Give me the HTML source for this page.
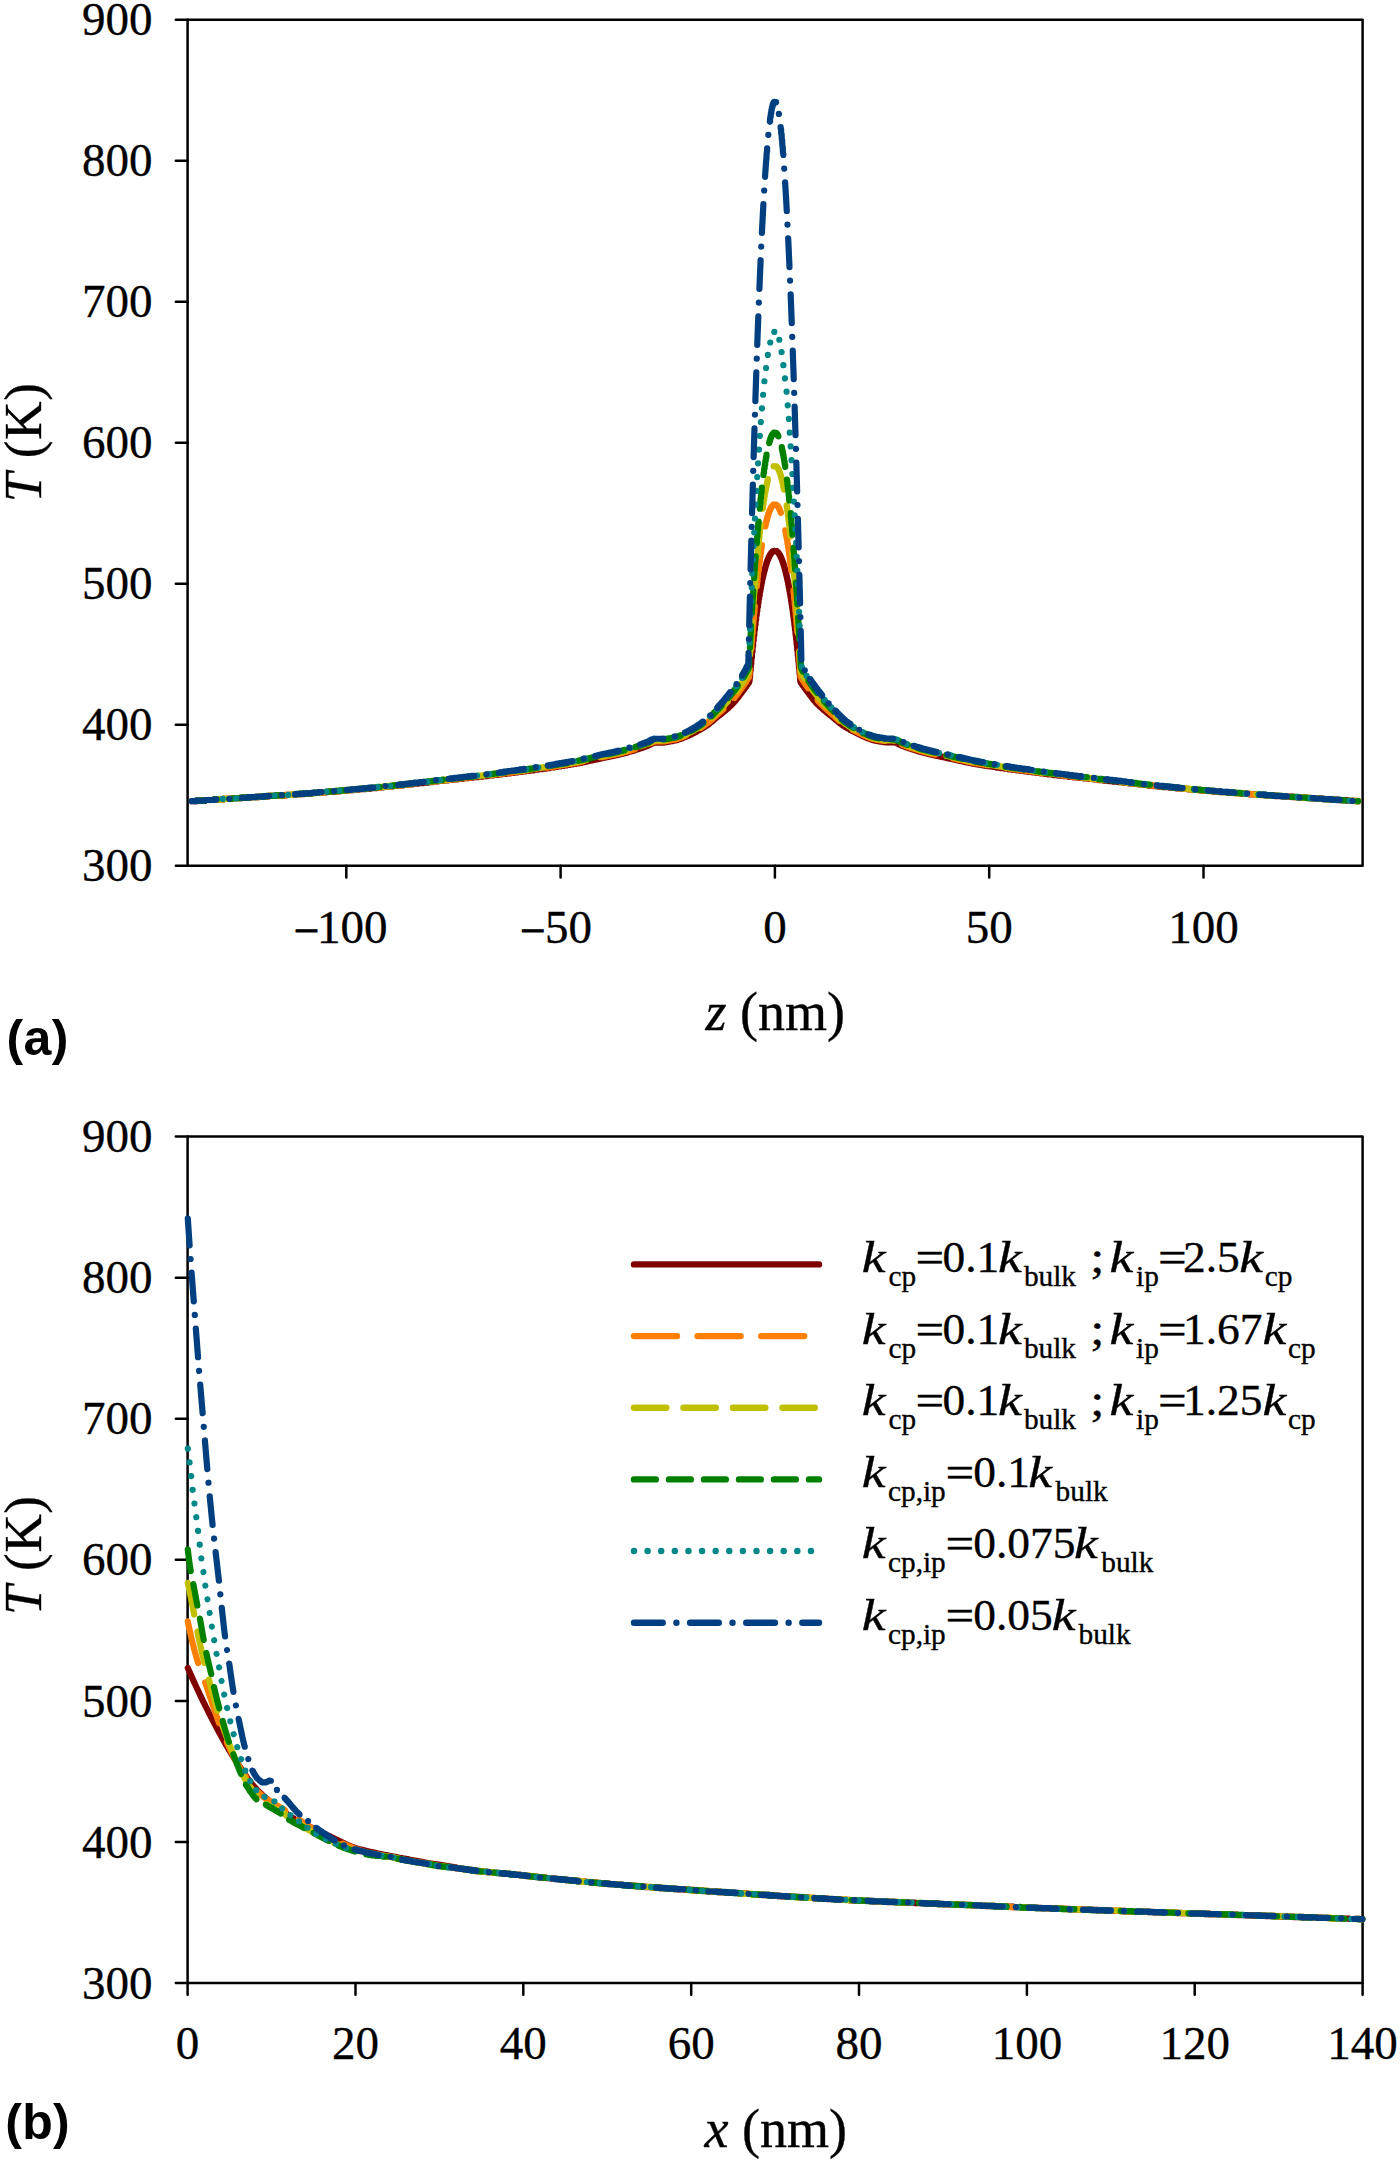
<!DOCTYPE html>
<html lang="en">
<head>
<meta charset="utf-8">
<title>Temperature profiles</title>
<style>html,body{margin:0;padding:0;background:#fff}svg{display:block}</style>
</head>
<body>
<svg width="1400" height="2162" viewBox="0 0 1400 2162">
<rect width="1400" height="2162" fill="#fff"/>
<g fill="none" stroke="#000" stroke-width="2.5" stroke-linecap="round" stroke-linejoin="round">
<rect x="187.6" y="19.8" width="1175" height="845.9"/>
<path d="M175.8 19.8 H187.6"/>
<path d="M175.8 160.8 H187.6"/>
<path d="M175.8 301.8 H187.6"/>
<path d="M175.8 442.8 H187.6"/>
<path d="M175.8 583.7 H187.6"/>
<path d="M175.8 724.7 H187.6"/>
<path d="M175.8 865.7 H187.6"/>
<rect x="187.6" y="1136.6" width="1175" height="846.4"/>
<path d="M175.8 1136.6 H187.6"/>
<path d="M175.8 1277.7 H187.6"/>
<path d="M175.8 1418.7 H187.6"/>
<path d="M175.8 1559.8 H187.6"/>
<path d="M175.8 1700.9 H187.6"/>
<path d="M175.8 1841.9 H187.6"/>
<path d="M175.8 1983 H187.6"/>
<path d="M346.3 865.7 V877.5"/>
<path d="M560.6 865.7 V877.5"/>
<path d="M774.9 865.7 V877.5"/>
<path d="M989.2 865.7 V877.5"/>
<path d="M1203.5 865.7 V877.5"/>
<path d="M187.6 1983 V1994.8"/>
<path d="M355.5 1983 V1994.8"/>
<path d="M523.3 1983 V1994.8"/>
<path d="M691.2 1983 V1994.8"/>
<path d="M859 1983 V1994.8"/>
<path d="M1026.9 1983 V1994.8"/>
<path d="M1194.7 1983 V1994.8"/>
<path d="M1362.6 1983 V1994.8"/>
</g>
<g fill="none" stroke-width="6.2" stroke-linecap="round" stroke-linejoin="round">
<path stroke="#800000" d="M191.8 801.19l4.5-.02v-.27l.02-.29h4.48l4.5-.02v-.28l.02-.29h4.48l4.5-.02v-.27l.02-.3h4.48l4.5-.02v-.27l.02-.29h4.48l4.5-.02v-.28l.02-.29h4.48l4.5-.02v-.28l.02-.29h4.48l4.5-.02v-.28l.02-.29h4.48l4.5-.02v-.27l.02-.28h4.48l4.5-.02v-.27l.02-.29h4.48l4.5-.02v-.27l.02-.29h4.48l4.5-.02v-.28l.02-.3h4.48l4.5-.02v-.28l.02-.28h3.98l4-.01v-.27l.02-.28h3.98l4-.02v-.28l.02-.3h3.98l3.5-.01v-.25l.01-.27h3.49l3.5-.01v-.27l.02-.28h3.48l3.5-.01v-.27l.02-.28h3.48l3.5-.02v-.28l.02-.29h3.48l3.5-.02v-.28l.01-.26h2.99l3-.01v-.25l.01-.26h2.99l3-.01v-.26l.01-.27h2.99l3-.01v-.26l.02-.28h2.98l3-.01v-.27l.01-.28h2.99l3-.01v-.27l.02-.28h2.98l3-.02v-.27l.01-.25h2.49l2.5-.01v-.24l.01-.26h2.49l2.5-.01v-.24l.01-.26h2.49l2.5-.01v-.26l.01-.26h2.49l2.5-.01v-.26l.01-.27h2.49l2.5-.01v-.26l.01-.27h2.49l2.5-.01v-.27l.01-.27h2.49l2.5-.01v-.27l.01-.28h2.49l2.5-.01v-.27l.01-.28h2.49l2.5-.01v-.27l.01-.28h2.49l2.5-.01v-.27l.01-.28h2.49l2.5-.01v-.26l.02-.28h2.48l2.5-.01v-.27l.01-.27h2.49l2.5-.01v-.27l.01-.27h2.49l2.5-.01v-.26l.01-.27h2.49l2.5-.01v-.26l.01-.27h2.49l2.5-.01v-.26l.01-.27h2.49l2.5-.01v-.26l.01-.27h2.49l2.5-.01v-.26l.01-.27h2.49l2.5-.01v-.27l.01-.27h2.49l2.5-.01v-.27l.02-.28h2.48l2.5-.01v-.27l.02-.29h2.48l2.5-.01v-.28l.02-.29h2.48l2.5-.02v-.27l.01-.24h1.99l2-.01v-.23l.01-.25h1.99l2-.01v-.23l.01-.25h1.99l2-.01v-.25l.01-.25h1.99l2-.01v-.24l.01-.26h1.99l2-.01v-.24l.01-.26h1.99l2-.01v-.25l.01-.26h1.99l2-.01v-.25l.01-.26h1.99l2-.01v-.26l.01-.26h1.99l2-.01v-.26l.01-.27h1.99l2-.01v-.27l.01-.27h1.99l2-.01v-.27l.01-.28h1.99l2-.01v-.28l.02-.29h1.98l2-.01v-.28l.02-.3h1.98l2-.02v-.28l.02-.3h1.98l1.5-.01v-.22l.01-.23h1.49l1.5-.01v-.23l.01-.23h1.49l1.5-.01v-.23l.01-.24h1.49l1.5-.01v-.23l.01-.24h1.49l1.5-.01v-.23l.01-.25h1.49l1.5-.01v-.24l.01-.25h1.49l1.5-.01v-.25l.01-.26h1.49l1.5-.01v-.27l.01-.29h1.49l1-.01v-.19l.01-.21h.99l1-.01v-.19l.01-.21h.99l1-.01v-.2l.01-.22h.99l1-.01v-.2l.01-.22h.99l1-.01v-.22l.01-.22h.99l1-.01v-.21l.01-.23h.99l1-.01v-.21l.01-.23h.99l1-.01v-.21l.01-.23h.99l1-.01v-.21l.01-.22h.99l1-.01v-.22l.01-.22h.99l1-.01v-.2l.01-.22h.99l1-.01v-.2l.01-.21h.99l1-.01v-.2l.01-.21h.99l1-.01v-.2l.01-.2h.99l1-.01v-.2l.01-.21h.99l1-.01v-.2l.01-.21h.99l1-.01v-.2l.01-.22h.99l1-.01v-.21l.01-.22h.99l1-.01v-.22l.01-.23h.99l1-.01v-.23l.01-.24h.99l1-.01v-.24l.01-.25h.99l1-.01v-.25l.01-.26h.99l1-.01v-.26l.01-.27h.99l1-.01v-.26l.01-.28h.99l1-.01v-.27l.01-.29h.99l1-.01v-.28l.01-.3h.99l1-.01v-.28l.01-.16h.49l.5-.01v-.14l.01-.15h.49l.5-.01v-.14l.01-.16h.49l.5-.01v-.14l.01-.16h.49l.5-.01v-.15l.01-.16h.49l.5-.01v-.15l.01-.16h.49l.5-.01v-.15l.01-.16h.49l.5-.01v-.15l.01-.17h.49l.5-.01v-.15l.01-.17h.49l.5-.01v-.17l.01-.17h.49l.5-.01v-.17l.01-.18h.49l.5-.01v-.17l.01-.18h.49l.5-.01v-.18l.01-.18h.49l.5-.01v-.18l.01-.19h.49l.5-.01v-.18l.01-.19h.49l.5-.01v-.19l.01-.23h.49l.5-.01v-.23l.01-.26h.49l.5-.01v-.26l.01-.28h.49l.5-.01v-.26l.01-.27h.49l.5-.01v-.24l.01-.24h.49l.5-.01v-.21l.01-.19h.49l1-.01v-.27v.02h7l2.5-.01v-.23l.01-.28h1.49l1.5-.01v-.26l.01-.24h1.49l1.5-.01v-.21l.01-.24h1.49l1.5-.01v-.24l.02-.3h1.48l1-.01v-.21l.01-.27h.99l1-.01v-.28l.01-.16h.49l.5-.01v-.15l.01-.17h.49l.5-.01v-.16l.01-.18h.49l.5-.01v-.18l.01-.19h.49l.5-.01v-.18l.01-.2h.49l.5-.01v-.19l.01-.2h.49l.5-.01v-.19l.01-.21h.49l.5-.01v-.19l.01-.21h.49l.5-.01v-.2l.01-.2h.49l.5-.01v-.21l.01-.21h.49l.5-.01v-.21l.01-.22h.49l.5-.01v-.22l.01-.23h.49l.5-.01v-.22l.01-.24h.49l.5-.01v-.23l.01-.24h.49l.5-.01v-.24l.01-.24h.49l.5-.01v-.24l.01-.25h.49l.5-.01v-.25l.01-.25h.49l.5-.01v-.25l.01-.26h.49l.5-.01v-.25l.01-.26h.49l.5-.01v-.25l.01-.27h.49l.5-.01v-.26l.01-.27h.49l.5-.01v-.27l.01-.28h.49l.5-.01v-.27l.01-.28h.49l.5-.01v-.28l.01-.29h.49l.5-.01v-.28l.01-.3h.49l.5-.01v-.29l.01-.3h.49l.5-.01v-.29l.01-.3h.49l.5-.01v-.3l.01-.31h.49l.5-.01v-.32l.01-.33h.49l.5-.01v-.34l.01-.35h.49l.5-.01v-.35l.01-.37h.49l.5-.01v-.36l.01-.39h.49l.5-.01v-.37l.01-.4h.49l.5-.01v-.39l.01-.4h.49l.5-.01v-.4l.01-.41h.49l.5-.01v-.4l.02-.42h.48l.5-.01v-.41l.01-.42h.49l.5-.01v-.41l.01-.41h.49l.3-.01v-.24l.01-.24h.29l.3-.01v-.24l.01-.24h.29l.3-.01v-.23l.01-.24h.29l.3-.01v-.23l.01-.24h.29l.3-.01v-.23l.01-.23h.29l.3-.01v-.23l.01-.24h.29l.3-.01v-.22l.01-.24h.29l.3-.01v-.23l.01-.24h.29l.3-.01v-.23l.01-.24h.29l.3-.01v-.24l.01-.24h.29l.3-.01v-.24l.01-.24h.29l.3-.01v-.24l.01-.25h.29l.3-.01v-.24l.01-.26h.29l.3-.01v-.24l.01-.26h.29l.3-.01v-.24l.01-.25h.29l.3-.01v-.24l.01-.26h.29l.3-.01v-.24l.01-.25h.29l.3-.01v-.24l.01-.25h.29l.3-.01v-.24l.01-.25h.29l.3-.01v-.24l.01-.25h.29l.3-.01v-.25l.01-.25h.29l.3-.01v-.25l.01-.26h.29l.3-.01v-.25l.01-.26h.29l.3-.01v-.25l.01-.27h.29l.3-.01v-.26l.01-.28h.29l.3-.01v-.26l.01-.28h.29l.3-.01v-.28l.01-.28h.29l.3-.01v-.29l.01-.29h.29l.2-.01v-.19l.01-.2h.19l.2-.01v-.19l.01-.21h.19l.2-.01v-.19l.01-.21h.19l.2-.01v-.2l.01-.21h.19l.2-.01v-.21l.01-.22h.19l.2-.01v-.21l.01-.22h.19l.2-.01v-.21l.01-.23h.19l.2-.01v-.22l.01-.23h.19l.2-.01v-.23l.01-.23h.19l.2-.01v-.23l.01-.24h.19l.2-.01v-.24l.01-.24h.19l.2-.01v-.24l.01-.25h.19l.2-.01v-.24l.01-.25h.19l.2-.01v-.24l.01-.26h.19l.2-.01v-.25l.01-.25h.19l.2-.01v-.25l.01-.26h.19l.2-.01v-.26l.01-.26h.19l.2-.01v-.25l.01-.27h.19l.2-.01v-.25l.01-.27h.19l.2-.01v-.26l.01-.27h.19l.2-.01v-.26l.01-.26h.19l.2-.01v-.26l.01-.27h.19l.2-.01v-.26l.01-.28h.19l.2-.01v-.26l.01-.27h.19l.2-.01v-.26l.01-.27h.19l.2-.01v-.26l.01-.27h.19l.2-.01v-.26l.01-.27h.19l.2-.01v-.26l.01-.26h.19l.2-.01v-.26l.01-.26h.19l.2-.01v-.26l.01-.27h.19l.2-.01v-.25l.01-.27h.19l.2-.01v-.27l.01-.27h.19l.2-.01v-.26l.01-.27h.19l.2-.01v-.27l.01-.27h.19l.2-.01v-.27l.01-.28h.19l.2-.01v-.26l.01-.28h.19l.2-.01v-.27l.01-.28h.19l.2-.01v-.27l.01-.28h.19l.2-.01v-.27l.01-.28h.19l.2-.01v-.28l.01-.28h.19l.2-.01v-.27l.01-.29h.19l.2-.01v-.27l.01-.29h.19l.2-.01v-.27l.01-.29h.19l.2-.02v-.33l.03-.41h.17l.3-.06v-.57l.25-3.42h.05l.3-.68v-2.68l.24-3.3h.06l.3-.61v-2.64l.24-3.19h.06l.3-.55v-2.59l.23-3.08h.07l.3-.49v-2.54l.22-2.97h.08l.3-.44v-2.48l.21-2.87h.09l.3-.4v-2.42l.2-2.77h.1l.3-.37v-2.34l.2-2.67h.1l.3-.36v-2.25l.2-2.57h.1l.3-.36v-2.16l.2-2.46h.1l.3-.36v-2.07l.2-2.37h.1l.3-.37v-1.96l.2-2.28h.1l.3-.37v-1.86l.2-2.19h.1l.3-.37v-1.78l.2-2.1h.1l.3-.36v-1.7l.19-2.01h.11l.3-.31v-1.66l.18-1.92h.12l.3-.26v-1.63l.17-1.84h.13l.3-.23v-1.57l.15-1.76h.15l.3-.2v-1.52l.14-1.67h.16l.3-.17v-1.47l.12-1.6h.18l.3-.15v-1.4l.11-1.52h.19l.3-.13v-1.35l.1-1.44h.2l.3-.11v-1.29l.09-1.37h.21l.3-.09v-1.23l.08-1.29h.22l.3-.09v-1.16l.08-1.22h.22l.3-.09v-1.08l.08-1.15h.22l.3-.09v-1.01l.08-1.07h.22l.3-.09v-.94l.08-1h.22l.3-.09v-.88l.08-.92h.22l.3-.09v-.81l.08-.86h.22l.3-.09v-.73l.08-.79h.22l.3-.08v-.68l.08-.72h.22l.3-.08v-.61l.07-.65h.23l.3-.08v-.55l.07-.58h.23l.3-.08v-.48l.07-.52h.23l.3-.07v-.42l.07-.46h.23l.3-.07v-.35l.06-.39h.24l.3-.06v-.3l.06-.33h.24l.3-.06v-.23l.06-.3h.28l.4-.06v-.23l.07-.3h.45l1.02-.08v-.22l.1 .29h1.54l.52 .07v.23l.07 .29h.33l.34 .06v.23l.06 .29h.24l.28 .06v.24l.06 .33h.22l.28 .06v.3l.06 .39h.22l.28 .07v.34l.06 .45h.22l.28 .07v.4l.07 .5h.21l.28 .07v.46l.07 .56h.21l.28 .07v.51l.07 .62h.21l.28 .08v.57l.07 .67h.21l.28 .08v.63l.07 .73h.21l.28 .08v.69l.07 .79h.21l.28 .08v.74l.07 .86h.21l.28 .08v.8l.07 .92h.21l.28 .08v.86l.08 .98h.2l.28 .09v.92l.08 1.04h.2l.28 .09v.98l.08 1.1h.2l.28 .09v1.05l.08 1.17h.2l.28 .09v1.1l.08 1.24h.2l.28 .09v1.17l.08 1.3h.2l.28 .1v1.23l.09 1.36h.19l.28 .12v1.28l.1 1.44h.18l.28 .13v1.33l.11 1.5h.17l.28 .15v1.39l.12 1.57h.16l.28 .18v1.43l.14 1.64h.14l.28 .2v1.48l.15 1.71h.13l.28 .23v1.53l.16 1.78h.12l.28 .26v1.57l.17 1.86h.11l.28 .3v1.61l.19 1.93h.09l.28 .35v1.63l.19 2.02h.09l.28 .35v1.71l.19 2.09h.09l.28 .35v1.79l.19 2.18h.09l.28 .34v1.87l.19 2.26h.09l.28 .34v1.96l.19 2.34h.09l.28 .34v2.05l.19 2.43h.09l.28 .33v2.14l.18 2.51h.1l.28 .34v2.22l.19 2.6h.09l.3 .39v2.45l.2 2.7h.08l.28 .4v2.34l.2 2.78h.08l.3 .47v2.57l.21 2.89h.07l.28 .49v2.44l.23 3.2h.07l.3 .59v2.66l.22 3.08h.06l.3 .65v2.71l.25 3.42h.05l.3 .08v.55l.05 .62h.25l.3 .03v.4l.02 .43h.28l.3 .01v.41l.01 .43h.29l.3 .01v.41l.01 .43h.29l.3 .01v.41l.01 .42h.29l.3 .01v.41l.01 .42h.29l.3 .01v.4l.01 .42h.29l.3 .01v.4l.01 .41h.29l.3 .01v.4l.01 .41h.29l.3 .01v.4l.01 .4h.29l.3 .01v.39l.01 .4h.29l.3 .01v.38l.01 .4h.29l.3 .01v.4l.01 .4h.29l.3 .01v.4l.01 .41h.29l.3 .01v.39l.01 .41h.29l.3 .01v.4l.01 .4h.29l.3 .01v.39l.01 .41h.29l.3 .01v.39l.01 .39h.29l.3 .01v.39l.01 .39h.29l.3 .01v.39l.01 .38h.29l.3 .01v.38l.01 .38h.29l.3 .01v.37l.01 .38h.29l.3 .01v.36l.01 .36h.29l.3 .01v.36l.01 .35h.29l.3 .01v.35l.01 .34h.29l.3 .01v.34l.01 .33h.29l.3 .01v.32l.01 .33h.29l.3 .01v.31l.01 .31h.29l.3 .01v.3l.01 .31h.29l.3 .01v.29l.01 .3h.29l.3 .01v.28l.01 .29h.29l.3 .01v.28l.01 .28h.29l.3 .01v.27l.01 .28h.29l.3 .01v.26l.01 .27h.29l.3 .01v.25l.01 .27h.29l.3 .01v.25l.01 .26h.29l.3 .01v.25l.01 .25h.29l.3 .01v.25l.01 .25h.29l.3 .01v.24l.01 .26h.29l.3 .01v.24l.01 .25h.29l.3 .01v.24l.01 .25h.29l.3 .01v.24l.01 .25h.29l.3 .01v.24l.01 .25h.29l.3 .01v.24l.01 .26h.29l.3 .01v.24l.01 .26h.29l.3 .01v.24l.01 .25h.29l.3 .01v.24l.01 .25h.29l.3 .01v.24l.01 .24h.29l.3 .01v.24l.01 .24h.29l.3 .01v.23l.01 .24h.29l.3 .01v.23l.01 .24h.29l.3 .01v.23l.01 .23h.29l.3 .01v.23l.01 .24h.29l.3 .01v.22l.01 .24h.29l.3 .01v.23l.01 .24h.29l.3 .01v.23l.01 .24h.29l.3 .01v.24l.01 .24h.29l.3 .01v.24l.01 .16h.19l.5 .01v.4l.01 .42h.49l.5 .01v.41l.01 .42h.49l.5 .01v.41l.01 .41h.49l.5 .01v.4l.01 .41h.49l.5 .01v.39l.01 .4h.49l.5 .01v.39l.01 .38h.49l.5 .01v.38l.01 .37h.49l.5 .01v.36l.01 .36h.49l.5 .01v.34l.01 .35h.49l.5 .01v.32l.01 .33h.49l.5 .01v.3l.01 .31h.49l.5 .01v.29l.01 .3h.49l.5 .01v.29l.01 .3h.49l.5 .01v.29l.01 .29h.49l.5 .01v.28l.01 .29h.49l.5 .01v.27l.01 .28h.49l.5 .01v.27l.01 .28h.49l.5 .01v.26l.01 .27h.49l.5 .01v.26l.01 .26h.49l.5 .01v.25l.01 .26h.49l.5 .01v.25l.01 .26h.49l.5 .01v.24l.01 .26h.49l.5 .01v.24l.01 .25h.49l.5 .01v.23l.01 .25h.49l.5 .01v.23l.01 .24h.49l.5 .01v.23l.01 .23h.49l.5 .01v.22l.01 .23h.49l.5 .01v.21l.01 .22h.49l.5 .01v.2l.01 .22h.49l.5 .01v.19l.01 .21h.49l.5 .01v.2l.01 .2h.49l.5 .01v.2l.01 .2h.49l.5 .01v.19l.01 .2h.49l.5 .01v.19l.01 .19h.49l.5 .01v.18l.01 .19h.49l.5 .01v.17l.01 .17h.49l.5 .01v.16l.01 .16h.49l.5 .01v.15l.01 .29h.99l1 .01v.26l.01 .22h.99l1.5 .01v.29l.01 .25h1.49l1.5 .01v.23l.02 .3h1.98l1.5 .01v.23l.01 .29h1.49l1.5 .01v.24v.06h7l2.5 .01v.2l.01 .16h.49l.5 .01v.18l.01 .22h.49l.5 .01v.23l.01 .25h.49l.5 .01v.26l.01 .27h.49l.5 .01v.27l.01 .27h.49l.5 .01v.25l.01 .24h.49l.5 .01v.22l.01 .2h.49l.5 .01v.18l.01 .19h.49l.5 .01v.18l.01 .19h.49l.5 .01v.17l.01 .19h.49l.5 .01v.17l.01 .18h.49l.5 .01v.17l.01 .18h.49l.5 .01v.16l.01 .18h.49l.5 .01v.16l.01 .16h.49l.5 .01v.16l.01 .16h.49l.5 .01v.15l.01 .16h.49l.5 .01v.15l.01 .16h.49l.5 .01v.15l.01 .16h.49l.5 .01v.15l.01 .15h.49l.5 .01v.15l.01 .15h.49l.5 .01v.14l.01 .15h.49l.5 .01v.15l.01 .29h.99l1 .01v.29l.01 .29h.99l1 .01v.28l.01 .28h.99l1 .01v.27l.01 .27h.99l1 .01v.26l.01 .27h.99l1 .01v.25l.01 .26h.99l1 .01v.24l.01 .25h.99l1 .01v.23l.01 .24h.99l1 .01v.22l.01 .23h.99l1 .01v.21l.01 .22h.99l1 .01v.21l.01 .21h.99l1 .01v.2l.01 .21h.99l1 .01v.2l.01 .21h.99l1 .01v.19l.01 .21h.99l1 .01v.2l.01 .21h.99l1 .01v.2l.01 .21h.99l1 .01v.21l.01 .21h.99l1 .01v.21l.01 .23h.99l1 .01v.21l.01 .22h.99l1 .01v.22l.01 .22h.99l1 .01v.22l.01 .22h.99l1 .01v.22l.01 .22h.99l1 .01v.21l.01 .23h.99l1 .01v.21l.01 .21h.99l1 .01v.21l.01 .21h.99l1 .01v.2l.01 .2h.99l1 .01v.2l.01 .29h1.49l1.5 .01v.28l.01 .28h1.49l1.5 .01v.25l.01 .25h1.49l1.5 .01v.25l.01 .24h1.49l1.5 .01v.24l.01 .24h1.49l1.5 .01v.23l.01 .24h1.49l1.5 .01v.23l.01 .24h1.49l1.5 .01v.22l.01 .24h1.49l1.5 .01v.22l.01 .23h1.49l2 .02v.28l.02 .3h1.98l2 .01v.28l.02 .29h1.98l2 .01v.28l.01 .29h1.99l2 .01v.27l.01 .28h1.99l2 .01v.26l.01 .28h1.99l2 .01v.26l.01 .26h1.99l2 .01v.26l.01 .27h1.99l2 .01v.25l.01 .26h1.99l2 .01v.25l.01 .25h1.99l2 .01v.25l.01 .26h1.99l2 .01v.24l.01 .25h1.99l2 .01v.25l.01 .25h1.99l2 .01v.24l.01 .24h1.99l2 .01v.24l.02 .3h2.48l2.5 .02v.27l.02 .3h2.48l2.5 .01v.28l.02 .28h2.48l2.5 .01v.28l.01 .28h2.49l2.5 .01v.26l.02 .28h2.48l2.5 .01v.27l.01 .27h2.49l2.5 .01v.26l.01 .27h2.49l2.5 .01v.26l.01 .27h2.49l2.5 .01v.26l.01 .27h2.49l2.5 .01v.26l.01 .27h2.49l2.5 .01v.26l.01 .27h2.49l2.5 .01v.27l.01 .27h2.49l2.5 .01v.27l.01 .27h2.49l2.5 .01v.27l.02 .28h2.48l2.5 .01v.27l.01 .28h2.49l2.5 .01v.27l.01 .28h2.49l2.5 .01v.27l.01 .28h2.49l2.5 .01v.26l.01 .28h2.49l2.5 .01v.27l.01 .27h2.49l2.5 .01v.26l.01 .27h2.49l2.5 .01v.26l.01 .27h2.49l2.5 .01v.25l.01 .26h2.49l2.5 .01v.25l.01 .26h2.49l3 .02v.28l.02 .3h2.98l3 .02v.27l.02 .28h2.98l3 .01v.27l.02 .28h2.98l3 .01v.27l.01 .28h2.99l3 .01v.26l.01 .27h2.99l3 .01v.26l.01 .26h2.99l3 .01v.25l.01 .26h2.99l3 .01v.25l.02 .29h3.48l3.5 .02v.27l.02 .29h3.48l3.5 .01v.27l.02 .28h3.48l3.5 .01v.27l.01 .27h3.49l3.5 .01v.25l.01 .27h3.49l4 .02v.27l.02 .29h3.98l4 .02v.26l.02 .28h3.98l4 .01v.26l.01 .27h3.99l4.5 .02v.28l.02 .29h4.48l4.5 .02v.27l.02 .29h4.48l4.5 .02v.27l.02 .29h4.48l4.5 .02v.26l.02 .29h4.48l4.5 .02v.28l.02 .29h4.48l4.5 .02v.28l.02 .29h4.48l4.5 .02v.28l.02 .29h4.48l4.5 .02v.27l.02 .3h4.48l4.5 .02v.27l.02 .29h4.48l4.5 .02v.28l.02 .29h4.48l4.5 .02v.27l.01 .13h1.99"/>
<path stroke="#ff8000" stroke-dasharray="43 20.6" stroke-dashoffset="58.4" d="M191.8 801.19l4.5-.02v-.27l.02-.29h4.48l4.5-.02v-.28l.02-.29h4.48l4.5-.02v-.28l.02-.29h4.48l4.5-.02v-.28l.02-.29h4.48l4.5-.02v-.28l.02-.3h4.48l4.5-.02v-.28l.02-.29h4.48l4-.01v-.26l.02-.29h4.48l4.5-.02v-.28l.02-.29h4.48l4.5-.02v-.27l.02-.29h4.48l4.5-.02v-.27l.02-.3h4.48l4.5-.02v-.28l.01-.27h3.99l4-.01v-.26l.02-.28h3.98l4-.02v-.26l.02-.29h3.98l3.5-.01v-.25l.01-.27h3.49l3.5-.01v-.25l.01-.28h3.49l3.5-.01v-.26l.02-.28h3.48l3.5-.02v-.27l.02-.28h3.48l3.5-.02v-.27l.01-.26h2.99l3.5-.02v-.28l.01-.26h2.99l3-.01v-.25l.01-.27h2.99l3-.01v-.26l.01-.27h2.99l3-.01v-.26l.02-.28h2.98l3-.01v-.27l.02-.28h2.98l3-.01v-.27l.02-.29h2.98l3-.02v-.27l.02-.3h2.98l2.5-.01v-.24l.01-.26h2.49l2.5-.01v-.25l.01-.26h2.49l2.5-.01v-.25l.01-.27h2.49l2.5-.01v-.26l.01-.28h2.49l2.5-.01v-.26l.01-.28h2.49l2.5-.01v-.27l.01-.28h2.49l2.5-.01v-.27l.02-.29h2.48l2.5-.01v-.27l.02-.29h2.48l2.5-.01v-.27l.02-.29h2.48l2.5-.01v-.27l.02-.29h2.48l2.5-.01v-.28l.01-.28h2.49l2.5-.01v-.28l.01-.28h2.49l2.5-.01v-.27l.02-.28h2.48l2.5-.01v-.27l.01-.28h2.49l2.5-.01v-.27l.01-.28h2.49l2.5-.01v-.26l.01-.28h2.49l2.5-.01v-.27l.01-.28h2.49l2.5-.01v-.27l.01-.28h2.49l2.5-.01v-.27l.01-.28h2.49l2.5-.01v-.28l.02-.28h2.48l2.5-.02v-.27l.02-.29h2.48l2.5-.02v-.28l.02-.29h2.48l2-.01v-.24l.02-.3h2.48l2-.01v-.23l.01-.25h1.99l2-.01v-.24l.01-.26h1.99l2-.01v-.24l.01-.26h1.99l2-.01v-.25l.01-.27h1.99l2-.01v-.25l.01-.26h1.99l2-.01v-.26l.01-.26h1.99l2-.01v-.26l.01-.27h1.99l2-.01v-.26l.01-.27h1.99l2-.01v-.27l.01-.27h1.99l2-.01v-.27l.02-.29h1.98l2-.01v-.27l.02-.29h1.98l2-.01v-.28l.02-.29h1.98l1.5-.01v-.22l.02-.3h1.98l2-.02v-.28l.01-.23h1.49l1.5-.01v-.22l.01-.24h1.49l1.5-.01v-.22l.01-.24h1.49l1.5-.01v-.23l.01-.25h1.49l1.5-.01v-.23l.01-.25h1.49l1.5-.01v-.24l.01-.25h1.49l1.5-.01v-.24l.01-.25h1.49l1.5-.01v-.25l.01-.26h1.49l1.5-.01v-.26l.01-.27h1.49l1.5-.01v-.28l.01-.29h1.49l1-.01v-.2l.01-.2h.99l1-.01v-.2l.01-.22h.99l1-.01v-.21l.01-.21h.99l1-.01v-.22l.01-.22h.99l1-.01v-.22l.01-.22h.99l1-.01v-.22l.01-.23h.99l1-.01v-.22l.01-.23h.99l1-.01v-.22l.01-.23h.99l1-.01v-.22l.01-.22h.99l1-.01v-.22l.01-.22h.99l1-.01v-.21l.01-.22h.99l1-.01v-.21l.01-.21h.99l1-.01v-.2l.01-.21h.99l1-.01v-.2l.01-.21h.99l1-.01v-.2l.01-.21h.99l1-.01v-.2l.01-.21h.99l1-.01v-.2l.01-.22h.99l1-.01v-.21l.01-.22h.99l1-.01v-.22l.01-.23h.99l1-.01v-.22l.01-.25h.99l1-.01v-.23l.01-.25h.99l1-.01v-.25l.01-.26h.99l1-.01v-.26l.01-.27h.99l1-.01v-.26l.01-.28h.99l1-.01v-.27l.01-.28h.99l1-.01v-.28l.01-.3h.99l1-.01v-.29l.01-.3h.99l.5-.01v-.14l.01-.15h.49l.5-.01v-.15l.01-.15h.49l.5-.01v-.15l.01-.16h.49l.5-.01v-.14l.01-.16h.49l.5-.01v-.15l.01-.16h.49l.5-.01v-.16l.01-.16h.49l.5-.01v-.15l.01-.17h.49l.5-.01v-.15l.01-.17h.49l.5-.01v-.17l.01-.17h.49l.5-.01v-.17l.01-.18h.49l.5-.01v-.17l.01-.19h.49l.5-.01v-.17l.01-.19h.49l.5-.01v-.18l.01-.19h.49l.5-.01v-.18l.01-.19h.49l.5-.01v-.19l.01-.23h.49l.5-.01v-.23l.01-.26h.49l.5-.01v-.26l.01-.27h.49l.5-.01v-.27l.01-.26h.49l.5-.01v-.25l.01-.24h.49l.5-.01v-.21l.01-.19h.49l1-.01v-.28v.03h7l2.5-.01v-.24l.01-.28h1.49l1.5-.01v-.26l.01-.24h1.49l1.5-.01v-.22l.01-.23h1.49l1.5-.01v-.25l.02-.3h1.48l1-.01v-.22l.01-.26h.99l1-.01v-.29l.01-.16h.49l.5-.01v-.16l.01-.17h.49l.5-.01v-.17l.01-.18h.49l.5-.01v-.18l.01-.2h.49l.5-.01v-.18l.01-.2h.49l.5-.01v-.2l.01-.21h.49l.5-.01v-.2l.01-.21h.49l.5-.01v-.2l.01-.21h.49l.5-.01v-.2l.01-.22h.49l.5-.01v-.21l.01-.22h.49l.5-.01v-.22l.01-.23h.49l.5-.01v-.22l.01-.24h.49l.5-.01v-.23l.01-.24h.49l.5-.01v-.24l.01-.25h.49l.5-.01v-.24l.01-.26h.49l.5-.01v-.25l.01-.26h.49l.5-.01v-.25l.01-.27h.49l.5-.01v-.26l.01-.27h.49l.5-.01v-.26l.01-.28h.49l.5-.01v-.27l.01-.28h.49l.5-.01v-.27l.01-.29h.49l.5-.01v-.28l.01-.3h.49l.5-.01v-.28l.01-.3h.49l.5-.01v-.3l.01-.31h.49l.5-.01v-.3l.01-.31h.49l.5-.01v-.31l.01-.32h.49l.5-.01v-.31l.01-.33h.49l.5-.01v-.32l.01-.33h.49l.5-.01v-.34l.01-.36h.49l.5-.01v-.36l.01-.38h.49l.5-.01v-.38l.01-.39h.49l.5-.01v-.4l.01-.41h.49l.5-.01v-.4l.02-.43h.48l.5-.02v-.41l.02-.43h.48l.5-.02v-.42l.02-.44h.48l.5-.02v-.43l.02-.45h.48l.5-.02v-.44l.02-.45h.48l.5-.02v-.43l.02-.45h.48l.3-.01v-.26l.01-.27h.29l.3-.01v-.26l.01-.26h.29l.3-.01v-.26l.01-.27h.29l.3-.01v-.25l.01-.26h.29l.3-.01v-.26l.01-.26h.29l.3-.01v-.25l.01-.26h.29l.3-.01v-.26l.01-.26h.29l.3-.01v-.26l.01-.27h.29l.3-.01v-.25l.01-.27h.29l.3-.01v-.26l.01-.27h.29l.3-.01v-.27l.01-.27h.29l.3-.01v-.27l.01-.28h.29l.3-.01v-.26l.01-.29h.29l.3-.01v-.27l.01-.28h.29l.3-.01v-.27l.01-.28h.29l.3-.01v-.28l.01-.28h.29l.3-.01v-.27l.01-.28h.29l.3-.01v-.27l.01-.29h.29l.3-.01v-.27l.01-.28h.29l.3-.01v-.28l.01-.28h.29l.3-.01v-.28l.01-.29h.29l.3-.01v-.28l.01-.29h.29l.3-.01v-.28l.01-.2h.19l.3-.01v-.29l.01-.3h.29l.3-.01v-.29l.01-.2h.19l.2-.01v-.2l.01-.2h.19l.2-.01v-.2l.01-.2h.19l.2-.01v-.2l.01-.21h.19l.2-.01v-.2l.01-.22h.19l.2-.01v-.2l.01-.22h.19l.2-.01v-.21l.01-.21h.19l.2-.01v-.21l.01-.22h.19l.2-.01v-.22l.01-.22h.19l.2-.01v-.22l.01-.22h.19l.2-.01v-.22l.01-.23h.19l.2-.01v-.23l.01-.23h.19l.2-.01v-.23l.01-.24h.19l.2-.01v-.23l.01-.24h.19l.2-.01v-.24l.01-.25h.19l.2-.01v-.24l.01-.25h.19l.2-.01v-.24l.01-.25h.19l.2-.01v-.25l.01-.25h.19l.2-.01v-.25l.01-.26h.19l.2-.01v-.25l.01-.27h.19l.2-.01v-.25l.01-.27h.19l.2-.01v-.26l.01-.26h.19l.2-.01v-.26l.01-.27h.19l.2-.01v-.27l.01-.27h.19l.2-.01v-.26l.01-.28h.19l.2-.01v-.27l.01-.27h.19l.2-.01v-.27l.01-.28h.19l.2-.01v-.27l.01-.28h.19l.2-.01v-.27l.01-.28h.19l.2-.01v-.28l.01-.28h.19l.2-.01v-.27l.01-.29h.19l.2-.01v-.27l.01-.29h.19l.2-.01v-.27l.01-.29h.19l.2-.01v-.27l.01-.29h.19l.2-.01v-.27l.01-.29h.19l.2-.01v-.28l.01-.29h.19l.2-.01v-.28l.01-.29h.19l.2-.01v-.29l.01-.29h.19l.2-.01v-.29l.01-.3h.19l.2-.01v-.29l.01-.31h.19l.2-.01v-.29l.01-.31h.19l.2-.01v-.3l.01-.31h.19l.2-.01v-.3l.01-.31h.19l.2-.01v-.3l.01-.31h.19l.2-.01v-.31l.01-.31h.19l.2-.01v-.31l.01-.32h.19l.2-.01v-.31l.01-.32h.19l.2-.01v-.3l.01-.32h.19l.2-.01v-.32l.02-.32h.18l.2-.03v-.34l.05-.62h.25l.28-4.1l.16-2.32l.16-2.3l.18-2.56l.18-2.53l.02-.28l.3-4.17l.3-2.85v-1.25l.29-4.03h.01l.3-1.76v-2.21l.28-3.89h.02l.3-1.28v-2.56l.27-3.76h.03l.3-1.02v-2.69l.26-3.64h.04l.3-.86v-2.72l.26-3.51h.04l.3-.75v-2.7l.25-3.39h.05l.3-.66v-2.67l.24-3.27h.06l.3-.59v-2.62l.23-3.15h.07l.3-.52v-2.57l.22-3.03h.08l.3-.46v-2.51l.22-2.92h.08l.3-.42v-2.44l.21-2.8h.09l.3-.38v-2.37l.2-2.69h.1l.3-.35v-2.29l.2-2.58h.1l.3-.36v-2.17l.2-2.47h.1l.3-.36v-2.06l.2-2.37h.1l.3-.37v-1.95l.2-2.26h.1l.3-.37v-1.84l.2-2.16h.1l.3-.37v-1.74l.2-2.05h.1l.3-.33v-1.68l.19-1.96h.11l.3-.28v-1.63l.17-1.85h.13l.3-.23v-1.58l.15-1.76h.15l.3-.2v-1.52l.14-1.66h.16l.3-.17v-1.45l.12-1.56h.18l.3-.14v-1.39l.11-1.47h.19l.3-.12v-1.31l.09-1.38h.21l.3-.1v-1.23l.08-1.29h.22l.3-.09v-1.16l.08-1.19h.22l.3-.09v-1.07l.08-1.1h.22l.3-.09v-.98l.08-1.01h.22l.3-.09v-.89l.08-.92h.22l.3-.09v-.8l.08-.84h.22l.3-.09v-.71l.08-.75h.22l.3-.08v-.63l.07-.66h.23l.3-.08v-.55l.07-.58h.23l.3-.08v-.45l.07-.5h.23l.3-.07v-.38l.07-.4h.23l.3-.06v-.31l.06-.32h.24l.32-.06v-.24l.07-.3h.33l.56-.07v-.22l.1 .29h2.14l.38 .06v.23l.06 .29h.26l.28 .06v.24l.06 .33h.22l.28 .06v.31l.06 .41h.22l.28 .07v.37l.07 .49h.21l.28 .07v.45l.07 .56h.21l.28 .08v.51l.07 .64h.21l.28 .08v.59l.07 .71h.21l.28 .08v.66l.07 .79h.21l.28 .08v.74l.07 .87h.21l.28 .08v.82l.07 .94h.21l.28 .08v.9l.08 1.02h.2l.28 .09v.96l.08 1.1h.2l.28 .09v1.05l.08 1.17h.2l.28 .09v1.13l.08 1.25h.2l.28 .09v1.21l.09 1.34h.19l.28 .11v1.26l.1 1.42h.18l.28 .13v1.33l.11 1.5h.17l.28 .15v1.4l.13 1.58h.15l.28 .18v1.45l.14 1.67h.14l.28 .21v1.5l.15 1.75h.13l.28 .25v1.55l.17 1.84h.11l.28 .29v1.59l.18 1.93h.1l.28 .35v1.62l.19 2.02h.09l.28 .35v1.71l.19 2.11h.09l.28 .35v1.8l.19 2.2h.09l.28 .34v1.9l.19 2.29h.09l.28 .34v2l.19 2.39h.09l.28 .33v2.1l.18 2.48h.1l.28 .33v2.2l.19 2.57h.09l.28 .36v2.27l.19 2.67h.09l.28 .39v2.34l.2 2.77h.08l.28 .43v2.39l.21 2.88h.07l.28 .48v2.45l.22 2.97h.06l.28 .55v2.48l.22 3.09h.06l.28 .61v2.52l.23 3.19h.05l.28 .68v2.57l.24 3.29h.04l.28 .77v2.58l.24 3.41h.04l.28 .89v2.57l.27 3.78h.03l.28 1.07v2.51l.26 3.63h.02l.28 1.39v2.31l.28 4.02h.02l.28 2.01v1.8l.27 3.88h.01l.3 3.84v.38l.18 2.56l.16 2.3l.16 2.32l.16 2.34l.1 1.47l.07 .62h.23l.3 .06v.47l.03 .49h.27l.3 .02v.46l.01 .47h.29l.3 .01v.47l.01 .48h.29l.3 .01v.46l.01 .47h.29l.3 .01v.46l.01 .46h.29l.3 .01v.46l.01 .46h.29l.3 .01v.44l.01 .46h.29l.3 .01v.44l.01 .44h.29l.3 .01v.44l.01 .43h.29l.3 .01v.43l.01 .43h.29l.3 .01v.41l.01 .43h.29l.3 .01v.42l.01 .43h.29l.3 .01v.41l.01 .43h.29l.3 .01v.41l.01 .43h.29l.3 .01v.41l.01 .42h.29l.3 .01v.41l.01 .41h.29l.3 .01v.41l.01 .41h.29l.3 .01v.4l.01 .41h.29l.3 .01v.39l.01 .4h.29l.3 .01v.39l.01 .4h.29l.3 .01v.38l.01 .39h.29l.3 .01v.37l.01 .38h.29l.3 .01v.37l.01 .37h.29l.3 .01v.36l.01 .37h.29l.3 .01v.35l.01 .36h.29l.3 .01v.34l.01 .35h.29l.3 .01v.33l.01 .34h.29l.3 .01v.32l.01 .34h.29l.3 .01v.32l.01 .32h.29l.3 .01v.32l.01 .32h.29l.3 .01v.3l.01 .32h.29l.3 .01v.3l.01 .3h.29l.3 .01v.3l.01 .3h.29l.3 .01v.29l.01 .3h.29l.3 .01v.29l.01 .29h.29l.3 .01v.28l.01 .29h.29l.3 .01v.28l.01 .29h.29l.3 .01v.27l.01 .29h.29l.3 .01v.27l.01 .28h.29l.3 .01v.28l.01 .28h.29l.3 .01v.27l.01 .28h.29l.3 .01v.27l.01 .29h.29l.3 .01v.27l.01 .28h.29l.3 .01v.27l.01 .28h.29l.3 .01v.28l.01 .27h.29l.3 .01v.27l.01 .28h.29l.3 .01v.26l.01 .28h.29l.3 .01v.26l.01 .27h.29l.3 .01v.26l.01 .26h.29l.3 .01v.26l.01 .27h.29l.3 .01v.25l.01 .27h.29l.3 .01v.25l.01 .26h.29l.3 .01v.25l.01 .27h.29l.3 .01v.25l.01 .26h.29l.3 .01v.26l.01 .27h.29l.3 .01v.25l.01 .27h.29l.3 .01v.26l.01 .27h.29l.5 .02v.43l.02 .45h.48l.5 .02v.43l.02 .46h.48l.5 .02v.43l.02 .45h.48l.5 .02v.42l.02 .44h.48l.5 .02v.41l.02 .43h.48l.5 .02v.41l.01 .41h.49l.5 .01v.4l.01 .41h.49l.5 .01v.38l.01 .39h.49l.5 .01v.37l.01 .37h.49l.5 .01v.35l.01 .35h.49l.5 .01v.32l.01 .33h.49l.5 .01v.32l.01 .32h.49l.5 .01v.31l.01 .32h.49l.5 .01v.3l.01 .31h.49l.5 .01v.3l.01 .31h.49l.5 .01v.29l.01 .29h.49l.5 .01v.29l.01 .29h.49l.5 .01v.28l.01 .28h.49l.5 .01v.27l.01 .28h.49l.5 .01v.27l.01 .27h.49l.5 .01v.26l.01 .27h.49l.5 .01v.26l.01 .26h.49l.5 .01v.25l.01 .26h.49l.5 .01v.25l.01 .25h.49l.5 .01v.24l.01 .25h.49l.5 .01v.23l.01 .24h.49l.5 .01v.23l.01 .23h.49l.5 .01v.22l.01 .23h.49l.5 .01v.21l.01 .22h.49l.5 .01v.21l.01 .21h.49l.5 .01v.2l.01 .21h.49l.5 .01v.2l.01 .21h.49l.5 .01v.2l.01 .21h.49l.5 .01v.19l.01 .19h.49l.5 .01v.19l.01 .19h.49l.5 .01v.17l.01 .18h.49l.5 .01v.16l.01 .17h.49l.5 .01v.15l.01 .3h.99l1 .01v.25l.01 .23h.99l1.5 .01v.29l.01 .26h1.49l1.5 .01v.22l.01 .23h1.49l1.5 .01v.23l.01 .27h1.49l1.5 .01v.27l.02 .29h3.48l7 .01v.21l.01 .19h.49l.5 .01v.21l.01 .24h.49l.5 .01v.25l.01 .26h.49l.5 .01v.27l.01 .27h.49l.5 .01v.26l.01 .26h.49l.5 .01v.23l.01 .23h.49l.5 .01v.19l.01 .19h.49l.5 .01v.18l.01 .19h.49l.5 .01v.18l.01 .19h.49l.5 .01v.17l.01 .19h.49l.5 .01v.17l.01 .18h.49l.5 .01v.17l.01 .17h.49l.5 .01v.17l.01 .17h.49l.5 .01v.15l.01 .17h.49l.5 .01v.15l.01 .16h.49l.5 .01v.16l.01 .16h.49l.5 .01v.15l.01 .16h.49l.5 .01v.14l.01 .16h.49l.5 .01v.15l.01 .15h.49l.5 .01v.15l.01 .15h.49l.5 .01v.14l.01 .15h.49l.5 .01v.14l.01 .15h.49l1 .01v.29l.01 .29h.99l1 .01v.28l.01 .28h.99l1 .01v.27l.01 .28h.99l1 .01v.26l.01 .27h.99l1 .01v.25l.01 .26h.99l1 .01v.24l.01 .25h.99l1 .01v.24l.01 .23h.99l1 .01v.23l.01 .22h.99l1 .01v.22l.01 .22h.99l1 .01v.21l.01 .21h.99l1 .01v.21l.01 .21h.99l1 .01v.2l.01 .2h.99l1 .01v.2l.01 .21h.99l1 .01v.2l.01 .21h.99l1 .01v.21l.01 .21h.99l1 .01v.21l.01 .22h.99l1 .01v.21l.01 .22h.99l1 .01v.22l.01 .23h.99l1 .01v.22l.01 .23h.99l1 .01v.21l.01 .23h.99l1 .01v.22l.01 .23h.99l1 .01v.22l.01 .23h.99l1 .01v.21l.01 .22h.99l1 .01v.22l.01 .21h.99l1 .01v.21l.01 .21h.99l1 .01v.2l.01 .21h.99l1.5 .01v.29l.01 .29h1.49l1.5 .01v.26l.01 .27h1.49l1.5 .01v.25l.01 .26h1.49l1.5 .01v.25l.01 .25h1.49l1.5 .01v.24l.01 .25h1.49l1.5 .01v.24l.01 .24h1.49l1.5 .01v.24l.01 .24h1.49l1.5 .01v.23l.01 .24h1.49l1.5 .01v.22l.01 .23h1.49l1.5 .01v.22l.01 .23h1.49l1.5 .01v.22l.02 .3h1.98l2 .02v.27l.02 .3h1.98l2 .01v.28l.01 .28h1.99l2 .01v.28l.01 .28h1.99l2 .01v.26l.01 .28h1.99l2 .01v.26l.01 .28h1.99l2 .01v.26l.01 .26h1.99l2 .01v.26l.01 .27h1.99l2 .01v.25l.01 .26h1.99l2 .01v.25l.01 .27h1.99l2 .01v.25l.01 .25h1.99l2 .01v.25l.01 .25h1.99l2 .01v.24l.01 .25h1.99l2 .01v.23l.01 .24h1.99l2 .01v.23l.01 .24h1.99l2.5 .02v.28l.02 .29h2.48l2.5 .01v.28l.02 .28h2.48l2.5 .02v.27l.02 .28h2.48l2.5 .01v.27l.02 .28h2.48l2.5 .01v.27l.02 .28h2.48l2.5 .01v.27l.01 .28h2.49l2.5 .01v.26l.02 .28h2.48l2.5 .01v.27l.01 .28h2.49l2.5 .01v.27l.01 .28h2.49l2.5 .01v.27l.02 .28h2.48l2.5 .02v.27l.02 .28h2.48l2.5 .02v.27l.02 .29h2.48l2.5 .01v.27l.02 .29h2.48l2.5 .01v.27l.02 .29h2.48l2.5 .01v.27l.02 .29h2.48l2.5 .01v.27l.01 .28h2.49l2.5 .01v.27l.01 .28h2.49l2.5 .01v.26l.01 .28h2.49l2.5 .01v.26l.01 .27h2.49l2.5 .01v.25l.01 .26h2.49l2.5 .01v.25l.01 .26h2.49l2.5 .01v.24l.02 .3h2.98l3 .02v.27l.02 .29h2.98l3 .01v.27l.02 .28h2.98l3 .01v.27l.02 .28h2.98l3 .01v.26l.01 .27h2.99l3 .01v.26l.01 .27h2.99l3 .01v.25l.01 .26h2.99l3 .01v.25l.02 .3h3.48l3.5 .02v.27l.02 .28h3.48l3.5 .02v.27l.02 .28h3.48l3.5 .01v.26l.01 .28h3.49l3.5 .01v.25l.01 .27h3.49l4 .02v.27l.02 .29h3.98l4 .02v.26l.02 .28h3.98l4 .01v.26l.01 .27h3.99l4 .01v.26l.02 .3h4.48l4.5 .02v.27l.02 .29h4.48l4.5 .02v.27l.02 .29h4.48l4.5 .02v.28l.02 .29h4.48l4.5 .02v.28l.02 .3h4.48l4.5 .02v.28l.02 .29h4.48l4.5 .02v.28l.02 .3h4.48l4.5 .02v.27l.02 .3h4.48l4.5 .02v.27l.02 .3h4.48l4.5 .02v.27l.02 .29h4.48l4 .01v.25"/>
<path stroke="#c0c000" stroke-dasharray="32.3 17.2" stroke-dashoffset="44" d="M191.8 801.19l4.5-.02v-.27l.02-.29h4.48l4.5-.02v-.28l.02-.29h4.48l4-.01v-.26l.02-.29h4.48l4-.01v-.26l.02-.3h4.48l4.5-.02v-.28l.02-.29h4.48l4-.01v-.26l.01-.27h3.99l4-.01v-.26l.02-.3h4.48l4.5-.02v-.27l.02-.3h4.48l4.5-.02v-.27l.02-.3h4.48l4.5-.02v-.28l.02-.3h4.48l4.5-.02v-.28l.01-.27h3.99l4-.01v-.27l.02-.28h3.98l4-.01v-.27l.02-.29h3.98l4-.02v-.28l.01-.27h3.49l3.5-.01v-.26l.01-.27h3.49l3.5-.01v-.27l.02-.28h3.48l3.5-.02v-.27l.02-.29h3.48l3.5-.02v-.27l.02-.3h3.48l3-.01v-.25l.01-.26h2.99l3-.01v-.26l.01-.26h2.99l3-.01v-.26l.02-.28h2.98l3-.01v-.27l.01-.28h2.99l3-.01v-.27l.02-.28h2.98l3-.02v-.27l.02-.29h2.98l3-.02v-.28l.02-.3h2.98l2.5-.01v-.24l.01-.26h2.49l2.5-.01v-.25l.01-.27h2.49l2.5-.01v-.26l.01-.27h2.49l2.5-.01v-.26l.01-.28h2.49l2.5-.01v-.27l.02-.28h2.48l2.5-.01v-.28l.02-.28h2.48l2.5-.02v-.27l.02-.29h2.48l2.5-.01v-.28l.02-.29h2.48l2.5-.02v-.27l.02-.29h2.48l2.5-.02v-.28l.02-.29h2.48l2.5-.02v-.27l.02-.29h2.48l2.5-.02v-.27l.02-.29h2.48l2.5-.02v-.27l.02-.29h2.48l2.5-.01v-.28l.02-.28h2.48l2.5-.02v-.27l.02-.29h2.48l2.5-.01v-.27l.02-.29h2.48l2.5-.01v-.27l.02-.29h2.48l2.5-.01v-.27l.02-.29h2.48l2.5-.02v-.27l.02-.29h2.48l2.5-.02v-.27l.02-.3h2.48l2.5-.02v-.27l.01-.24h1.99l2-.01v-.23l.01-.25h1.99l2-.01v-.23l.01-.25h1.99l2-.01v-.24l.01-.25h1.99l2-.01v-.24l.01-.26h1.99l2-.01v-.25l.01-.26h1.99l2-.01v-.26l.01-.26h1.99l2-.01v-.26l.01-.27h1.99l2-.01v-.26l.01-.27h1.99l2-.01v-.26l.01-.28h1.99l2-.01v-.26l.01-.28h1.99l2-.01v-.27l.01-.28h1.99l2-.01v-.28l.01-.28h1.99l2-.01v-.28l.02-.29h1.98l2-.02v-.28l.02-.29h1.98l1.5-.01v-.22l.01-.23h1.49l1.5-.01v-.21l.01-.24h1.49l1.5-.01v-.22l.01-.23h1.49l1.5-.01v-.23l.01-.24h1.49l1.5-.01v-.23l.01-.24h1.49l1.5-.01v-.24l.01-.25h1.49l1.5-.01v-.24l.01-.25h1.49l1.5-.01v-.25l.01-.25h1.49l1.5-.01v-.25l.01-.26h1.49l1.5-.01v-.26l.01-.27h1.49l1.5-.01v-.26l.01-.27h1.49l1.5-.01v-.27l.01-.2h.99l1-.01v-.19l.01-.21h.99l1-.01v-.2l.01-.21h.99l1-.01v-.21l.01-.22h.99l1-.01v-.21l.01-.23h.99l1-.01v-.21l.01-.23h.99l1-.01v-.22l.01-.24h.99l1-.01v-.22l.01-.23h.99l1-.01v-.23l.01-.23h.99l1-.01v-.22l.01-.24h.99l1-.01v-.22l.01-.23h.99l1-.01v-.22l.01-.22h.99l1-.01v-.22l.01-.22h.99l1-.01v-.2l.01-.22h.99l1-.01v-.2l.01-.21h.99l1-.01v-.21l.01-.21h.99l1-.01v-.2l.01-.21h.99l1-.01v-.2l.01-.21h.99l1-.01v-.21l.01-.21h.99l1-.01v-.22l.01-.22h.99l1-.01v-.22l.01-.23h.99l1-.01v-.22l.01-.25h.99l1-.01v-.23l.01-.26h.99l1-.01v-.24l.01-.27h.99l1-.01v-.25l.01-.27h.99l1-.01v-.27l.01-.28h.99l1-.01v-.27l.01-.29h.99l1-.01v-.28l.01-.29h.99l.5-.01v-.14l.01-.15h.49l.5-.01v-.14l.01-.15h.49l.5-.01v-.15l.01-.15h.49l.5-.01v-.14l.01-.16h.49l.5-.01v-.15l.01-.15h.49l.5-.01v-.15l.01-.16h.49l.5-.01v-.15l.01-.16h.49l.5-.01v-.16l.01-.16h.49l.5-.01v-.15l.01-.17h.49l.5-.01v-.16l.01-.17h.49l.5-.01v-.16l.01-.18h.49l.5-.01v-.16l.01-.18h.49l.5-.01v-.18l.01-.18h.49l.5-.01v-.18l.01-.18h.49l.5-.01v-.18l.01-.19h.49l.5-.01v-.19l.01-.19h.49l.5-.01v-.19l.01-.23h.49l.5-.01v-.23l.01-.26h.49l.5-.01v-.26l.01-.27h.49l.5-.01v-.27l.01-.27h.49l.5-.01v-.24l.01-.24h.49l.5-.01v-.21l.01-.19h.49l1-.01v-.28v.02h7l2.5-.01v-.24l.01-.28h1.49l1.5-.01v-.27l.01-.24h1.49l1.5-.01v-.21l.01-.24h1.49l1.5-.01v-.25l.02-.3h1.48l1-.01v-.22l.01-.27h.99l.5-.01v-.14l.01-.15h.49l.5-.01v-.15l.01-.17h.49l.5-.01v-.17l.01-.18h.49l.5-.01v-.18l.01-.19h.49l.5-.01v-.19l.01-.2h.49l.5-.01v-.2l.01-.21h.49l.5-.01v-.2l.01-.22h.49l.5-.01v-.2l.01-.22h.49l.5-.01v-.21l.01-.22h.49l.5-.01v-.21l.01-.23h.49l.5-.01v-.22l.01-.23h.49l.5-.01v-.23l.01-.24h.49l.5-.01v-.23l.01-.25h.49l.5-.01v-.24l.01-.25h.49l.5-.01v-.25l.01-.26h.49l.5-.01v-.26l.01-.27h.49l.5-.01v-.26l.01-.27h.49l.5-.01v-.27l.01-.28h.49l.5-.01v-.27l.01-.29h.49l.5-.01v-.28l.01-.29h.49l.5-.01v-.28l.01-.3h.49l.5-.01v-.3l.01-.3h.49l.5-.01v-.3l.01-.32h.49l.5-.01v-.3l.01-.33h.49l.5-.01v-.31l.01-.33h.49l.5-.01v-.32l.01-.34h.49l.5-.01v-.33l.01-.34h.49l.5-.01v-.33l.01-.35h.49l.5-.01v-.35l.01-.38h.49l.5-.01v-.37l.01-.39h.49l.5-.01v-.4l.01-.41h.49l.5-.01v-.41l.02-.43h.48l.5-.02v-.42l.02-.45h.48l.5-.02v-.43l.02-.46h.48l.5-.02v-.44l.02-.47h.48l.5-.02v-.45l.02-.48h.48l.5-.02v-.47l.02-.48h.48l.5-.02v-.47l.02-.48h.48l.5-.02v-.47l.01-.29h.29l.3-.01v-.28l.01-.29h.29l.3-.01v-.28l.01-.29h.29l.3-.01v-.28l.01-.29h.29l.3-.01v-.28l.01-.29h.29l.3-.01v-.27l.01-.29h.29l.3-.01v-.28l.01-.29h.29l.3-.01v-.28l.01-.29h.29l.3-.01v-.28l.01-.3h.29l.3-.01v-.28l.01-.3h.29l.3-.01v-.29l.01-.3h.29l.3-.01v-.29l.01-.2h.19l.2-.01v-.19l.01-.21h.19l.2-.01v-.19l.01-.2h.19l.2-.01v-.2l.01-.2h.19l.2-.01v-.2l.01-.21h.19l.2-.01v-.19l.01-.21h.19l.2-.01v-.2l.01-.2h.19l.2-.01v-.2l.01-.21h.19l.2-.01v-.19l.01-.21h.19l.2-.01v-.2l.01-.21h.19l.2-.01v-.2l.01-.21h.19l.2-.01v-.2l.01-.21h.19l.2-.01v-.2l.01-.21h.19l.2-.01v-.2l.01-.21h.19l.2-.01v-.21l.01-.21h.19l.2-.01v-.2l.01-.22h.19l.2-.01v-.2l.01-.22h.19l.2-.01v-.21l.01-.21h.19l.2-.01v-.21l.01-.22h.19l.2-.01v-.21l.01-.22h.19l.2-.01v-.21l.01-.23h.19l.2-.01v-.21l.01-.23h.19l.2-.01v-.21l.01-.23h.19l.2-.01v-.22l.01-.23h.19l.2-.01v-.22l.01-.23h.19l.2-.01v-.22l.01-.24h.19l.2-.01v-.22l.01-.23h.19l.2-.01v-.23l.01-.24h.19l.2-.01v-.23l.01-.24h.19l.2-.01v-.23l.01-.24h.19l.2-.01v-.23l.01-.25h.19l.2-.01v-.23l.01-.25h.19l.2-.01v-.24l.01-.25h.19l.2-.01v-.24l.01-.26h.19l.2-.01v-.24l.01-.26h.19l.2-.01v-.25l.01-.26h.19l.2-.01v-.25l.01-.26h.19l.2-.01v-.25l.01-.27h.19l.2-.01v-.26l.01-.26h.19l.2-.01v-.26l.01-.27h.19l.2-.01v-.27l.01-.27h.19l.2-.01v-.26l.01-.28h.19l.2-.01v-.27l.01-.28h.19l.2-.01v-.27l.01-.28h.19l.2-.01v-.27l.01-.28h.19l.2-.01v-.28l.01-.28h.19l.2-.01v-.28l.01-.29h.19l.2-.01v-.28l.01-.29h.19l.2-.01v-.28l.01-.29h.19l.2-.01v-.29l.01-.29h.19l.2-.01v-.29l.01-.3h.19l.2-.01v-.29l.01-.3h.19l.2-.01v-.29l.01-.3h.19l.2-.01v-.29l.01-.3h.19l.2-.01v-.29l.01-.31h.19l.2-.01v-.3l.01-.31h.19l.2-.01v-.3l.01-.32h.19l.2-.01v-.31l.01-.32h.19l.2-.01v-.32l.01-.32h.19l.2-.01v-.32l.01-.33h.19l.2-.01v-.32l.01-.34h.19l.2-.01v-.33l.01-.33h.19l.2-.01v-.33l.01-.35h.19l.2-.01v-.33l.01-.35h.19l.2-.01v-.33l.01-.35h.19l.2-.01v-.34l.01-.35h.19l.2-.01v-.34l.01-.35h.19l.2-.01v-.35l.01-.35h.19l.2-.02v-.34l.03-.35h.17l.2-.04v-.35l.08-3.66h.22l.14-2.4l.14-2.38l.14-2.36l.14-2.34l.16-2.66l.16-2.64l.16-2.61l.16-2.59l.16-2.57l.16-2.55l.16-2.53l.16-2.5l.16-2.48l.16-2.46l.16-2.44l.16-2.42l.16-2.4l.16-2.38l.16-2.35l.16-2.34l.16-2.31l.16-2.29l.18-2.55l.14-1.97l.3-4.15v-.02l.29-4.09h.01l.3-2.13v-1.9l.28-3.95h.02l.3-1.43v-2.45l.27-3.82h.03l.3-1.08v-2.66l.26-3.68h.04l.3-.9v-2.71l.26-3.54h.04l.3-.77v-2.71l.25-3.41h.05l.3-.68v-2.66l.24-3.28h.06l.3-.6v-2.62l.23-3.15h.07l.3-.52v-2.57l.22-3.02h.08l.3-.46v-2.5l.21-2.9h.09l.3-.41v-2.43l.2-2.77h.1l.3-.37v-2.35l.2-2.65h.1l.3-.36v-2.24l.2-2.53h.1l.3-.36v-2.11l.2-2.42h.1l.3-.37v-1.99l.2-2.3h.1l.3-.37v-1.87l.2-2.18h.1l.3-.37v-1.76l.2-2.06h.1l.3-.34v-1.68l.19-1.95h.11l.3-.27v-1.63l.17-1.85h.13l.3-.23v-1.55l.15-1.74h.15l.3-.19v-1.49l.13-1.62h.17l.3-.15v-1.42l.11-1.51h.19l.3-.13v-1.33l.1-1.41h.2l.3-.1v-1.26l.08-1.3h.22l.3-.09v-1.15l.08-1.2h.22l.3-.09v-1.05l.08-1.09h.22l.3-.09v-.95l.08-.98h.22l.3-.09v-.85l.08-.88h.22l.3-.09v-.74l.08-.78h.22l.3-.08v-.64l.08-.68h.22l.3-.08v-.54l.07-.58h.23l.3-.08v-.44l.07-.47h.23l.3-.07v-.35l.06-.37h.24l.3-.06v-.26l.06-.3h.28l.44-.07v-.22l.1 .29h2.26l.32 .06v.22l.06 .29h.22l.28 .06v.28l.06 .38h.22l.28 .07v.36l.07 .47h.21l.28 .07v.44l.07 .56h.21l.28 .08v.52l.07 .65h.21l.28 .08v.62l.07 .73h.21l.28 .08v.71l.07 .82h.21l.28 .08v.8l.07 .91h.21l.28 .08v.89l.08 1.01h.2l.28 .09v.96l.08 1.1h.2l.28 .09v1.06l.08 1.19h.2l.28 .09v1.15l.08 1.28h.2l.28 .1v1.24l.09 1.38h.19l.28 .12v1.3l.11 1.47h.17l.28 .15v1.38l.12 1.56h.16l.28 .18v1.44l.14 1.66h.14l.28 .21v1.51l.15 1.76h.13l.28 .25v1.56l.17 1.85h.11l.28 .3v1.61l.19 1.96h.09l.28 .35v1.66l.19 2.05h.09l.28 .35v1.76l.19 2.16h.09l.28 .34v1.87l.19 2.26h.09l.28 .34v1.97l.19 2.36h.09l.28 .34v2.08l.18 2.47h.1l.28 .33v2.19l.19 2.57h.09l.28 .36v2.27l.19 2.68h.09l.28 .4v2.33l.2 2.79h.08l.28 .44v2.41l.21 2.9h.07l.28 .5v2.45l.22 3.01h.06l.28 .57v2.5l.23 3.12h.05l.28 .64v2.54l.23 3.24h.05l.28 .72v2.58l.24 3.35h.04l.28 .83v2.58l.25 3.48h.03l.28 .98v2.55l.25 3.59h.03l.28 1.25v2.4l.26 3.72h.02l.28 1.74v2.03l.27 3.84h.01l.28 2.9v1l.18 2.54l.16 2.28l.16 2.3l.16 2.32l.16 2.34l.16 2.36l.16 2.39l.16 2.4l.16 2.43l.16 2.45l.16 2.46l.16 2.5l.16 2.51l.16 2.53l.16 2.56l.16 2.58l.16 2.6l.16 2.62l.16 2.64l.14 2.33l.14 2.35l.14 2.37l.14 2.38l.14 2.41l.14 2.41l.02 .35l.07 .6h.23l.3 .06v.47l.04 .53h.26l.3 .02v.51l.01 .53h.29l.3 .01v.52l.01 .52h.29l.3 .01v.51l.01 .51h.29l.3 .01v.51l.01 .5h.29l.3 .01v.5l.01 .5h.29l.3 .01v.48l.01 .49h.29l.3 .01v.48l.01 .48h.29l.3 .01v.46l.01 .47h.29l.3 .01v.45l.01 .46h.29l.3 .01v.44l.01 .45h.29l.3 .01v.44l.01 .45h.29l.3 .01v.44l.01 .44h.29l.3 .01v.43l.01 .44h.29l.3 .01v.43l.01 .43h.29l.3 .01v.42l.01 .43h.29l.3 .01v.41l.01 .42h.29l.3 .01v.41l.01 .42h.29l.3 .01v.4l.01 .41h.29l.3 .01v.4l.01 .41h.29l.3 .01v.39l.01 .4h.29l.3 .01v.38l.01 .39h.29l.3 .01v.38l.01 .39h.29l.3 .01v.37l.01 .38h.29l.3 .01v.36l.01 .38h.29l.3 .01v.35l.01 .37h.29l.3 .01v.35l.01 .36h.29l.3 .01v.35l.01 .36h.29l.3 .01v.34l.01 .35h.29l.3 .01v.34l.01 .34h.29l.3 .01v.34l.01 .34h.29l.3 .01v.33l.01 .33h.29l.3 .01v.33l.01 .33h.29l.3 .01v.32l.01 .33h.29l.3 .01v.31l.01 .33h.29l.3 .01v.31l.01 .32h.29l.3 .01v.31l.01 .32h.29l.3 .01v.31l.01 .31h.29l.3 .01v.31l.01 .31h.29l.3 .01v.31l.01 .31h.29l.3 .01v.3l.01 .31h.29l.3 .01v.3l.01 .31h.29l.3 .01v.3l.01 .31h.29l.3 .01v.3l.01 .31h.29l.3 .01v.29l.01 .31h.29l.3 .01v.29l.01 .3h.29l.3 .01v.29l.01 .3h.29l.3 .01v.29l.01 .29h.29l.3 .01v.29l.01 .29h.29l.3 .01v.28l.01 .29h.29l.3 .01v.28l.01 .29h.29l.3 .01v.28l.01 .29h.29l.3 .01v.27l.01 .29h.29l.3 .01v.28l.01 .29h.29l.3 .01v.28l.01 .29h.29l.3 .01v.28l.01 .29h.29l.3 .01v.28v.1h.1l.5 .02v.47l.02 .48h.48l.5 .02v.47l.02 .48h.48l.5 .02v.47l.02 .48h.48l.5 .02v.45l.02 .47h.48l.5 .02v.44l.02 .46h.48l.5 .02v.43l.02 .45h.48l.5 .02v.42l.02 .43h.48l.5 .01v.41l.01 .41h.49l.5 .01v.4l.01 .39h.49l.5 .01v.37l.01 .38h.49l.5 .01v.35l.01 .35h.49l.5 .01v.33l.01 .34h.49l.5 .01v.33l.01 .34h.49l.5 .01v.32l.01 .33h.49l.5 .01v.31l.01 .33h.49l.5 .01v.3l.01 .32h.49l.5 .01v.3l.01 .3h.49l.5 .01v.3l.01 .3h.49l.5 .01v.28l.01 .29h.49l.5 .01v.28l.01 .29h.49l.5 .01v.27l.01 .28h.49l.5 .01v.27l.01 .27h.49l.5 .01v.26l.01 .27h.49l.5 .01v.26l.01 .26h.49l.5 .01v.25l.01 .25h.49l.5 .01v.24l.01 .25h.49l.5 .01v.23l.01 .24h.49l.5 .01v.23l.01 .23h.49l.5 .01v.22l.01 .23h.49l.5 .01v.21l.01 .22h.49l.5 .01v.21l.01 .22h.49l.5 .01v.2l.01 .22h.49l.5 .01v.2l.01 .21h.49l.5 .01v.2l.01 .2h.49l.5 .01v.19l.01 .19h.49l.5 .01v.18l.01 .18h.49l.5 .01v.17l.01 .17h.49l.5 .01v.15l.01 .15h.49l1 .01v.28l.01 .25h.99l1 .01v.21l.01 .28h1.49l1.5 .01v.24l.01 .23h1.49l1.5 .01v.22l.01 .25h1.49l1.5 .01v.28l.01 .26h1.49h7v.07l.01 .21h2.49l.5 .01v.15l.01 .19h.49l.5 .01v.21l.01 .24h.49l.5 .01v.24l.01 .27h.49l.5 .01v.27l.01 .27h.49l.5 .01v.26l.01 .26h.49l.5 .01v.23l.01 .23h.49l.5 .01v.19l.01 .19h.49l.5 .01v.19l.01 .19h.49l.5 .01v.18l.01 .18h.49l.5 .01v.18l.01 .18h.49l.5 .01v.18l.01 .18h.49l.5 .01v.16l.01 .18h.49l.5 .01v.16l.01 .17h.49l.5 .01v.16l.01 .17h.49l.5 .01v.15l.01 .16h.49l.5 .01v.16l.01 .16h.49l.5 .01v.15l.01 .16h.49l.5 .01v.15l.01 .15h.49l.5 .01v.15l.01 .16h.49l.5 .01v.14l.01 .15h.49l.5 .01v.15l.01 .3h.99l1 .01v.29l.01 .29h.99l1 .01v.28l.01 .29h.99l1 .01v.27l.01 .28h.99l1 .01v.27l.01 .27h.99l1 .01v.25l.01 .27h.99l1 .01v.24l.01 .26h.99l1 .01v.23l.01 .25h.99l1 .01v.22l.01 .23h.99l1 .01v.22l.01 .22h.99l1 .01v.22l.01 .21h.99l1 .01v.21l.01 .21h.99l1 .01v.2l.01 .21h.99l1 .01v.2l.01 .21h.99l1 .01v.21l.01 .21h.99l1 .01v.2l.01 .22h.99l1 .01v.2l.01 .22h.99l1 .01v.22l.01 .22h.99l1 .01v.22l.01 .23h.99l1 .01v.22l.01 .24h.99l1 .01v.22l.01 .23h.99l1 .01v.23l.01 .23h.99l1 .01v.22l.01 .24h.99l1 .01v.22l.01 .23h.99l1 .01v.21l.01 .23h.99l1 .01v.21l.01 .22h.99l1 .01v.21l.01 .21h.99l1 .01v.2l.01 .21h.99l1.5 .01v.29l.01 .29h1.49l1.5 .01v.26l.01 .27h1.49l1.5 .01v.26l.01 .27h1.49l1.5 .01v.25l.01 .26h1.49l1.5 .01v.25l.01 .25h1.49l1.5 .01v.25l.01 .25h1.49l1.5 .01v.24l.01 .25h1.49l1.5 .01v.23l.01 .24h1.49l1.5 .01v.23l.01 .24h1.49l1.5 .01v.22l.01 .24h1.49l1.5 .01v.22l.01 .23h1.49l1.5 .01v.22l.02 .3h1.98l2 .01v.28l.02 .3h1.98l2 .01v.28l.02 .29h1.98l2 .01v.27l.02 .29h1.98l2 .01v.27l.01 .28h1.99l2 .01v.27l.01 .27h1.99l2 .01v.27l.01 .27h1.99l2 .01v.26l.01 .27h1.99l2 .01v.26l.01 .27h1.99l2 .01v.25l.01 .27h1.99l2 .01v.25l.01 .26h1.99l2 .01v.25l.01 .25h1.99l2 .01v.24l.01 .25h1.99l2 .01v.24l.01 .24h1.99l2 .01v.24l.02 .3h2.48l2.5 .02v.27l.01 .24h1.99l2.5 .02v.28l.02 .29h2.48l2.5 .01v.28l.02 .29h2.48l2.5 .01v.27l.02 .29h2.48l2.5 .01v.28l.02 .28h2.48l2.5 .01v.28l.02 .28h2.48l2.5 .01v.28l.02 .28h2.48l2.5 .02v.27l.02 .29h2.48l2.5 .01v.27l.02 .29h2.48l2.5 .02v.28l.02 .29h2.48l2.5 .02v.27l.02 .29h2.48l2.5 .02v.27l.02 .3h2.48l2.5 .01v.28l.02 .29h2.48l2.5 .02v.27l.02 .29h2.48l2.5 .01v.28l.02 .29h2.48l2.5 .01v.27l.02 .28h2.48l2.5 .01v.28l.01 .28h2.49l2.5 .01v.26l.01 .28h2.49l2.5 .01v.26l.01 .27h2.49l2.5 .01v.25l.01 .26h2.49l2.5 .01v.25l.01 .25h2.49l2.5 .01v.24l.02 .3h2.98l3 .02v.27l.02 .29h2.98l3 .01v.27l.02 .28h2.98l3 .01v.27l.02 .28h2.98l3 .01v.27l.01 .27h2.99l3 .01v.25l.01 .27h2.99l3 .01v.25l.01 .26h2.99l3.5 .02v.28l.02 .29h3.48l3.5 .02v.27l.02 .29h3.48l3.5 .01v.27l.02 .28h3.48l3.5 .01v.26l.01 .27h3.49l3.5 .01v.26l.02 .3h3.98l4 .02v.27l.02 .28h3.98l4 .02v.26l.02 .28h3.98l4 .01v.26l.01 .27h3.99l4 .01v.26l.02 .29h4.48l4 .01v.26l.02 .29h4.48l4.5 .02v.28l.02 .29h4.48l4 .01v.26l.02 .3h4.48l4 .01v.26l.02 .3h4.48l4.5 .02v.28l.02 .3h4.48l4.5 .02v.28l.02 .29h4.48l4.5 .02v.28l.02 .3h4.48l4.5 .02v.27l.02 .3h4.48l4.5 .02v.27l.02 .29h4.48"/>
<path stroke="#008000" stroke-dasharray="21.8 13.2" stroke-dashoffset="30.2" d="M191.8 801.19l4.5-.02v-.27l.02-.29h4.48l4.5-.02v-.28l.02-.3h4.48l4.5-.02v-.27l.01-.27h3.99l4.5-.02v-.28l.02-.3h4.48l4.5-.02v-.28l.02-.3h4.48l4-.01v-.26l.01-.27h3.99l4-.01v-.26l.02-.3h4.48l4.5-.02v-.28l.02-.3h4.48l4.5-.02v-.28l.02-.3h4.48l4.5-.02v-.28l.02-.3h4.48l4-.01v-.26l.02-.28h3.98l4-.01v-.27l.02-.28h3.98l4-.02v-.27l.02-.29h3.98l3.5-.01v-.26l.01-.26h3.49l3.5-.01v-.27l.01-.27h3.49l3.5-.02v-.26l.02-.29h3.48l3.5-.02v-.27l.02-.29h3.48l3.5-.02v-.28l.01-.26h2.99l3-.01v-.25l.01-.26h2.99l3-.01v-.26l.01-.27h2.99l3-.01v-.26l.02-.28h2.98l3-.01v-.27l.02-.28h2.98l3-.02v-.27l.02-.28h2.98l3-.02v-.27l.02-.3h2.98l3-.02v-.28l.02-.3h2.98l2.5-.01v-.24l.01-.27h2.49l2.5-.01v-.25l.01-.27h2.49l2.5-.01v-.26l.01-.27h2.49l2.5-.01v-.27l.02-.28h2.48l2.5-.01v-.28l.02-.28h2.48l2.5-.02v-.27l.02-.29h2.48l2.5-.02v-.27l.02-.3h2.48l2.5-.02v-.27l.02-.3h2.48l2.5-.02v-.27l.02-.3h2.48l2.5-.02v-.28l.02-.29h2.48l2-.01v-.23l.02-.3h2.48l2.5-.02v-.28l.02-.29h2.48l2.5-.02v-.28l.02-.29h2.48l2.5-.02v-.28l.02-.29h2.48l2.5-.02v-.27l.02-.29h2.48l2.5-.02v-.27l.02-.29h2.48l2.5-.02v-.27l.02-.3h2.48l2.5-.02v-.27l.02-.29h2.48l2.5-.02v-.28l.02-.3h2.48l2.5-.02v-.27l.01-.24h1.99l2-.01v-.23l.01-.25h1.99l2-.01v-.23l.01-.25h1.99l2-.01v-.24l.01-.25h1.99l2-.01v-.24l.01-.25h1.99l2-.01v-.25l.01-.26h1.99l2-.01v-.25l.01-.27h1.99l2-.01v-.25l.01-.27h1.99l2-.01v-.27l.01-.27h1.99l2-.01v-.27l.01-.27h1.99l2-.01v-.27l.01-.28h1.99l2-.01v-.27l.01-.28h1.99l2-.01v-.28l.01-.28h1.99l2-.01v-.28l.02-.29h1.98l2-.01v-.28l.02-.3h1.98l2-.01v-.28l.01-.23h1.49l1.5-.01v-.21l.01-.23h1.49l1.5-.01v-.22l.01-.24h1.49l1.5-.01v-.22l.01-.24h1.49l1.5-.01v-.22l.01-.24h1.49l1.5-.01v-.24l.01-.24h1.49l1.5-.01v-.24l.01-.25h1.49l1.5-.01v-.24l.01-.25h1.49l1.5-.01v-.25l.01-.26h1.49l1.5-.01v-.25l.01-.26h1.49l1.5-.01v-.26l.01-.27h1.49l1.5-.01v-.26l.01-.28h1.49l1.5-.01v-.27l.01-.28h1.49l1.5-.01v-.28l.01-.2h.99l1-.01v-.2l.01-.21h.99l1-.01v-.2l.01-.22h.99l1-.01v-.21l.01-.23h.99l1-.01v-.22l.01-.23h.99l1-.01v-.22l.01-.23h.99l1-.01v-.23l.01-.24h.99l1-.01v-.22l.01-.24h.99l1-.01v-.23l.01-.24h.99l1-.01v-.22l.01-.24h.99l1-.01v-.22l.01-.24h.99l1-.01v-.22l.01-.22h.99l1-.01v-.22l.01-.22h.99l1-.01v-.21l.01-.22h.99l1-.01v-.2l.01-.21h.99l1-.01v-.21l.01-.21h.99l1-.01v-.2l.01-.21h.99l1-.01v-.21l.01-.21h.99l1-.01v-.21l.01-.21h.99l1-.01v-.22l.01-.22h.99l1-.01v-.22l.01-.23h.99l1-.01v-.23l.01-.24h.99l1-.01v-.24l.01-.25h.99l1-.01v-.25l.01-.27h.99l1-.01v-.25l.01-.27h.99l1-.01v-.27l.01-.28h.99l1-.01v-.27l.01-.29h.99l1-.01v-.28l.01-.3h.99l1-.01v-.29l.01-.15h.49l.5-.01v-.14l.01-.15h.49l.5-.01v-.15l.01-.15h.49l.5-.01v-.15l.01-.16h.49l.5-.01v-.14l.01-.16h.49l.5-.01v-.15l.01-.16h.49l.5-.01v-.15l.01-.17h.49l.5-.01v-.15l.01-.16h.49l.5-.01v-.16l.01-.17h.49l.5-.01v-.16l.01-.17h.49l.5-.01v-.17l.01-.18h.49l.5-.01v-.17l.01-.18h.49l.5-.01v-.18l.01-.18h.49l.5-.01v-.18l.01-.19h.49l.5-.01v-.18l.01-.19h.49l.5-.01v-.19l.01-.2h.49l.5-.01v-.21l.01-.25h.49l.5-.01v-.25l.01-.27h.49l.5-.01v-.26l.01-.28h.49l.5-.01v-.26l.01-.25h.49l.5-.01v-.23l.01-.22h.49l.5-.01v-.18l.01-.29h.99h7v.01l.01-.25h2.49l1.5-.01v-.27l.01-.28h1.49l1.5-.01v-.23l.01-.23h1.49l1.5-.01v-.22l.01-.26h1.49l1-.01v-.19l.01-.22h.99l1-.01v-.24l.01-.29h.99l.5-.01v-.15l.01-.16h.49l.5-.01v-.16l.01-.18h.49l.5-.01v-.18l.01-.19h.49l.5-.01v-.19l.01-.2h.49l.5-.01v-.19l.01-.21h.49l.5-.01v-.21l.01-.21h.49l.5-.01v-.21l.01-.22h.49l.5-.01v-.22l.01-.22h.49l.5-.01v-.21l.01-.23h.49l.5-.01v-.22l.01-.24h.49l.5-.01v-.23l.01-.24h.49l.5-.01v-.23l.01-.25h.49l.5-.01v-.25l.01-.25h.49l.5-.01v-.25l.01-.27h.49l.5-.01v-.26l.01-.27h.49l.5-.01v-.27l.01-.27h.49l.5-.01v-.28l.01-.28h.49l.5-.01v-.28l.01-.29h.49l.5-.01v-.29l.01-.3h.49l.5-.01v-.29l.01-.31h.49l.5-.01v-.3l.01-.32h.49l.5-.01v-.31l.01-.32h.49l.5-.01v-.32l.01-.33h.49l.5-.01v-.32l.01-.34h.49l.5-.01v-.33l.01-.35h.49l.5-.01v-.34l.01-.36h.49l.5-.01v-.34l.01-.37h.49l.5-.01v-.35l.01-.38h.49l.5-.01v-.38l.01-.41h.49l.5-.01v-.4l.02-.42h.48l.5-.02v-.42l.02-.44h.48l.5-.02v-.43l.02-.46h.48l.5-.02v-.45l.02-.48h.48l.5-.02v-.46l.02-.49h.48l.5-.02v-.47l.02-.5h.48l.5-.02v-.49l.02-.5h.48l.5-.02v-.5l.02-.51h.48l.5-.02v-.49l.02-.52h.48l.2-.01v-.19l.01-.31h.29l.2-.01v-.2l.01-.31h.29l.2-.01v-.2l.01-.31h.29l.2-.01v-.19l.01-.31h.29l.2-.01v-.2l.01-.3h.29l.2-.01v-.2l.01-.2h.19l.3-.01v-.3l.01-.21h.19l.3-.01v-.3l.01-.2h.19l.3-.01v-.3l.01-.21h.19l.3-.01v-.31l.01-.21h.19l.3-.01v-.3l.01-.21h.19l.3-.01v-.31l.01-.22h.19l.2-.01v-.2l.01-.21h.19l.2-.01v-.21l.01-.21h.19l.2-.01v-.21l.01-.22h.19l.2-.01v-.2l.01-.22h.19l.2-.01v-.21l.01-.22h.19l.2-.01v-.21l.01-.22h.19l.2-.01v-.21l.01-.22h.19l.2-.01v-.22l.01-.22h.19l.2-.01v-.21l.01-.22h.19l.2-.01v-.22l.01-.22h.19l.2-.01v-.22l.01-.22h.19l.2-.01v-.22l.01-.22h.19l.2-.01v-.22l.01-.23h.19l.2-.01v-.21l.01-.23h.19l.2-.01v-.22l.01-.23h.19l.2-.01v-.22l.01-.23h.19l.2-.01v-.22l.01-.23h.19l.2-.01v-.23l.01-.23h.19l.2-.01v-.22l.01-.24h.19l.2-.01v-.22l.01-.24h.19l.2-.01v-.23l.01-.23h.19l.2-.01v-.23l.01-.24h.19l.2-.01v-.23l.01-.24h.19l.2-.01v-.23l.01-.25h.19l.2-.01v-.23l.01-.24h.19l.2-.01v-.24l.01-.25h.19l.2-.01v-.23l.01-.25h.19l.2-.01v-.24l.01-.25h.19l.2-.01v-.24l.01-.25h.19l.2-.01v-.24l.01-.25h.19l.2-.01v-.24l.01-.26h.19l.2-.01v-.24l.01-.26h.19l.2-.01v-.24l.01-.26h.19l.2-.01v-.25l.01-.26h.19l.2-.01v-.25l.01-.26h.19l.2-.01v-.25l.01-.27h.19l.2-.01v-.25l.01-.27h.19l.2-.01v-.26l.01-.26h.19l.2-.01v-.26l.01-.28h.19l.2-.01v-.26l.01-.27h.19l.2-.01v-.27l.01-.27h.19l.2-.01v-.27l.01-.28h.19l.2-.01v-.27l.01-.28h.19l.2-.01v-.27l.01-.29h.19l.2-.01v-.27l.01-.29h.19l.2-.01v-.28l.01-.29h.19l.2-.01v-.28l.01-.29h.19l.2-.01v-.29l.01-.29h.19l.2-.01v-.29l.01-.3h.19l.2-.01v-.29l.01-.3h.19l.2-.01v-.29l.01-.3h.19l.2-.01v-.3l.01-.31h.19l.2-.01v-.3l.01-.31h.19l.2-.01v-.3l.01-.31h.19l.2-.01v-.31l.01-.31h.19l.2-.01v-.31l.01-.32h.19l.2-.01v-.31l.01-.33h.19l.2-.01v-.32l.01-.33h.19l.2-.01v-.33l.01-.34h.19l.2-.01v-.33l.01-.35h.19l.2-.01v-.34l.01-.35h.19l.2-.01v-.35l.01-.35h.19l.2-.01v-.35l.01-.36h.19l.2-.01v-.36l.01-.36h.19l.2-.01v-.36l.01-.37h.19l.2-.01v-.36l.01-.38h.19l.2-.01v-.36l.01-.38h.19l.2-.01v-.37l.01-.38h.19l.2-.01v-.37l.02-.38h.18l.2-.02v-.36l.03-.39h.17l.3-.08v-2.25l.14-2.71l.14-2.69l.14-2.67l.14-2.65l.14-2.63l.14-2.61l.14-2.6l.14-2.58l.14-2.55l.14-2.54l.14-2.53l.14-2.5l.14-2.49l.14-2.46l.14-2.45l.14-2.43l.14-2.42l.14-2.39l.14-2.38l.14-2.36l.14-2.34l.16-2.65l.16-2.64l.16-2.61l.16-2.58l.16-2.57l.16-2.54l.16-2.52l.16-2.49l.16-2.48l.16-2.45l.16-2.43l.16-2.41l.16-2.38l.16-2.36l.16-2.35l.16-2.32l.16-2.3l.18-2.56l.18-2.53l.3-4.16l.3-2.75v-1.34l.29-4.01h.01l.3-1.66v-2.28l.28-3.87h.02l.3-1.19v-2.6l.27-3.73h.03l.3-.95v-2.7l.26-3.58h.04l.3-.8v-2.71l.25-3.43h.05l.3-.69v-2.68l.24-3.3h.06l.3-.61v-2.63l.23-3.16h.07l.3-.53v-2.56l.22-3.03h.08l.3-.46v-2.5l.21-2.89h.09l.3-.41v-2.42l.2-2.76h.1l.3-.36v-2.33l.2-2.63h.1l.3-.36v-2.21l.2-2.5h.1l.3-.36v-2.07l.2-2.37h.1l.3-.37v-1.94l.2-2.24h.1l.3-.37v-1.82l.2-2.11h.1l.3-.37v-1.69l.19-1.99h.11l.3-.29v-1.65l.17-1.87h.13l.3-.24v-1.56l.15-1.75h.15l.3-.19v-1.5l.13-1.62h.17l.3-.15v-1.42l.11-1.5h.19l.3-.12v-1.33l.09-1.38h.21l.3-.1v-1.23l.08-1.27h.22l.3-.09v-1.11l.08-1.15h.22l.3-.09v-1l.08-1.03h.22l.3-.09v-.88l.08-.91h.22l.3-.09v-.76l.08-.8h.22l.3-.08v-.66l.08-.68h.22l.3-.08v-.54l.07-.56h.23l.3-.07v-.43l.07-.45h.23l.3-.07v-.32l.06-.33h.24l.32-.06v-.23l.07-.3h.37l2.08 .08v.22l.06 .29h.26l.28 .06v.24l.06 .36h.22l.28 .07v.34l.07 .46h.21l.28 .07v.44l.07 .56h.21l.28 .08v.53l.07 .66h.21l.28 .08v.63l.07 .76h.21l.28 .08v.74l.07 .86h.21l.28 .08v.84l.07 .96h.21l.28 .09v.93l.08 1.07h.2l.28 .09v1.03l.08 1.17h.2l.28 .09v1.14l.08 1.27h.2l.28 .1v1.23l.09 1.38h.19l.28 .12v1.31l.11 1.49h.17l.28 .15v1.39l.13 1.59h.15l.28 .19v1.45l.14 1.7h.14l.28 .23v1.52l.16 1.81h.12l.28 .28v1.57l.18 1.92h.1l.28 .34v1.63l.19 2.02h.09l.28 .35v1.72l.19 2.14h.09l.28 .34v1.84l.19 2.25h.09l.28 .34v1.96l.19 2.35h.09l.28 .34v2.07l.19 2.47h.09l.28 .33v2.2l.19 2.58h.09l.28 .36v2.28l.2 2.7h.08l.28 .4v2.35l.2 2.82h.08l.28 .46v2.41l.21 2.93h.07l.28 .52v2.48l.22 3.05h.06l.28 .59v2.52l.23 3.17h.05l.28 .67v2.57l.24 3.29h.04l.28 .77v2.59l.24 3.42h.04l.28 .91v2.57l.25 3.54h.03l.28 1.12v2.49l.26 3.67h.02l.28 1.54v2.19l.27 3.8h.01l.28 2.43v1.43l.28 3.93l.18 2.56l.16 2.3l.16 2.32l.16 2.35l.16 2.36l.16 2.38l.16 2.41l.16 2.43l.16 2.45l.16 2.48l.16 2.49l.16 2.52l.16 2.54l.16 2.57l.16 2.58l.16 2.61l.16 2.64l.16 2.65l.14 2.34l.14 2.36l.14 2.38l.14 2.39l.14 2.42l.14 2.43l.14 2.45l.14 2.46l.14 2.49l.14 2.5l.14 2.53l.14 2.54l.14 2.55l.14 2.58l.14 2.6l.14 2.61l.14 2.63l.14 2.65l.14 2.67l.14 2.69l.14 2.71l.1 1.95l.3 .08v.49l.05 .58h.25l.3 .04v.53l.02 .57h.28l.3 .01v.56l.01 .56h.29l.3 .01v.55l.01 .56h.29l.3 .01v.54l.01 .55h.29l.3 .01v.53l.01 .53h.29l.3 .01v.52l.01 .53h.29l.3 .01v.51l.01 .51h.29l.3 .01v.49l.01 .5h.29l.3 .01v.48l.01 .48h.29l.3 .01v.47l.01 .47h.29l.3 .01v.46l.01 .46h.29l.3 .01v.46l.01 .46h.29l.3 .01v.44l.01 .45h.29l.3 .01v.44l.01 .45h.29l.3 .01v.43l.01 .44h.29l.3 .01v.43l.01 .43h.29l.3 .01v.42l.01 .43h.29l.3 .01v.41l.01 .42h.29l.3 .01v.41l.01 .41h.29l.3 .01v.41l.01 .4h.29l.3 .01v.4l.01 .4h.29l.3 .01v.4l.01 .39h.29l.3 .01v.39l.01 .39h.29l.3 .01v.38l.01 .39h.29l.3 .01v.38l.01 .38h.29l.3 .01v.37l.01 .38h.29l.3 .01v.37l.01 .37h.29l.3 .01v.37l.01 .37h.29l.3 .01v.36l.01 .37h.29l.3 .01v.36l.01 .36h.29l.3 .01v.36l.01 .36h.29l.3 .01v.35l.01 .36h.29l.3 .01v.34l.01 .36h.29l.3 .01v.34l.01 .35h.29l.3 .01v.34l.01 .35h.29l.3 .01v.34l.01 .34h.29l.3 .01v.33l.01 .35h.29l.3 .01v.33l.01 .34h.29l.3 .01v.33l.01 .33h.29l.3 .01v.33l.01 .34h.29l.3 .01v.32l.01 .33h.29l.3 .01v.33l.01 .33h.29l.3 .01v.32l.01 .33h.29l.3 .01v.32l.01 .32h.29l.3 .01v.32l.01 .32h.29l.3 .01v.31l.01 .32h.29l.3 .01v.31l.01 .32h.29l.3 .01v.31l.01 .31h.29l.3 .01v.31l.01 .31h.29l.3 .01v.3l.01 .31h.29l.3 .01v.3l.01 .31h.29l.3 .01v.29l.01 .31h.29l.3 .01v.3l.01 .31h.29l.3 .01v.3l.01 .31h.29l.3 .01v.3l.01 .31h.29l.3 .01v.3l.01 .2h.19l.5 .02v.5l.02 .51h.48l.5 .02v.49l.02 .52h.48l.5 .02v.48l.02 .51h.48l.5 .02v.48l.02 .49h.48l.5 .02v.47l.02 .48h.48l.5 .02v.46l.02 .47h.48l.5 .02v.44l.02 .45h.48l.5 .02v.42l.02 .44h.48l.5 .01v.41l.01 .41h.49l.5 .01v.4l.01 .39h.49l.5 .01v.37l.01 .36h.49l.5 .01v.36l.01 .35h.49l.5 .01v.35l.01 .35h.49l.5 .01v.34l.01 .34h.49l.5 .01v.33l.01 .33h.49l.5 .01v.32l.01 .33h.49l.5 .01v.31l.01 .32h.49l.5 .01v.31l.01 .31h.49l.5 .01v.3l.01 .3h.49l.5 .01v.29l.01 .3h.49l.5 .01v.28l.01 .29h.49l.5 .01v.27l.01 .29h.49l.5 .01v.26l.01 .28h.49l.5 .01v.26l.01 .27h.49l.5 .01v.26l.01 .26h.49l.5 .01v.24l.01 .26h.49l.5 .01v.24l.01 .24h.49l.5 .01v.23l.01 .24h.49l.5 .01v.23l.01 .23h.49l.5 .01v.22l.01 .22h.49l.5 .01v.21l.01 .23h.49l.5 .01v.21l.01 .22h.49l.5 .01v.2l.01 .22h.49l.5 .01v.2l.01 .2h.49l.5 .01v.19l.01 .2h.49l.5 .01v.18l.01 .19h.49l.5 .01v.17l.01 .17h.49l.5 .01v.15l.01 .16h.49l1 .01v.28l.01 .25h.99l1 .01v.21l.01 .29h1.49l1.5 .01v.24l.01 .23h1.49l1.5 .01v.22l.01 .25h1.49l1.5 .01v.28l.01 .26h1.49h7v.07l.01 .21h2.49l.5 .01v.16l.01 .19h.49l.5 .01v.21l.01 .24h.49l.5 .01v.24l.01 .27h.49l.5 .01v.27l.01 .27h.49l.5 .01v.26l.01 .26h.49l.5 .01v.24l.01 .22h.49l.5 .01v.19l.01 .2h.49l.5 .01v.18l.01 .19h.49l.5 .01v.18l.01 .19h.49l.5 .01v.17l.01 .19h.49l.5 .01v.17l.01 .18h.49l.5 .01v.17l.01 .18h.49l.5 .01v.16l.01 .17h.49l.5 .01v.16l.01 .17h.49l.5 .01v.15l.01 .16h.49l.5 .01v.16l.01 .16h.49l.5 .01v.15l.01 .16h.49l.5 .01v.15l.01 .15h.49l.5 .01v.15l.01 .16h.49l.5 .01v.14l.01 .16h.49l.5 .01v.14l.01 .15h.49l.5 .01v.14l.01 .15h.49l.5 .01v.14l.01 .3h.99l1 .01v.28l.01 .29h.99l1 .01v.27l.01 .28h.99l1 .01v.27l.01 .27h.99l1 .01v.25l.01 .27h.99l1 .01v.25l.01 .25h.99l1 .01v.24l.01 .24h.99l1 .01v.23l.01 .23h.99l1 .01v.22l.01 .22h.99l1 .01v.22l.01 .21h.99l1 .01v.21l.01 .21h.99l1 .01v.21l.01 .21h.99l1 .01v.2l.01 .21h.99l1 .01v.21l.01 .21h.99l1 .01v.2l.01 .22h.99l1 .01v.21l.01 .22h.99l1 .01v.22l.01 .22h.99l1 .01v.22l.01 .24h.99l1 .01v.22l.01 .24h.99l1 .01v.22l.01 .24h.99l1 .01v.23l.01 .24h.99l1 .01v.22l.01 .24h.99l1 .01v.23l.01 .23h.99l1 .01v.22l.01 .23h.99l1 .01v.22l.01 .23h.99l1 .01v.21l.01 .22h.99l1 .01v.2l.01 .21h.99l1 .01v.2l.02 .3h1.48l1.5 .01v.28l.01 .28h1.49l1.5 .01v.26l.01 .28h1.49l1.5 .01v.26l.01 .27h1.49l1.5 .01v.25l.01 .27h1.49l1.5 .01v.25l.01 .26h1.49l1.5 .01v.24l.01 .26h1.49l1.5 .01v.24l.01 .24h1.49l1.5 .01v.24l.01 .24h1.49l1.5 .01v.24l.01 .24h1.49l1.5 .01v.22l.01 .24h1.49l1.5 .01v.22l.01 .23h1.49l1.5 .01v.22l.01 .23h1.49l1.5 .01v.22l.02 .3h1.98l2 .01v.28l.02 .3h1.98l2 .01v.28l.01 .29h1.99l2 .01v.27l.02 .29h1.98l2 .01v.27l.01 .28h1.99l2 .01v.27l.01 .28h1.99l2 .01v.27l.01 .27h1.99l2 .01v.27l.01 .27h1.99l2 .01v.26l.01 .27h1.99l2 .01v.26l.01 .26h1.99l2 .01v.25l.01 .26h1.99l2 .01v.24l.01 .26h1.99l2 .01v.24l.01 .25h1.99l2 .01v.23l.01 .25h1.99l2 .01v.23l.01 .25h1.99l2.5 .02v.28l.02 .3h2.48l2.5 .02v.27l.02 .3h2.48l2.5 .02v.27l.02 .29h2.48l2.5 .02v.28l.02 .29h2.48l2.5 .02v.27l.02 .29h2.48l2.5 .02v.27l.02 .29h2.48l2.5 .02v.28l.02 .29h2.48l2.5 .02v.27l.02 .3h2.48l2.5 .02v.27l.01 .24h1.99l2.5 .02v.28l.02 .3h2.48l2.5 .02v.27l.01 .24h1.99l2.5 .02v.28l.02 .3h2.48l2.5 .02v.27l.02 .3h2.48l2.5 .02v.27l.02 .29h2.48l2.5 .02v.27l.02 .29h2.48l2.5 .02v.27l.02 .28h2.48l2.5 .01v.28l.01 .27h2.49l2.5 .01v.27l.01 .27h2.49l2.5 .01v.26l.01 .27h2.49l2.5 .01v.25l.01 .26h2.49l2.5 .01v.24l.01 .25h2.49l3 .02v.28l.02 .29h2.98l3 .02v.27l.02 .29h2.98l3 .01v.27l.02 .29h2.98l3 .01v.26l.02 .28h2.98l3 .01v.26l.01 .27h2.99l3 .01v.26l.01 .26h2.99l3 .01v.25l.02 .3h3.48l3.5 .02v.27l.02 .3h3.48l3.5 .01v.27l.02 .29h3.48l3.5 .01v.27l.01 .27h3.49l3.5 .01v.26l.01 .27h3.49l4 .02v.28l.02 .29h3.98l4 .02v.26l.02 .28h3.98l4 .01v.27l.02 .28h3.98l4.5 .02v.28l.01 .27h3.99l4.5 .02v.28l.02 .3h4.48l4.5 .02v.27l.01 .27h3.99l4 .01v.26l.02 .3h4.48l4 .01v.26l.01 .27h3.99l4 .01v.26l.02 .3h4.48l4.5 .02v.28l.02 .3h4.48l4.5 .02v.28l.02 .3h4.48l4.5 .02v.27l.02 .3h4.48l4.5 .02v.27l.02 .3h4.48l3 .01v.18"/>
<path stroke="#008888" stroke-dasharray="0.01 13.8" stroke-dashoffset="8.3" d="M191.8 801.19l4.5-.02v-.27l.02-.29h4.48l4-.01v-.26l.02-.29h4.48l4-.01v-.26l.02-.3h4.48l4.5-.02v-.28l.02-.3h4.48l4.5-.02v-.28l.01-.27h3.99l4-.01v-.26l.01-.27h3.99l4-.01v-.26l.01-.27h3.99l4-.01v-.26l.01-.27h3.99l4.5-.02v-.28l.02-.3h4.48l4.5-.02v-.28l.01-.27h3.99l4-.01v-.26l.02-.28h3.98l4-.01v-.26l.02-.29h3.98l4-.02v-.26l.02-.29h3.98l3.5-.01v-.26l.02-.3h3.98l3.5-.01v-.26l.02-.28h3.48l3.5-.01v-.27l.02-.28h3.48l3.5-.02v-.27l.02-.29h3.48l3.5-.02v-.28l.02-.3h3.48l3-.01v-.25l.01-.26h2.99l3-.01v-.26l.01-.27h2.99l3-.01v-.26l.02-.28h2.98l3-.01v-.27l.02-.28h2.98l3-.02v-.27l.02-.28h2.98l3-.02v-.28l.02-.29h2.98l3-.02v-.28l.02-.3h2.98l2.5-.01v-.24l.01-.26h2.49l2.5-.01v-.26l.01-.26h2.49l2.5-.01v-.27l.01-.27h2.49l2.5-.01v-.27l.01-.28h2.49l2.5-.01v-.27l.02-.29h2.48l2.5-.02v-.27l.02-.29h2.48l2.5-.02v-.27l.02-.3h2.48l2.5-.02v-.28l.02-.29h2.48l2-.01v-.23l.01-.24h1.99l2-.01v-.23l.01-.24h1.99l2-.01v-.23l.01-.24h1.99l2-.01v-.23l.01-.24h1.99l2-.01v-.23l.01-.24h1.99l2-.01v-.23l.01-.24h1.99l2.5-.02v-.28l.02-.29h2.48l2-.01v-.23l.02-.3h2.48l2.5-.02v-.27l.02-.3h2.48l2.5-.02v-.27l.02-.3h2.48l2.5-.02v-.27l.02-.3h2.48l2.5-.02v-.28l.02-.29h2.48l2-.01v-.23l.01-.25h1.99l2.5-.02v-.28l.01-.24h1.99l2-.01v-.24l.01-.25h1.99l2-.01v-.23l.01-.26h1.99l2-.01v-.24l.01-.25h1.99l2-.01v-.25l.01-.26h1.99l2-.01v-.25l.01-.26h1.99l2-.01v-.26l.01-.27h1.99l2-.01v-.26l.01-.28h1.99l2-.01v-.27l.01-.28h1.99l2-.01v-.26l.01-.29h1.99l2-.01v-.27l.01-.28h1.99l2-.01v-.28l.01-.28h1.99l2-.01v-.28l.02-.29h1.98l2-.02v-.27l.02-.3h1.98l2-.02v-.28l.02-.3h1.98l2-.02v-.28l.01-.23h1.49l1.5-.01v-.22l.01-.23h1.49l1.5-.01v-.23l.01-.23h1.49l1.5-.01v-.23l.01-.24h1.49l1.5-.01v-.24l.01-.24h1.49l1.5-.01v-.24l.01-.25h1.49l1.5-.01v-.24l.01-.25h1.49l1.5-.01v-.25l.01-.26h1.49l1.5-.01v-.25l.01-.27h1.49l1.5-.01v-.25l.01-.27h1.49l1.5-.01v-.27l.01-.27h1.49l1.5-.01v-.27l.01-.28h1.49l1.5-.01v-.28l.01-.29h1.49l1-.01v-.19l.01-.21h.99l1-.01v-.2l.01-.22h.99l1-.01v-.21l.01-.22h.99l1-.01v-.22l.01-.23h.99l1-.01v-.22l.01-.23h.99l1-.01v-.23l.01-.24h.99l1-.01v-.23l.01-.24h.99l1-.01v-.23l.01-.24h.99l1-.01v-.23l.01-.23h.99l1-.01v-.23l.01-.24h.99l1-.01v-.22l.01-.24h.99l1-.01v-.22l.01-.22h.99l1-.01v-.22l.01-.22h.99l1-.01v-.21l.01-.22h.99l1-.01v-.2l.01-.21h.99l1-.01v-.21l.01-.21h.99l1-.01v-.2l.01-.21h.99l1-.01v-.21l.01-.22h.99l1-.01v-.2l.01-.22h.99l1-.01v-.22l.01-.22h.99l1-.01v-.23l.01-.23h.99l1-.01v-.23l.01-.25h.99l1-.01v-.24l.01-.26h.99l1-.01v-.25l.01-.26h.99l1-.01v-.26l.01-.28h.99l1-.01v-.26l.01-.29h.99l1-.01v-.27l.01-.29h.99l1-.01v-.29l.01-.29h.99l.5-.01v-.15l.01-.3h.99l.5-.01v-.14l.01-.16h.49l.5-.01v-.14l.01-.16h.49l.5-.01v-.15l.01-.15h.49l.5-.01v-.15l.01-.16h.49l.5-.01v-.15l.01-.17h.49l.5-.01v-.15l.01-.16h.49l.5-.01v-.16l.01-.16h.49l.5-.01v-.16l.01-.17h.49l.5-.01v-.17l.01-.17h.49l.5-.01v-.17l.01-.18h.49l.5-.01v-.18l.01-.18h.49l.5-.01v-.18l.01-.19h.49l.5-.01v-.17l.01-.2h.49l.5-.01v-.18l.01-.19h.49l.5-.01v-.19l.01-.23h.49l.5-.01v-.24l.01-.26h.49l.5-.01v-.26l.01-.27h.49l.5-.01v-.26l.01-.27h.49l.5-.01v-.25l.01-.24h.49l.5-.01v-.21l.01-.19h.49l1-.01v-.28v.01h7l2.5-.01v-.24l.01-.28h1.49l1.5-.01v-.27l.01-.24h1.49l1.5-.01v-.22l.01-.24h1.49l1.5-.01v-.25l.01-.2h.99l1-.01v-.21l.01-.25h.99l1-.01v-.28l.01-.16h.49l.5-.01v-.15l.01-.18h.49l.5-.01v-.17l.01-.18h.49l.5-.01v-.19l.01-.2h.49l.5-.01v-.19l.01-.21h.49l.5-.01v-.2l.01-.22h.49l.5-.01v-.21l.01-.22h.49l.5-.01v-.21l.01-.23h.49l.5-.01v-.21l.01-.23h.49l.5-.01v-.22l.01-.24h.49l.5-.01v-.22l.01-.25h.49l.5-.01v-.23l.01-.25h.49l.5-.01v-.24l.01-.26h.49l.5-.01v-.25l.01-.27h.49l.5-.01v-.25l.01-.28h.49l.5-.01v-.26l.01-.28h.49l.5-.01v-.28l.01-.28h.49l.5-.01v-.28l.01-.3h.49l.5-.01v-.29l.01-.3h.49l.5-.01v-.3l.01-.31h.49l.5-.01v-.3l.01-.32h.49l.5-.01v-.31l.01-.33h.49l.5-.01v-.32l.01-.33h.49l.5-.01v-.33l.01-.34h.49l.5-.01v-.34l.01-.35h.49l.5-.01v-.35l.01-.36h.49l.5-.01v-.35l.01-.37h.49l.5-.01v-.36l.01-.38h.49l.5-.01v-.38l.01-.4h.49l.5-.01v-.4l.02-.43h.48l.5-.02v-.41l.02-.45h.48l.5-.02v-.44l.02-.46h.48l.5-.02v-.46l.02-.48h.48l.5-.02v-.47l.02-.49h.48l.5-.02v-.49l.02-.51h.48l.5-.02v-.49l.02-.52h.48l.5-.02v-.5l.02-.53h.48l.5-.02v-.51l.02-.53h.48l.5-.02v-.51l.01-.22h.19l.3-.01v-.31l.01-.21h.19l.3-.01v-.31l.01-.21h.19l.3-.01v-.32l.01-.21h.19l.3-.01v-.31l.01-.21h.19l.3-.01v-.31l.01-.21h.19l.2-.01v-.21l.01-.32h.29l.2-.01v-.2l.01-.32h.29l.2-.01v-.21l.01-.32h.29l.2-.01v-.21l.01-.32h.29l.2-.01v-.21l.01-.33h.29l.2-.01v-.21l.01-.33h.29l.2-.01v-.21l.01-.23h.19l.2-.01v-.21l.01-.22h.19l.2-.01v-.22l.01-.22h.19l.2-.01v-.22l.01-.22h.19l.2-.01v-.22l.01-.23h.19l.2-.01v-.21l.01-.23h.19l.2-.01v-.22l.01-.23h.19l.2-.01v-.22l.01-.23h.19l.2-.01v-.22l.01-.24h.19l.2-.01v-.22l.01-.23h.19l.2-.01v-.22l.01-.24h.19l.2-.01v-.22l.01-.24h.19l.2-.01v-.22l.01-.24h.19l.2-.01v-.23l.01-.24h.19l.2-.01v-.22l.01-.24h.19l.2-.01v-.23l.01-.24h.19l.2-.01v-.23l.01-.25h.19l.2-.01v-.23l.01-.24h.19l.2-.01v-.23l.01-.25h.19l.2-.01v-.23l.01-.25h.19l.2-.01v-.24l.01-.24h.19l.2-.01v-.24l.01-.25h.19l.2-.01v-.24l.01-.25h.19l.2-.01v-.24l.01-.25h.19l.2-.01v-.24l.01-.25h.19l.2-.01v-.25l.01-.25h.19l.2-.01v-.25l.01-.25h.19l.2-.01v-.25l.01-.26h.19l.2-.01v-.24l.01-.26h.19l.2-.01v-.25l.01-.26h.19l.2-.01v-.25l.01-.26h.19l.2-.01v-.25l.01-.26h.19l.2-.01v-.25l.01-.26h.19l.2-.01v-.26l.01-.26h.19l.2-.01v-.26l.01-.26h.19l.2-.01v-.26l.01-.27h.19l.2-.01v-.26l.01-.27h.19l.2-.01v-.26l.01-.27h.19l.2-.01v-.26l.01-.28h.19l.2-.01v-.26l.01-.28h.19l.2-.01v-.26l.01-.28h.19l.2-.01v-.27l.01-.28h.19l.2-.01v-.28l.01-.28h.19l.2-.01v-.28l.01-.28h.19l.2-.01v-.28l.01-.29h.19l.2-.01v-.28l.01-.29h.19l.2-.01v-.29l.01-.29h.19l.2-.01v-.29l.01-.3h.19l.2-.01v-.29l.01-.3h.19l.2-.01v-.29l.01-.3h.19l.2-.01v-.3l.01-.31h.19l.2-.01v-.3l.01-.31h.19l.2-.01v-.3l.01-.32h.19l.2-.01v-.31l.01-.32h.19l.2-.01v-.31l.01-.32h.19l.2-.01v-.31l.01-.33h.19l.2-.01v-.32l.01-.33h.19l.2-.01v-.33l.01-.34h.19l.2-.01v-.34l.01-.34h.19l.2-.01v-.35l.01-.35h.19l.2-.01v-.35l.01-.36h.19l.2-.01v-.35l.01-.37h.19l.2-.01v-.36l.01-.38h.19l.2-.01v-.36l.01-.38h.19l.2-.01v-.37l.01-.38h.19l.2-.01v-.38l.01-.39h.19l.2-.01v-.37l.01-.4h.19l.2-.01v-.38l.01-.39h.19l.2-.01v-.39l.02-.4h.18l.2-.03v-.36l.04-.4h.16l.3-.1v-5.49l.1-2.67l.1-2.66l.1-2.65l.1-2.64l.1-2.62l.1-2.61l.1-2.59l.1-2.59l.1-2.57l.1-2.56l.1-2.55l.1-2.53l.1-2.52l.1-2.51l.12-3l.12-2.98l.12-2.95l.12-2.95l.12-2.92l.12-2.91l.12-2.89l.12-2.87l.12-2.85l.12-2.84l.12-2.82l.12-2.8l.12-2.79l.12-2.76l.12-2.75l.12-2.74l.12-2.71l.12-2.7l.12-2.68l.12-2.67l.12-2.65l.12-2.63l.12-2.61l.12-2.6l.12-2.58l.12-2.57l.12-2.54l.12-2.53l.12-2.52l.12-2.49l.12-2.49l.12-2.46l.12-2.45l.12-2.43l.12-2.42l.12-2.4l.14-2.77l.14-2.76l.14-2.73l.14-2.72l.14-2.69l.14-2.66l.14-2.65l.14-2.63l.14-2.6l.14-2.58l.14-2.56l.14-2.54l.14-2.52l.14-2.49l.14-2.48l.14-2.45l.14-2.43l.14-2.41l.14-2.39l.14-2.37l.14-2.35l.16-2.66l.16-2.63l.16-2.6l.16-2.57l.16-2.55l.16-2.52l.16-2.5l.16-2.47l.16-2.44l.16-2.41l.16-2.39l.16-2.36l.16-2.34l.16-2.3l.16-2.29l.18-2.53l.3-4.15l.3-2.54v-1.53l.29-3.97h.01l.3-1.45v-2.42l.27-3.79h.03l.3-1.02v-2.68l.26-3.61h.04l.3-.82v-2.7l.25-3.43h.05l.3-.68v-2.66l.24-3.26h.06l.3-.57v-2.6l.23-3.08h.07l.3-.48v-2.51l.22-2.9h.08l.3-.41v-2.41l.2-2.74h.1l.3-.35v-2.29l.2-2.56h.1l.3-.36v-2.12l.2-2.39h.1l.3-.37v-1.94l.2-2.22h.1l.3-.37v-1.77l.2-2.05h.1l.3-.32v-1.65l.18-1.89h.12l.3-.24v-1.56l.15-1.72h.15l.3-.18v-1.46l.12-1.55h.18l.3-.13v-1.34l.09-1.39h.21l.3-.09v-1.22l.08-1.22h.22l.3-.09v-1.06l.08-1.06h.22l.3-.09v-.88l.08-.9h.22l.3-.09v-.73l.08-.73h.22l.3-.08v-.57l.07-.57h.23l.3-.07v-.42l.07-.41h.23l.3-.06v-.27l.07-.3h.31l1.72 .08v.2h.3h-.3h.3h-.3h.3h-.3l.06 .3h.22l.28 .06v.31l.06 .44h.22l.28 .07v.44l.07 .58h.21l.28 .08v.57l.07 .72h.21l.28 .08v.72l.07 .86h.21l.28 .08v.86l.08 1.01h.2l.28 .09v.99l.08 1.15h.2l.28 .09v1.13l.08 1.29h.2l.28 .1v1.27l.1 1.43h.18l.28 .14v1.37l.12 1.59h.16l.28 .19v1.46l.15 1.73h.13l.28 .24v1.56l.17 1.87h.11l.28 .32v1.63l.19 2.01h.09l.28 .35v1.75l.19 2.16h.09l.28 .34v1.9l.19 2.32h.09l.28 .34v2.04l.19 2.47h.09l.28 .33v2.2l.19 2.62h.09l.28 .37v2.31l.2 2.77h.08l.28 .44v2.4l.21 2.91h.07l.28 .52v2.47l.22 3.07h.06l.28 .61v2.53l.23 3.23h.05l.28 .72v2.57l.24 3.38h.04l.28 .87v2.59l.25 3.53h.03l.28 1.12v2.49l.26 3.69h.02l.28 1.68v2.09l.27 3.85h.01l.28 3.31v.62l.16 2.29l.16 2.3l.16 2.34l.16 2.36l.16 2.39l.16 2.41l.16 2.44l.16 2.47l.16 2.5l.16 2.52l.16 2.55l.16 2.57l.16 2.6l.16 2.63l.16 2.66l.14 2.35l.14 2.37l.14 2.39l.14 2.41l.14 2.43l.14 2.45l.14 2.48l.14 2.49l.14 2.52l.14 2.54l.14 2.56l.14 2.58l.14 2.6l.14 2.63l.14 2.65l.14 2.66l.14 2.69l.14 2.72l.14 2.73l.14 2.76l.14 2.77l.12 2.4l.12 2.42l.12 2.43l.12 2.45l.12 2.46l.12 2.49l.12 2.49l.12 2.52l.12 2.53l.12 2.54l.12 2.57l.12 2.58l.12 2.6l.12 2.61l.12 2.63l.12 2.65l.12 2.67l.12 2.68l.12 2.7l.12 2.71l.12 2.74l.12 2.75l.12 2.76l.12 2.79l.12 2.8l.12 2.82l.12 2.84l.12 2.85l.12 2.87l.12 2.89l.12 2.91l.12 2.92l.12 2.95l.12 2.95l.12 2.98l.12 3l.1 2.51l.1 2.52l.1 2.53l.1 2.55l.1 2.56l.1 2.57l.1 2.59l.1 2.59l.1 2.61l.1 2.62l.1 2.64l.1 2.65l.1 2.66l.1 2.67l.1 2.69l.1 2.7l.07 .6h.23l.3 .06v.53l.04 .6h.26l.3 .02v.57l.01 .59h.29l.3 .01v.57l.01 .58h.29l.3 .01v.56l.01 .57h.29l.3 .01v.55l.01 .56h.29l.3 .01v.54l.01 .54h.29l.3 .01v.53l.01 .53h.29l.3 .01v.51l.01 .51h.29l.3 .01v.5l.01 .49h.29l.3 .01v.48l.01 .48h.29l.3 .01v.47l.01 .48h.29l.3 .01v.46l.01 .47h.29l.3 .01v.46l.01 .46h.29l.3 .01v.44l.01 .45h.29l.3 .01v.44l.01 .45h.29l.3 .01v.43l.01 .44h.29l.3 .01v.43l.01 .43h.29l.3 .01v.42l.01 .42h.29l.3 .01v.42l.01 .42h.29l.3 .01v.4l.01 .42h.29l.3 .01v.4l.01 .41h.29l.3 .01v.4l.01 .4h.29l.3 .01v.4l.01 .4h.29l.3 .01v.39l.01 .39h.29l.3 .01v.39l.01 .39h.29l.3 .01v.38l.01 .39h.29l.3 .01v.38l.01 .39h.29l.3 .01v.37l.01 .39h.29l.3 .01v.37l.01 .39h.29l.3 .01v.37l.01 .38h.29l.3 .01v.37l.01 .37h.29l.3 .01v.37l.01 .37h.29l.3 .01v.36l.01 .37h.29l.3 .01v.36l.01 .37h.29l.3 .01v.35l.01 .36h.29l.3 .01v.36l.01 .36h.29l.3 .01v.35l.01 .35h.29l.3 .01v.35l.01 .36h.29l.3 .01v.34l.01 .35h.29l.3 .01v.34l.01 .35h.29l.3 .01v.34l.01 .35h.29l.3 .01v.33l.01 .35h.29l.3 .01v.33l.01 .34h.29l.3 .01v.34l.01 .33h.29l.3 .01v.33l.01 .34h.29l.3 .01v.32l.01 .34h.29l.3 .01v.32l.01 .33h.29l.3 .01v.32l.01 .33h.29l.3 .01v.31l.01 .33h.29l.3 .01v.31l.01 .32h.29l.3 .01v.31l.01 .32h.29l.3 .01v.31l.01 .32h.29l.3 .01v.31l.01 .32h.29l.3 .01v.31l.01 .32h.29l.3 .01v.31l.01 .32h.29l.3 .01v.31l.01 .22h.19l.5 .02v.51l.02 .53h.48l.5 .02v.51l.02 .53h.48l.5 .02v.5l.02 .52h.48l.5 .02v.49l.02 .51h.48l.5 .02v.49l.02 .49h.48l.5 .02v.47l.02 .48h.48l.5 .02v.46l.02 .46h.48l.5 .02v.44l.02 .45h.48l.5 .02v.41l.02 .43h.48l.5 .01v.4l.01 .4h.49l.5 .01v.38l.01 .38h.49l.5 .01v.36l.01 .37h.49l.5 .01v.35l.01 .36h.49l.5 .01v.35l.01 .35h.49l.5 .01v.34l.01 .34h.49l.5 .01v.33l.01 .33h.49l.5 .01v.32l.01 .33h.49l.5 .01v.31l.01 .32h.49l.5 .01v.3l.01 .31h.49l.5 .01v.3l.01 .3h.49l.5 .01v.29l.01 .3h.49l.5 .01v.28l.01 .28h.49l.5 .01v.28l.01 .28h.49l.5 .01v.26l.01 .28h.49l.5 .01v.25l.01 .27h.49l.5 .01v.25l.01 .26h.49l.5 .01v.24l.01 .25h.49l.5 .01v.23l.01 .25h.49l.5 .01v.22l.01 .24h.49l.5 .01v.22l.01 .23h.49l.5 .01v.21l.01 .23h.49l.5 .01v.21l.01 .22h.49l.5 .01v.21l.01 .22h.49l.5 .01v.2l.01 .21h.49l.5 .01v.19l.01 .2h.49l.5 .01v.19l.01 .18h.49l.5 .01v.17l.01 .18h.49l.5 .01v.15l.01 .16h.49l1 .01v.28l.01 .25h.99l1 .01v.21l.01 .29h1.49l1.5 .01v.24l.01 .24h1.49l1.5 .01v.22l.01 .25h1.49l1.5 .01v.28l.01 .26h1.49h7v.08l.01 .21h2.49l.5 .01v.15l.01 .19h.49l.5 .01v.21l.01 .24h.49l.5 .01v.25l.01 .27h.49l.5 .01v.26l.01 .27h.49l.5 .01v.26l.01 .26h.49l.5 .01v.24l.01 .23h.49l.5 .01v.19l.01 .19h.49l.5 .01v.18l.01 .2h.49l.5 .01v.17l.01 .19h.49l.5 .01v.18l.01 .18h.49l.5 .01v.18l.01 .18h.49l.5 .01v.17l.01 .17h.49l.5 .01v.17l.01 .17h.49l.5 .01v.16l.01 .16h.49l.5 .01v.16l.01 .16h.49l.5 .01v.15l.01 .17h.49l.5 .01v.15l.01 .16h.49l.5 .01v.15l.01 .15h.49l.5 .01v.15l.01 .16h.49l.5 .01v.14l.01 .16h.49l.5 .01v.14l.01 .15h.49l.5 .01v.14l.01 .16h.49l1 .01v.28l.01 .3h.99l1 .01v.28l.01 .28h.99l1 .01v.28l.01 .27h.99l1 .01v.27l.01 .27h.99l1 .01v.25l.01 .26h.99l1 .01v.25l.01 .25h.99l1 .01v.24l.01 .24h.99l1 .01v.22l.01 .24h.99l1 .01v.21l.01 .23h.99l1 .01v.21l.01 .21h.99l1 .01v.21l.01 .22h.99l1 .01v.2l.01 .21h.99l1 .01v.2l.01 .22h.99l1 .01v.2l.01 .21h.99l1 .01v.21l.01 .22h.99l1 .01v.21l.01 .23h.99l1 .01v.21l.01 .23h.99l1 .01v.23l.01 .23h.99l1 .01v.23l.01 .24h.99l1 .01v.22l.01 .24h.99l1 .01v.23l.01 .24h.99l1 .01v.23l.01 .24h.99l1 .01v.23l.01 .24h.99l1 .01v.22l.01 .23h.99l1 .01v.22l.01 .23h.99l1 .01v.21l.01 .22h.99l1 .01v.21l.01 .21h.99l1 .01v.2l.02 .3h1.48l1.5 .01v.28l.01 .28h1.49l1.5 .01v.27l.01 .28h1.49l1.5 .01v.26l.01 .28h1.49l1.5 .01v.26l.01 .26h1.49l1.5 .01v.26l.01 .26h1.49l1.5 .01v.24l.01 .26h1.49l1.5 .01v.24l.01 .26h1.49l1.5 .01v.23l.01 .25h1.49l1.5 .01v.24l.01 .24h1.49l1.5 .01v.23l.01 .24h1.49l1.5 .01v.22l.01 .24h1.49l1.5 .01v.22l.01 .23h1.49l1.5 .01v.22l.02 .3h1.98l2 .02v.28l.02 .3h1.98l2 .01v.28l.02 .29h1.98l2 .01v.28l.02 .29h1.98l2 .01v.28l.01 .28h1.99l2 .01v.27l.01 .28h1.99l2 .01v.28l.01 .27h1.99l2 .01v.27l.01 .28h1.99l2 .01v.27l.01 .27h1.99l2 .01v.26l.01 .26h1.99l2 .01v.26l.01 .26h1.99l2 .01v.24l.01 .26h1.99l2 .01v.25l.01 .25h1.99l2 .01v.24l.01 .25h1.99l2 .01v.23l.01 .25h1.99l2 .01v.23l.01 .24h1.99l2 .01v.24l.02 .3h2.48l2.5 .02v.27l.01 .24h1.99l2.5 .02v.28l.02 .29h2.48l2.5 .02v.28l.02 .29h2.48l2.5 .02v.28l.02 .29h2.48l2.5 .02v.28l.02 .29h2.48l2 .01v.23l.02 .3h2.48l2.5 .02v.28l.02 .3h2.48l2.5 .02v.28l.02 .3h2.48l2.5 .02v.28l.02 .3h2.48l2.5 .02v.28l.02 .3h2.48l2.5 .02v.28l.02 .3h2.48l2.5 .02v.27l.02 .3h2.48l2.5 .02v.27l.02 .3h2.48l2.5 .01v.28l.02 .28h2.48l2.5 .02v.27l.02 .28h2.48l2.5 .01v.27l.01 .28h2.49l2.5 .01v.26l.01 .27h2.49l2.5 .01v.26l.01 .26h2.49l2.5 .01v.25l.01 .25h2.49l2.5 .01v.24l.02 .3h2.98l3 .02v.27l.02 .29h2.98l3 .02v.27l.02 .29h2.98l3 .01v.27l.01 .28h2.99l3 .01v.26l.01 .28h2.99l3 .01v.25l.01 .27h2.99l3 .01v.25l.01 .26h2.99l3 .01v.25l.02 .3h3.48l3.5 .02v.27l.02 .29h3.48l3.5 .01v.27l.02 .28h3.48l3.5 .01v.27l.01 .27h3.49l3.5 .01v.26l.02 .3h3.98l4 .02v.27l.02 .28h3.98l4 .02v.27l.02 .27h3.98l4 .01v.27l.01 .27h3.99l4 .01v.26l.01 .27h3.99l4.5 .02v.28l.02 .3h4.48l4 .01v.26l.02 .3h4.48l4 .01v.26l.01 .27h3.99l4 .01v.26l.01 .27h3.99l4 .01v.26l.01 .27h3.99l4.5 .02v.28l.02 .3h4.48l4.5 .02v.28l.02 .3h4.48l4.5 .02v.27l.02 .3h4.48l4.5 .02v.27l.01 .26h3.99"/>
<path stroke="#003f80" stroke-dasharray="28.7 13.7 0.01 13.7" stroke-dashoffset="2.7" d="M191.8 801.19l4.5-.02v-.27l.02-.3h4.48l4.5-.02v-.27l.02-.3h4.48l4.5-.02v-.28l.02-.3h4.48l4.5-.02v-.28l.02-.3h4.48l4-.01v-.26l.01-.27h3.99l4-.01v-.26l.01-.27h3.99l4-.01v-.26l.01-.27h3.99l4-.01v-.26l.01-.27h3.99l4-.01v-.26l.01-.27h3.99l4-.01v-.26l.01-.27h3.99l4-.01v-.26l.02-.28h3.98l4-.01v-.26l.02-.29h3.98l4-.02v-.26l.02-.3h3.98l4-.02v-.28l.02-.3h3.98l3.5-.01v-.26l.02-.28h3.48l3.5-.01v-.27l.02-.29h3.48l3.5-.02v-.26l.02-.3h3.48l3.5-.02v-.28l.02-.3h3.48l3-.01v-.25l.01-.26h2.99l3-.01v-.26l.01-.27h2.99l3-.01v-.27l.01-.27h2.99l3-.01v-.27l.02-.29h2.98l3-.01v-.27l.02-.29h2.98l3-.02v-.27l.02-.3h2.98l3-.02v-.28l.01-.25h2.49l2.5-.01v-.25l.01-.25h2.49l2.5-.01v-.26l.01-.27h2.49l2.5-.01v-.26l.01-.27h2.49l2.5-.01v-.27l.02-.28h2.48l2.5-.02v-.27l.02-.29h2.48l2.5-.01v-.28l.02-.29h2.48l2.5-.02v-.27l.01-.24h1.99l2.5-.02v-.28l.02-.3h2.48l2.5-.02v-.28l.02-.3h2.48l2-.01v-.23l.01-.24h1.99l2-.01v-.23l.01-.25h1.99l2-.01v-.23l.01-.24h1.99l2-.01v-.23l.01-.25h1.99l2.5-.02v-.28l.02-.3h2.48l2.5-.02v-.28l.02-.3h2.48l2.5-.02v-.27l.01-.24h1.99l2-.01v-.23l.02-.3h2.48l2.5-.02v-.28l.02-.29h2.48l2-.01v-.23l.01-.24h1.99l2-.01v-.23l.01-.24h1.99l2-.01v-.23l.01-.25h1.99l2-.01v-.23l.01-.25h1.99l2-.01v-.23l.01-.25h1.99l2-.01v-.24l.01-.25h1.99l2-.01v-.24l.01-.26h1.99l2-.01v-.25l.01-.25h1.99l2-.01v-.26l.01-.26h1.99l2-.01v-.26l.01-.26h1.99l2-.01v-.27l.01-.27h1.99l2-.01v-.27l.01-.28h1.99l2-.01v-.27l.01-.28h1.99l2-.01v-.27l.02-.29h1.98l2-.01v-.28l.01-.28h1.99l2-.01v-.28l.02-.29h1.98l2-.02v-.28l.02-.29h1.98l2-.02v-.28l.02-.3h1.98l1.5-.01v-.22l.02-.3h1.98l1.5-.01v-.22l.01-.23h1.49l1.5-.01v-.23l.01-.23h1.49l1.5-.01v-.23l.01-.24h1.49l1.5-.01v-.23l.01-.25h1.49l1.5-.01v-.23l.01-.25h1.49l1.5-.01v-.24l.01-.25h1.49l1.5-.01v-.25l.01-.26h1.49l1.5-.01v-.25l.01-.26h1.49l1.5-.01v-.26l.01-.26h1.49l1.5-.01v-.27l.01-.27h1.49l1.5-.01v-.27l.01-.28h1.49l1.5-.01v-.27l.01-.29h1.49l1.5-.01v-.28l.02-.3h1.48l1-.01v-.2l.01-.21h.99l1-.01v-.2l.01-.22h.99l1-.01v-.22l.01-.23h.99l1-.01v-.22l.01-.23h.99l1-.01v-.22l.01-.24h.99l1-.01v-.23l.01-.24h.99l1-.01v-.23l.01-.24h.99l1-.01v-.23l.01-.25h.99l1-.01v-.23l.01-.24h.99l1-.01v-.23l.01-.23h.99l1-.01v-.23l.01-.23h.99l1-.01v-.22l.01-.23h.99l1-.01v-.21l.01-.22h.99l1-.01v-.21l.01-.22h.99l1-.01v-.2l.01-.21h.99l1-.01v-.21l.01-.21h.99l1-.01v-.2l.01-.22h.99l1-.01v-.2l.01-.22h.99l1-.01v-.21l.01-.22h.99l1-.01v-.22l.01-.23h.99l1-.01v-.22l.01-.24h.99l1-.01v-.23l.01-.25h.99l1-.01v-.25l.01-.26h.99l1-.01v-.25l.01-.27h.99l1-.01v-.26l.01-.28h.99l1-.01v-.27l.01-.28h.99l1-.01v-.28l.01-.29h.99l.5-.01v-.14l.01-.15h.49l.5-.01v-.14l.01-.15h.49l.5-.01v-.14l.01-.15h.49l.5-.01v-.15l.01-.15h.49l.5-.01v-.15l.01-.15h.49l.5-.01v-.15l.01-.16h.49l.5-.01v-.15l.01-.16h.49l.5-.01v-.15l.01-.16h.49l.5-.01v-.16l.01-.16h.49l.5-.01v-.15l.01-.17h.49l.5-.01v-.16l.01-.17h.49l.5-.01v-.16l.01-.18h.49l.5-.01v-.17l.01-.18h.49l.5-.01v-.17l.01-.19h.49l.5-.01v-.18l.01-.19h.49l.5-.01v-.18l.01-.19h.49l.5-.01v-.18l.01-.19h.49l.5-.01v-.19l.01-.23h.49l.5-.01v-.24l.01-.26h.49l.5-.01v-.26l.01-.27h.49l.5-.01v-.27l.01-.26h.49l.5-.01v-.25l.01-.24h.49l.5-.01v-.21l.01-.19h.49l1-.01v-.28v.01h7l2.5-.01v-.24l.01-.28h1.49l1.5-.01v-.27l.01-.24h1.49l1.5-.01v-.23l.01-.24h1.49l1.5-.01v-.25l.01-.2h.99l1-.01v-.21l.01-.25h.99l1-.01v-.28l.01-.16h.49l.5-.01v-.16l.01-.17h.49l.5-.01v-.17l.01-.19h.49l.5-.01v-.19l.01-.2h.49l.5-.01v-.19l.01-.21h.49l.5-.01v-.21l.01-.21h.49l.5-.01v-.22l.01-.22h.49l.5-.01v-.22l.01-.22h.49l.5-.01v-.22l.01-.23h.49l.5-.01v-.23l.01-.23h.49l.5-.01v-.23l.01-.25h.49l.5-.01v-.23l.01-.26h.49l.5-.01v-.24l.01-.26h.49l.5-.01v-.25l.01-.27h.49l.5-.01v-.26l.01-.28h.49l.5-.01v-.27l.01-.28h.49l.5-.01v-.28l.01-.29h.49l.5-.01v-.28l.01-.3h.49l.5-.01v-.3l.01-.3h.49l.5-.01v-.3l.01-.32h.49l.5-.01v-.31l.01-.32h.49l.5-.01v-.32l.01-.33h.49l.5-.01v-.33l.01-.34h.49l.5-.01v-.33l.01-.35h.49l.5-.01v-.35l.01-.35h.49l.5-.01v-.36l.01-.36h.49l.5-.01v-.36l.01-.38h.49l.5-.01v-.37l.01-.38h.49l.5-.01v-.39l.01-.41h.49l.5-.01v-.41l.02-.44h.48l.5-.02v-.42l.02-.46h.48l.5-.02v-.45l.02-.47h.48l.5-.02v-.47l.02-.49h.48l.5-.02v-.48l.02-.51h.48l.5-.02v-.49l.02-.52h.48l.5-.02v-.5l.02-.54h.48l.5-.02v-.51l.02-.54h.48l.5-.02v-.52l.02-.54h.48l.5-.02v-.53l.01-.22h.19l.3-.01v-.32l.01-.22h.19l.3-.01v-.32l.01-.22h.19l.3-.01v-.32l.01-.21h.19l.3-.01v-.32l.01-.22h.19l.3-.01v-.32l.01-.22h.19l.2-.01v-.21l.01-.33h.29l.2-.01v-.21l.01-.33h.29l.2-.01v-.21l.01-.33h.29l.2-.01v-.22l.01-.33h.29l.2-.01v-.22l.01-.34h.29l.2-.01v-.21l.01-.34h.29l.2-.01v-.22l.01-.23h.19l.2-.01v-.22l.01-.23h.19l.2-.01v-.22l.01-.23h.19l.2-.01v-.22l.01-.24h.19l.2-.01v-.22l.01-.23h.19l.2-.01v-.23l.01-.23h.19l.2-.01v-.23l.01-.23h.19l.2-.01v-.23l.01-.24h.19l.2-.01v-.23l.01-.24h.19l.2-.01v-.23l.01-.24h.19l.2-.01v-.23l.01-.24h.19l.2-.01v-.23l.01-.24h.19l.2-.01v-.24l.01-.24h.19l.2-.01v-.24l.01-.24h.19l.2-.01v-.24l.01-.25h.19l.2-.01v-.23l.01-.25h.19l.2-.01v-.24l.01-.25h.19l.2-.01v-.24l.01-.25h.19l.2-.01v-.24l.01-.25h.19l.2-.01v-.25l.01-.25h.19l.2-.01v-.25l.01-.25h.19l.2-.01v-.25l.01-.25h.19l.2-.01v-.25l.01-.26h.19l.2-.01v-.24l.01-.26h.19l.2-.01v-.25l.01-.26h.19l.2-.01v-.25l.01-.26h.19l.2-.01v-.26l.01-.26h.19l.2-.01v-.25l.01-.27h.19l.2-.01v-.25l.01-.26h.19l.2-.01v-.26l.01-.26h.19l.2-.01v-.26l.01-.26h.19l.2-.01v-.26l.01-.26h.19l.2-.01v-.26l.01-.27h.19l.2-.01v-.26l.01-.27h.19l.2-.01v-.26l.01-.27h.19l.2-.01v-.26l.01-.27h.19l.2-.01v-.26l.01-.27h.19l.2-.01v-.27l.01-.27h.19l.2-.01v-.27l.01-.28h.19l.2-.01v-.27l.01-.27h.19l.2-.01v-.27l.01-.29h.19l.2-.01v-.27l.01-.28h.19l.2-.01v-.28l.01-.28h.19l.2-.01v-.28l.01-.29h.19l.2-.01v-.28l.01-.29h.19l.2-.01v-.29l.01-.29h.19l.2-.01v-.29l.01-.3h.19l.2-.01v-.29l.01-.3h.19l.2-.01v-.29l.01-.31h.19l.2-.01v-.29l.01-.31h.19l.2-.01v-.3l.01-.32h.19l.2-.01v-.3l.01-.32h.19l.2-.01v-.3l.01-.32h.19l.2-.01v-.32l.01-.32h.19l.2-.01v-.32l.01-.33h.19l.2-.01v-.32l.01-.33h.19l.2-.01v-.33l.01-.34h.19l.2-.01v-.33l.01-.35h.19l.2-.01v-.34l.01-.36h.19l.2-.01v-.35l.01-.37h.19l.2-.01v-.35l.01-.38h.19l.2-.01v-.36l.01-.38h.19l.2-.01v-.37l.01-.38h.19l.2-.01v-.38l.01-.39h.19l.2-.01v-.38l.01-.39h.19l.2-.01v-.39l.01-.4h.19l.2-.01v-.39l.01-.4h.19l.2-.01v-.4l.02-.41h.18l.2-.03v-.37l.03-.41h.17l.3-.08v-4.68l.08-3.47l.08-3.45l.08-3.44l.08-3.43l.08-3.42l.08-3.4l.08-3.4l.08-3.38l.08-3.37l.08-3.36l.08-3.35l.08-3.34l.08-3.32l.08-3.31l.08-3.31l.08-3.29l.08-3.27l.08-3.27l.08-3.26l.08-3.24l.08-3.23l.08-3.23l.08-3.21l.08-3.19l.08-3.19l.08-3.18l.08-3.16l.08-3.15l.08-3.15l.08-3.13l.08-3.11l.08-3.11l.08-3.1l.08-3.08l.08-3.07l.08-3.07l.08-3.05l.08-3.04l.08-3.02l.08-3.02l.08-3.01l.08-2.99l.08-2.98l.08-2.97l.08-2.97l.08-2.94l.08-2.94l.08-2.93l.08-2.91l.08-2.91l.08-2.89l.08-2.88l.08-2.88l.08-2.85l.08-2.85l.08-2.84l.08-2.83l.08-2.81l.08-2.81l.08-2.79l.08-2.78l.08-2.77l.08-2.76l.08-2.75l.08-2.74l.08-2.72l.08-2.72l.08-2.7l.08-2.7l.08-2.68l.08-2.67l.1-3.33l.1-3.3l.1-3.29l.1-3.27l.1-3.26l.1-3.24l.1-3.22l.1-3.2l.1-3.19l.1-3.17l.1-3.15l.1-3.14l.1-3.12l.1-3.1l.1-3.09l.1-3.06l.1-3.06l.1-3.03l.1-3.02l.1-3l.1-2.98l.1-2.97l.1-2.95l.1-2.93l.1-2.92l.1-2.9l.1-2.88l.1-2.87l.1-2.85l.1-2.83l.1-2.82l.1-2.8l.1-2.78l.1-2.76l.1-2.75l.1-2.74l.1-2.71l.1-2.7l.1-2.69l.1-2.66l.1-2.65l.1-2.64l.1-2.61l.1-2.6l.1-2.59l.1-2.56l.1-2.55l.1-2.54l.1-2.52l.1-2.5l.12-2.98l.12-2.95l.12-2.94l.12-2.9l.12-2.89l.12-2.86l.12-2.84l.12-2.82l.12-2.79l.12-2.76l.12-2.75l.12-2.72l.12-2.7l.12-2.67l.12-2.65l.12-2.63l.12-2.6l.12-2.58l.12-2.56l.12-2.54l.12-2.51l.12-2.49l.12-2.46l.12-2.44l.12-2.42l.14-2.79l.14-2.76l.14-2.73l.14-2.7l.14-2.66l.14-2.64l.14-2.6l.14-2.57l.14-2.54l.14-2.51l.14-2.48l.14-2.45l.14-2.41l.14-2.39l.14-2.35l.16-2.65l.16-2.61l.16-2.57l.16-2.53l.16-2.49l.16-2.45l.16-2.41l.16-2.37l.16-2.32l.16-2.29l.1-1.41l.3-4.13l.3-2.12v-1.87l.28-3.85h.02l.3-1.07v-2.64l.26-3.57h.04l.3-.76v-2.66l.24-3.29h.06l.3-.58v-2.56l.22-3.01h.08l.3-.43v-2.43l.2-2.72h.1l.3-.35v-2.24l.2-2.44h.1l.3-.37v-1.94l.2-2.16h.1l.3-.37v-1.66l.18-1.88h.12l.3-.22v-1.53l.13-1.61h.17l.3-.14v-1.32l.09-1.33h.21l.3-.09v-1.1l.08-1.05h.22l.3-.09v-.83l.08-.77h.22l.3-.08v-.55l.07-.5h.23l.3-.06v-.29l.1 .3h1.4h.3h-.3h.3h-.3h.3h-.3h.3h-.3h.3h-.3h.3h-.3h.3h-.3l.28 .07v.37l.07 .56h.21l.28 .08v.6l.07 .81h.21l.28 .08v.84l.08 1.05h.2l.28 .09v1.07l.08 1.29h.2l.28 .11v1.3l.11 1.53h.17l.28 .18v1.47l.15 1.77h.13l.28 .28v1.62l.19 2.01h.09l.28 .35v1.79l.19 2.26h.09l.28 .34v2.04l.19 2.51h.09l.28 .35v2.27l.2 2.75h.08l.28 .44v2.43l.22 2.99h.06l.28 .58v2.53l.23 3.24h.05l.28 .75v2.61l.25 3.48h.03l.28 1.06v2.55l.26 3.73h.02l.28 2.08v1.77l.28 3.98l.16 2.32l.16 2.37l.16 2.41l.16 2.45l.16 2.49l.16 2.53l.16 2.57l.16 2.61l.16 2.65l.14 2.35l.14 2.39l.14 2.41l.14 2.45l.14 2.48l.14 2.51l.14 2.54l.14 2.57l.14 2.6l.14 2.64l.14 2.66l.14 2.7l.14 2.73l.14 2.76l.14 2.79l.12 2.42l.12 2.44l.12 2.46l.12 2.49l.12 2.51l.12 2.54l.12 2.56l.12 2.58l.12 2.6l.12 2.63l.12 2.65l.12 2.67l.12 2.7l.12 2.72l.12 2.75l.12 2.76l.12 2.79l.12 2.82l.12 2.84l.12 2.86l.12 2.89l.12 2.9l.12 2.94l.12 2.95l.12 2.98l.1 2.5l.1 2.52l.1 2.54l.1 2.55l.1 2.56l.1 2.59l.1 2.6l.1 2.61l.1 2.64l.1 2.65l.1 2.66l.1 2.69l.1 2.7l.1 2.71l.1 2.74l.1 2.75l.1 2.76l.1 2.78l.1 2.8l.1 2.82l.1 2.83l.1 2.85l.1 2.87l.1 2.88l.1 2.9l.1 2.92l.1 2.93l.1 2.95l.1 2.97l.1 2.98l.1 3l.1 3.02l.1 3.03l.1 3.06l.1 3.06l.1 3.09l.1 3.1l.1 3.12l.1 3.14l.1 3.15l.1 3.17l.1 3.19l.1 3.2l.1 3.22l.1 3.24l.1 3.26l.1 3.27l.1 3.29l.1 3.3l.1 3.33l.08 2.67l.08 2.68l.08 2.7l.08 2.7l.08 2.72l.08 2.72l.08 2.74l.08 2.75l.08 2.76l.08 2.77l.08 2.78l.08 2.79l.08 2.81l.08 2.81l.08 2.83l.08 2.84l.08 2.85l.08 2.85l.08 2.88l.08 2.88l.08 2.89l.08 2.91l.08 2.91l.08 2.93l.08 2.94l.08 2.94l.08 2.97l.08 2.97l.08 2.98l.08 2.99l.08 3.01l.08 3.02l.08 3.02l.08 3.04l.08 3.05l.08 3.07l.08 3.07l.08 3.08l.08 3.1l.08 3.11l.08 3.11l.08 3.13l.08 3.15l.08 3.15l.08 3.16l.08 3.18l.08 3.19l.08 3.19l.08 3.21l.08 3.23l.08 3.23l.08 3.24l.08 3.26l.08 3.27l.08 3.27l.08 3.29l.08 3.31l.08 3.31l.08 3.32l.08 3.34l.08 3.35l.08 3.36l.08 3.37l.08 3.38l.08 3.4l.08 3.4l.08 3.42l.08 3.43l.08 3.44l.08 3.45l.08 3.47l.08 3.47l.02 .87l.3 .08v.54l.05 .61h.25l.3 .04v.57l.02 .61h.28l.3 .01v.59l.01 .6h.29l.3 .01v.58l.01 .58h.29l.3 .01v.57l.01 .57h.29l.3 .01v.56l.01 .56h.29l.3 .01v.54l.01 .54h.29l.3 .01v.52l.01 .53h.29l.3 .01v.5l.01 .51h.29l.3 .01v.49l.01 .49h.29l.3 .01v.48l.01 .49h.29l.3 .01v.47l.01 .47h.29l.3 .01v.46l.01 .47h.29l.3 .01v.45l.01 .46h.29l.3 .01v.44l.01 .45h.29l.3 .01v.44l.01 .44h.29l.3 .01v.43l.01 .44h.29l.3 .01v.42l.01 .43h.29l.3 .01v.42l.01 .42h.29l.3 .01v.42l.01 .41h.29l.3 .01v.41l.01 .42h.29l.3 .01v.4l.01 .41h.29l.3 .01v.4l.01 .4h.29l.3 .01v.4l.01 .4h.29l.3 .01v.39l.01 .41h.29l.3 .01v.38l.01 .4h.29l.3 .01v.39l.01 .4h.29l.3 .01v.38l.01 .4h.29l.3 .01v.38l.01 .4h.29l.3 .01v.38l.01 .39h.29l.3 .01v.38l.01 .38h.29l.3 .01v.38l.01 .38h.29l.3 .01v.38l.01 .38h.29l.3 .01v.37l.01 .38h.29l.3 .01v.36l.01 .38h.29l.3 .01v.36l.01 .38h.29l.3 .01v.36l.01 .37h.29l.3 .01v.36l.01 .36h.29l.3 .01v.36l.01 .36h.29l.3 .01v.35l.01 .36h.29l.3 .01v.35l.01 .36h.29l.3 .01v.35l.01 .35h.29l.3 .01v.35l.01 .35h.29l.3 .01v.34l.01 .35h.29l.3 .01v.33l.01 .35h.29l.3 .01v.34l.01 .34h.29l.3 .01v.33l.01 .34h.29l.3 .01v.33l.01 .34h.29l.3 .01v.32l.01 .34h.29l.3 .01v.32l.01 .33h.29l.3 .01v.32l.01 .33h.29l.3 .01v.32l.01 .33h.29l.3 .01v.32l.01 .33h.29l.3 .01v.31l.01 .33h.29l.3 .01v.32l.01 .33h.29l.3 .01v.32l.01 .22h.19l.5 .02v.53l.02 .54h.48l.5 .02v.52l.02 .54h.48l.5 .02v.51l.02 .54h.48l.5 .02v.5l.02 .52h.48l.5 .02v.49l.02 .51h.48l.5 .02v.48l.02 .49h.48l.5 .02v.47l.02 .47h.48l.5 .02v.45l.02 .46h.48l.5 .02v.42l.02 .44h.48l.5 .01v.41l.01 .41h.49l.5 .01v.39l.01 .38h.49l.5 .01v.37l.01 .38h.49l.5 .01v.36l.01 .36h.49l.5 .01v.36l.01 .35h.49l.5 .01v.35l.01 .35h.49l.5 .01v.33l.01 .34h.49l.5 .01v.33l.01 .33h.49l.5 .01v.32l.01 .32h.49l.5 .01v.31l.01 .32h.49l.5 .01v.3l.01 .3h.49l.5 .01v.3l.01 .3h.49l.5 .01v.28l.01 .29h.49l.5 .01v.28l.01 .28h.49l.5 .01v.27l.01 .28h.49l.5 .01v.26l.01 .27h.49l.5 .01v.25l.01 .26h.49l.5 .01v.24l.01 .26h.49l.5 .01v.23l.01 .25h.49l.5 .01v.23l.01 .23h.49l.5 .01v.23l.01 .23h.49l.5 .01v.22l.01 .22h.49l.5 .01v.22l.01 .22h.49l.5 .01v.22l.01 .21h.49l.5 .01v.21l.01 .21h.49l.5 .01v.19l.01 .2h.49l.5 .01v.19l.01 .19h.49l.5 .01v.17l.01 .17h.49l.5 .01v.16l.01 .16h.49l1 .01v.28l.01 .25h.99l1 .01v.21l.01 .29h1.49l1.5 .01v.25l.01 .23h1.49l1.5 .01v.22l.01 .26h1.49l1.5 .01v.28l.01 .26h1.49h7v.07l.01 .21h2.49l.5 .01v.16l.01 .19h.49l.5 .01v.21l.01 .24h.49l.5 .01v.25l.01 .26h.49l.5 .01v.27l.01 .27h.49l.5 .01v.26l.01 .26h.49l.5 .01v.24l.01 .23h.49l.5 .01v.19l.01 .19h.49l.5 .01v.18l.01 .19h.49l.5 .01v.18l.01 .19h.49l.5 .01v.18l.01 .19h.49l.5 .01v.17l.01 .18h.49l.5 .01v.17l.01 .18h.49l.5 .01v.16l.01 .17h.49l.5 .01v.16l.01 .17h.49l.5 .01v.15l.01 .16h.49l.5 .01v.16l.01 .16h.49l.5 .01v.15l.01 .16h.49l.5 .01v.15l.01 .16h.49l.5 .01v.15l.01 .15h.49l.5 .01v.15l.01 .15h.49l.5 .01v.15l.01 .3h.99l1 .01v.29l.01 .3h.99l1 .01v.28l.01 .29h.99l1 .01v.27l.01 .28h.99l1 .01v.27l.01 .27h.99l1 .01v.26l.01 .26h.99l1 .01v.25l.01 .26h.99l1 .01v.24l.01 .24h.99l1 .01v.23l.01 .23h.99l1 .01v.22l.01 .23h.99l1 .01v.21l.01 .22h.99l1 .01v.21l.01 .21h.99l1 .01v.21l.01 .21h.99l1 .01v.2l.01 .22h.99l1 .01v.2l.01 .21h.99l1 .01v.21l.01 .22h.99l1 .01v.21l.01 .22h.99l1 .01v.22l.01 .23h.99l1 .01v.22l.01 .24h.99l1 .01v.22l.01 .24h.99l1 .01v.23l.01 .24h.99l1 .01v.24l.01 .24h.99l1 .01v.23l.01 .24h.99l1 .01v.23l.01 .24h.99l1 .01v.23l.01 .23h.99l1 .01v.22l.01 .23h.99l1 .01v.22l.01 .23h.99l1 .01v.21l.01 .21h.99l1 .01v.2l.01 .21h.99l1 .01v.19l.02 .3h1.48l1.5 .01v.27l.01 .29h1.49l1.5 .01v.27l.01 .28h1.49l1.5 .01v.26l.01 .28h1.49l1.5 .01v.25l.01 .27h1.49l1.5 .01v.26l.01 .26h1.49l1.5 .01v.25l.01 .25h1.49l1.5 .01v.25l.01 .25h1.49l1.5 .01v.24l.01 .24h1.49l1.5 .01v.24l.01 .24h1.49l1.5 .01v.23l.01 .24h1.49l1.5 .01v.22l.01 .24h1.49l1.5 .01v.22l.01 .23h1.49l1.5 .01v.22l.01 .23h1.49l1.5 .01v.22l.02 .3h1.98l2 .02v.27l.02 .3h1.98l2 .01v.28l.02 .29h1.98l2 .01v.28l.02 .29h1.98l2 .01v.27l.02 .29h1.98l2 .01v.27l.01 .28h1.99l2 .01v.27l.01 .28h1.99l2 .01v.27l.01 .27h1.99l2 .01v.26l.01 .27h1.99l2 .01v.26l.01 .26h1.99l2 .01v.25l.01 .26h1.99l2 .01v.25l.01 .25h1.99l2 .01v.24l.01 .25h1.99l2 .01v.24l.01 .25h1.99l2 .01v.24l.01 .24h1.99l2 .01v.23l.01 .25h1.99l2.5 .02v.28l.02 .3h2.48l2.5 .02v.28l.02 .3h2.48l2.5 .02v.27l.01 .24h1.99l2.5 .02v.28l.02 .3h2.48l2.5 .02v.27l.01 .24h1.99l2 .01v.23l.01 .24h1.99l2 .01v.23l.01 .24h1.99l2 .01v.23l.01 .25h1.99l2.5 .02v.28l.01 .24h1.99l2 .01v.23l.01 .25h1.99l2.5 .02v.28l.01 .24h1.99l2 .01v.23l.01 .24h1.99l2 .01v.23l.01 .24h1.99l2.5 .02v.28l.02 .29h2.48l2.5 .02v.28l.02 .29h2.48l2.5 .02v.27l.02 .29h2.48l2.5 .01v.27l.02 .28h2.48l2.5 .01v.27l.01 .28h2.49l2.5 .01v.26l.01 .26h2.49l2.5 .01v.26l.01 .26h2.49l2.5 .01v.24l.01 .25h2.49l3 .02v.28l.02 .3h2.98l3 .02v.27l.02 .29h2.98l3 .01v.27l.02 .28h2.98l3 .01v.27l.02 .28h2.98l3 .01v.26l.01 .27h2.99l3 .01v.26l.01 .27h2.99l3.5 .02v.28l.01 .26h2.99l3.5 .02v.27l.02 .3h3.48l3.5 .02v.27l.02 .28h3.48l3.5 .01v.27l.02 .28h3.48l3.5 .01v.26l.01 .26h3.49l3.5 .01v.26l.02 .29h3.98l4 .02v.27l.02 .28h3.98l4 .01v.27l.02 .28h3.98l4 .01v.26l.01 .27h3.99l4 .01v.26l.01 .27h3.99l4.5 .02v.28l.01 .27h3.99l4.5 .02v.28l.01 .27h3.99l4 .01v.26l.02 .28h3.98l4 .01v.26l.01 .27h3.99l4.5 .02v.28l.01 .27h3.99l4.5 .02v.28l.02 .3h4.48l4.5 .02v.27l.01 .27h3.99l4.5 .02v.27l.02 .3h4.48l4.5 .02v.27"/>
</g>
<g fill="none" stroke-width="6.2" stroke-linecap="round" stroke-linejoin="round">
<path stroke="#800000" d="M187.8 1668l.9 2.05l.9 2.04l.9 2.02l.9 2.02l.9 2l.9 1.99l.9 1.98l.9 1.97l.9 1.95l.9 1.94l.9 1.92l.95 2.02l.95 2l.95 1.99l.95 1.97l.95 1.97l.95 1.95l.95 1.94l.95 1.93l.95 1.91l.95 1.91l.95 1.89l1 1.98l1 1.97l1 1.95l1 1.93l1 1.93l1 1.91l1 1.89l1 1.89l1 1.88l1 1.86l1 1.86l1.05 1.94l1.05 1.92l1.05 1.9l1.05 1.89l1.05 1.87l1.05 1.85l1.05 1.83l1.1 1.89l1.1 1.86l1.1 1.84l1.1 1.8l1.15 1.86l1.15 1.83l1.15 1.8l1.15 1.79l.5 .76l.25 .39l.24 .38h.01l.25 .34v.04l.23 .38h.02l.25 .31v.07l.22 .38h.03l.25 .28v.1l.2 .38h.05l.25 .26v.12l.19 .38h.06l.25 .23v.14l.18 .38h.07l.25 .21v.16l.17 .38h.08l.25 .2v.18l.16 .37h.09l.25 .18v.2l.15 .38h.1l.25 .18v.2l.15 .38h.1l.25 .17v.21l.14 .38h.11l.25 .17v.21l.14 .38h.11l.25 .16v.22l.14 .39h.11l.25 .16v.22l.13 .38h.12l.25 .15v.23l.13 .38h.12l.25 .15v.23l.13 .38h.12l.25 .14v.24l.12 .38h.13l.25 .14v.24l.12 .37h.13l.25 .13v.25l.12 .37h.13l.25 .13v.24l.11 .37h.14l.25 .13v.24l.11 .37h.14l.25 .12v.24l.11 .37h.14l.25 .12v.24l.1 .36h.15l.25 .11v.24l.1 .36h.15l.25 .11v.24l.1 .34h.15l.25 .11v.24l.1 .34h.15l.25 .1v.24l.09 .34h.16l.25 .1v.23l.09 .33h.16l.25 .1v.22l.09 .32h.16l.25 .1v.22l.09 .32h.16l.25 .09v.22l.09 .3h.16l.25 .09v.21l.09 .3h.16l.25 .09v.2l.08 .3h.17l.25 .08v.21l.08 .28h.17l.25 .08v.21l.08 .28h.17l.25 .08v.21l.08 .28h.17l.25 .08v.2l.08 .27h.17l.25 .08v.2l.08 .27h.17l.25 .08v.19l.07 .27h.18l.25 .08v.19l.07 .27h.18l.25 .07v.2l.07 .26h.18l.25 .07v.19l.07 .26h.18l.25 .07v.19l.07 .26h.18l.25 .07v.18l.07 .26h.18l.3 .08v.22l.08 .3h.22l.3 .08v.22l.08 .29h.22l.3 .08v.22l.07 .29h.23l.3 .07v.22l.07 .29h.23l.3 .07v.21l.07 .29h.23l.3 .07v.21l.07 .28h.23l.3 .07v.21l.07 .27h.23l.3 .07v.21l.07 .27h.23l.3 .07v.2l.07 .27h.23l.3 .06v.21l.07 .27h.23l.3 .06v.2l.06 .26h.24l.3 .06v.21l.07 .3h.28l.35 .07v.23l.07 .3h.28l.35 .07v.23l.07 .29h.28l.35 .07v.23l.07 .29h.28l.35 .07v.22l.07 .29h.28l.35 .07v.23l.07 .29h.28l.35 .07v.22l.07 .28h.28l.35 .07v.22l.07 .29h.28l.35 .07v.22l.07 .28h.28l.35 .07v.22l.07 .28h.28l.35 .07v.21l.07 .28h.28l.35 .07v.21l.07 .28h.28l.35 .07v.21l.07 .28h.28l.35 .07v.21l.07 .27h.28l.35 .07v.21l.07 .27h.28l.35 .07v.21l.07 .27h.28l.35 .06v.21l.07 .27h.28l.35 .06v.21l.07 .27h.28l.35 .06v.21l.06 .26h.29l.35 .06v.21l.06 .27h.29l.4 .07v.23l.07 .3h.33l.4 .07v.22l.06 .27h.29l.4 .07v.22l.07 .3h.33l.4 .07v.22l.07 .29h.33l.4 .07v.22l.07 .29h.33l.4 .07v.22l.07 .29h.33l.4 .07v.21l.07 .28h.33l.4 .07v.22l.07 .28h.33l.4 .06v.22l.07 .27h.33l.4 .06v.22l.07 .28h.33l.4 .06v.21l.07 .27h.33l.4 .06v.21l.06 .27h.34l.4 .06v.21l.07 .3h.38l.45 .07v.22l.07 .3h.38l.45 .07v.22l.07 .29h.38l.45 .07v.22l.07 .29h.38l.45 .06v.22l.07 .29h.38l.45 .06v.22l.07 .28h.38l.45 .06v.21l.07 .28h.38l.45 .06v.21l.07 .27h.38l.45 .06v.21l.07 .3h.43l.5 .07v.22l.07 .29h.43l.5 .07v.22l.07 .28h.43l.5 .06v.23l.07 .28h.43l.5 .06v.21l.07 .28h.43l.55 .07v.23l.07 .29h.48l.55 .07v.22l.07 .28h.48l.6 .07v.23l.07 .29h.53l.6 .07v.21l.07 .29h.53l.65 .07v.23l.07 .29h.58l.65 .07v.22l.07 .29h.58l.65 .06v.22l.07 .28h.58l.65 .06v.22l.07 .28h.58l.65 .06v.22l.07 .28h.58l.65 .06v.22l.07 .28h.58l.65 .06v.23l.07 .29h.58l.65 .06v.23l.07 .3h.58l.65 .06v.24l.07 .28h.53l.6 .06v.23l.07 .29h.53l.6 .06v.23l.06 .29h.54l.6 .06v.23l.07 .29h.53l.6 .06v.24l.07 .29h.53l.55 .06v.22l.06 .29h.54l.55 .06v.22l.06 .3h.54l.6 .06v.23l.06 .28h.49l.6 .06v.24l.06 .3h.54l.6 .06v.23l.06 .28h.49l.6 .06v.23l.06 .28h.49l.6 .06v.23l.06 .3h.54l.6 .06v.23l.06 .29h.54l.6 .06v.23l.06 .29h.54l.6 .06v.23l.06 .29h.54l.6 .05v.23l.06 .28h.54l.6 .05v.24l.06 .28h.54l.6 .05v.24l.06 .29h.54l.6 .05v.25l.06 .29h.54l.6 .05v.25l.06 .29h.54l.6 .05v.25l.06 .29h.54l.6 .05v.25l.06 .29h.54l.6 .05v.25l.05 .29h.55l.6 .05v.24l.05 .29h.55l.6 .05v.23l.05 .28h.55l.5 .04v.2l.04 .23h.46l.5 .04v.19l.04 .22h.46l.5 .04v.18l.04 .22h.46l.5 .04v.18l.04 .21h.46l.5 .04v.17l.04 .2h.46l.5 .04v.16l.04 .2h.46l.5 .03v.16l.03 .19h.47l.5 .03v.15l.03 .17h.47l.5 .03v.15l.03 .16h.47l.5 .03v.13l.03 .16h.47l.5 .03v.13l.03 .15h.47l.5 .03v.12l.06 .3h.94l1 .05v.24l.05 .28h.95l1 .05v.22l.05 .27h.95l1 .04v.22l.05 .25h.95l1 .04v.21l.04 .24h.96l1 .04v.2l.04 .24h.96l1 .04v.19l.04 .23h.96l1 .04v.18l.04 .23h.96l1 .03v.19l.04 .22h.96l1 .03v.18l.04 .22h.96l1 .03v.19l.04 .22h.96l1 .03v.19l.04 .22h.96l1 .03v.18l.03 .21h.97l1 .03v.18l.03 .2h.97l1 .03v.17l.03 .2h.97l1.5 .04v.26l.05 .29h1.45l1.5 .04v.25l.04 .29h1.46l1.5 .04v.24l.04 .28h1.46l1.5 .04v.24l.04 .28h1.46l1.5 .04v.24l.04 .29h1.46l1.5 .04v.24l.04 .28h1.46l1.5 .04v.25l.04 .28h1.46l1.5 .04v.25l.04 .28h1.46l1.5 .04v.24l.04 .28h1.46l1.5 .03v.25l.04 .28h1.46l1.5 .03v.25l.03 .27h1.47l1.5 .03v.25l.03 .27h1.47l1.5 .03v.23l.03 .27h1.47l1.5 .03v.23l.03 .26h1.47l1.5 .03v.22l.03 .25h1.47l1.5 .03v.21l.03 .24h1.47l1.5 .02v.22l.03 .23h1.47l1.5 .02v.22l.02 .23h1.48l1.5 .02v.21l.02 .24h1.48l1.5 .02v.22l.02 .24h1.48l1.5 .02v.22l.02 .25h1.48l1.5 .02v.23l.02 .26h1.48l1.5 .02v.25l.02 .28h1.48l1.5 .02v.26l.02 .28h1.48l1.5 .02v.26l.02 .27h1.48l1.5 .02v.24l.02 .24h1.48l1.5 .02v.21l.02 .3h1.98l2 .02v.27l.02 .27h1.98l2 .02v.25l.02 .25h1.98l2 .02v.22l.02 .29h2.48l2.5 .02v.24l.02 .26h2.48l3 .02v.27l.02 .27h2.98l3 .02v.25l.01 .27h2.99l3 .01v.25l.01 .27h2.99l3 .01v.28l.01 .29h2.99l2.5 .01v.25l.01 .26h2.49l2.5 .01v.26l.01 .28h2.49l2.5 .01v.26l.01 .28h2.49l2.5 .01v.26l.01 .26h2.49l2.5 .01v.25l.01 .26h2.49l2.5 .01v.25l.01 .25h2.49l2.5 .01v.25l.01 .26h2.49l2.5 .01v.24l.01 .26h2.49l2.5 .01v.25l.01 .25h2.49l2.5 .01v.24l.01 .26h2.49l3 .01v.29l.01 .25h2.49l3 .01v.29l.01 .3h2.99l3 .01v.28l.01 .3h2.99l3 .01v.28l.01 .29h2.99l3 .01v.27l.01 .29h2.99l3 .01v.27l.01 .27h2.99l3 .01v.27l.01 .27h2.99l3 .01v.25l.01 .27h2.99l3.5 .01v.29l.01 .29h3.49l3.5 .01v.28l.01 .29h3.49l3.5 .01v.27l.01 .28h3.49h3.5v.27v.28h3.5h3.5v.27v.3h4h4v.3v.29h4h4v.3v.29h4h4v.28v.29h4h4v.28v.28h4h4v.28v.27h4h4v.27v.28h4h4.5v.3v.27h4h4.5v.3v.3h4.5h4.5v.3v.3h4.5h4.5v.3v.3h4.5h4.5v.3v.3h4.5h4.5v.3v.27h4h4v.27v.3h4.5h4v.27v.27h4h4.5v.3v.3h4.5h4.5v.3v.29h4.5h4.5v.3v.29h4.5h4.5v.29v.29h4.5h4.5v.28v.28h4.5h4.5v.28v.27h4.5h5v.3v.29h5h5v.28v.28h5h5.5v.29v.29h5.5h5.5v.28v.29h6h6v.28v.28h6h6.5v.29v.29h6.5h7v.3v.29h7h7v.29v.28h7h7v.28v.28h7h7v.28v.28h7h7v.28v.29h7h7v.29v.29h7h7v.29v.3h7h7v.29v.3h7h7v.29v.3h7h7v.29v.29h7h7v.28v.28h7h7v.28v.27h7h7v.27v.26h7h7v.26v.25h7h7v.25v.25h7h7v.24v.24h7h7v.24v.24h7h7v.24v.24h7h7v.23v.24h7h7v.24v.24h7h7v.23v.24h7h7v.24v.24h7h7v.24v.24h7h7v.23v.24h7h7v.23v.24h7h7v.24v.23h7h7v.24v.23h7h7v.24v.24h7h7v.24v.24h7h7v.24v.25h7h7v.24v.24h7h7v.25v.24h7h7v.25v.24h7h7v.25v.25h7h5.8v.2"/>
<path stroke="#ff8000" stroke-dasharray="43 20.6" stroke-dashoffset="0" d="M187.8 1621.4l.5 2.4l.5 2.37l.5 2.32l.5 2.29l.5 2.25l.5 2.21l.5 2.17l.55 2.34l.55 2.29l.55 2.25l.55 2.19l.55 2.15l.6 2.28l.6 2.23l.6 2.16l.6 2.1l.65 2.21l.65 2.12l.7 2.16l.7 2.05l.75 2.1l.75 2.03l.8 2.12l.8 2.12l.75 2.01l.75 2.07l.75 2.14l.75 2.17l.7 2.04l.7 2.05l.7 2.06l.7 2.08l.7 2.07l.7 2.09l.7 2.08l.7 2.09l.7 2.08l.7 2.08l.7 2.07l.7 2.07l.7 2.05l.7 2.05l.75 2.17l.75 2.16l.75 2.13l.75 2.13l.75 2.15l.75 2.13l.75 2.08l.8 2.13l.8 2l.85 2.05l.85 2.02l.85 2l.85 1.97l.9 2.06l.9 2.03l.9 1.99l.9 1.97l.9 1.93l.95 2l.95 1.96l.95 1.91l1 1.98l1 1.93l1 1.88l.35 .64l.25 .46l.24 .46h.01l.25 .4v.05l.23 .45h.02l.25 .35v.09l.22 .44h.03l.25 .32v.12l.21 .44h.04l.25 .28v.15l.19 .43h.06l.25 .25v.17l.18 .43h.07l.25 .23v.18l.17 .42h.08l.25 .21v.2l.16 .41h.09l.25 .19v.22l.15 .4h.1l.25 .18v.23l.15 .4h.1l.25 .18v.22l.14 .4h.11l.25 .17v.23l.14 .4h.11l.25 .17v.23l.14 .39h.11l.25 .16v.24l.13 .39h.12l.25 .15v.24l.13 .39h.12l.25 .15v.24l.13 .39h.12l.25 .14v.24l.12 .39h.13l.25 .14v.24l.12 .38h.13l.25 .13v.25l.12 .37h.13l.25 .13v.25l.11 .37h.14l.25 .12v.25l.11 .37h.14l.25 .12v.24l.11 .37h.14l.25 .12v.24l.1 .36h.15l.25 .11v.25l.1 .35h.15l.25 .11v.25l.1 .35h.15l.25 .1v.25l.1 .34h.15l.25 .1v.25l.09 .34h.16l.25 .1v.24l.09 .33h.16l.25 .1v.24l.09 .33h.16l.25 .1v.22l.09 .33h.16l.25 .09v.23l.09 .32h.16l.25 .09v.23l.09 .31h.16l.25 .09v.22l.09 .31h.16l.25 .09v.22l.08 .3h.17l.25 .08v.22l.08 .29h.17l.25 .08v.21l.08 .29h.17l.25 .08v.21l.08 .28h.17l.25 .08v.2l.08 .28h.17l.25 .08v.19l.07 .27h.18l.25 .07v.19l.07 .26h.18l.25 .07v.19l.07 .26h.18l.3 .08v.22l.08 .29h.22l.3 .08v.21l.08 .28h.22l.3 .08v.2l.08 .28h.22l.3 .07v.2l.07 .27h.23l.3 .07v.2l.07 .26h.23l.3 .07v.19l.07 .26h.23l.3 .07v.19l.08 .3h.27l.35 .08v.21l.08 .29h.27l.35 .07v.22l.07 .28h.28l.35 .07v.21l.07 .28h.28l.35 .07v.2l.07 .27h.28l.35 .07v.2l.07 .27h.28l.35 .07v.19l.07 .26h.28l.4 .08v.22l.08 .29h.32l.4 .07v.22l.08 .29h.32l.4 .07v.21l.08 .28h.32l.4 .07v.2l.07 .28h.33l.4 .07v.2l.07 .27h.33l.45 .08v.22l.08 .3h.37l.45 .07v.22l.08 .29h.37l.45 .07v.22l.08 .28h.37l.45 .07v.22l.08 .28h.37l.45 .07v.21l.08 .27h.37l.45 .07v.21l.07 .27h.38l.45 .07v.2l.07 .27h.38l.45 .07v.2l.08 .3h.42l.5 .07v.22l.08 .3h.42l.5 .07v.22l.08 .29h.42l.5 .07v.22l.08 .3h.42l.5 .07v.22l.08 .29h.42l.5 .07v.22l.08 .29h.42l.5 .07v.22l.08 .29h.42l.5 .07v.22l.08 .29h.42l.5 .07v.23l.08 .29h.42l.5 .07v.23l.08 .3h.42l.5 .07v.23l.08 .3h.42l.45 .06v.21l.07 .27h.38l.45 .07v.21l.07 .28h.38l.45 .07v.21l.07 .28h.38l.45 .07v.22l.07 .29h.38l.45 .07v.22l.07 .29h.38l.45 .07v.23l.07 .29h.38l.4 .06v.21l.06 .27h.34l.4 .06v.22l.06 .27h.34l.4 .06v.21l.06 .28h.34l.4 .06v.22l.06 .28h.34l.4 .06v.22l.06 .28h.34l.4 .06v.22l.06 .28h.34l.4 .06v.22l.06 .28h.34l.4 .06v.23l.06 .28h.34l.4 .06v.23l.06 .28h.34l.4 .06v.23l.06 .28h.34l.4 .06v.22l.06 .29h.34l.4 .06v.22l.06 .29h.34l.4 .06v.22l.06 .28h.34l.4 .06v.22l.06 .29h.34l.4 .06v.22l.06 .28h.34l.4 .06v.22l.06 .27h.34l.4 .06v.22l.06 .28h.34l.4 .06v.21l.06 .27h.34l.4 .06v.21l.06 .27h.34l.4 .06v.21l.06 .27h.34l.45 .06v.24l.06 .29h.39l.45 .06v.23l.06 .29h.39l.45 .06v.23l.06 .29h.39l.45 .06v.22l.06 .27h.39l.45 .06v.22l.07 .3h.43l.5 .06v.24l.06 .3h.44l.5 .06v.23l.06 .3h.44l.5 .06v.23l.06 .29h.44l.5 .06v.23l.06 .29h.44l.5 .06v.22l.06 .29h.44l.5 .06v.22l.06 .28h.44l.5 .06v.22l.06 .28h.44l.5 .06v.22l.06 .28h.44l.55 .06v.24l.06 .29h.49l.5 .06v.21l.06 .3h.49l.55 .06v.23l.06 .29h.49l.55 .06v.23l.06 .29h.49l.55 .06v.22l.06 .29h.49l.55 .06v.22l.06 .3h.54l.6 .06v.24l.06 .3h.54l.6 .06v.23l.06 .3h.54l.6 .06v.23l.06 .28h.54l.6 .06v.23l.06 .28h.54l.6 .05v.23l.06 .3h.59l.65 .06v.24l.06 .29h.59l.65 .06v.23l.06 .29h.59l.65 .06v.23l.06 .29h.59l.7 .06v.24l.06 .28h.59l.7 .06v.24l.06 .3h.64l.7 .05v.24l.06 .29h.64l.7 .05v.24l.06 .29h.64l.7 .05v.23l.06 .29h.64l.75 .05v.25l.05 .23h.55l.5 .04v.16l.04 .2h.46l.5 .04v.16l.04 .19h.46l.5 .04v.16l.04 .19h.46l.5 .03v.16l.04 .19h.46l.5 .03v.16l.04 .19h.46l.5 .03v.16l.04 .19h.46l.5 .03v.16l.03 .19h.47l.5 .03v.15l.03 .19h.47l.5 .03v.16l.03 .18h.47l.5 .03v.16l.03 .18h.47l.5 .03v.16l.03 .18h.47l.5 .03v.16l.03 .19h.47l.5 .03v.15l.03 .19h.47l.5 .03v.15l.03 .18h.47l.5 .03v.15l.03 .18h.47l.5 .03v.15l.03 .17h.47l.5 .03v.14l.03 .17h.47l.5 .03v.14l.03 .16h.47l.5 .03v.12l.03 .16h.47l1 .05v.24l.05 .27h.95l1 .04v.21l.04 .25h.96l1 .04v.19l.04 .22h.96l1 .03v.18l.04 .21h.96l1.5 .05v.25l.05 .29h1.45l1.5 .04v.24l.05 .28h1.45l1.5 .04v.24l.04 .27h1.46l1.5 .04v.21l.04 .24h1.46l1.5 .04v.21l.04 .25h1.46l1.5 .04v.22l.04 .28h1.46l1.5 .04v.26l.03 .21h.97l1 .03v.19l.03 .22h.97l1 .03v.19l.03 .23h.97l1 .03v.19l.03 .22h.97l1 .03v.19l.03 .22h.97l1.5 .04v.26l.04 .29h1.46l1.5 .04v.25l.04 .29h1.46l1.5 .03v.24l.04 .28h1.46l1.5 .03v.24l.03 .27h1.47l1.5 .03v.23l.03 .26h1.47l1.5 .03v.22l.03 .24h1.47l1.5 .03v.22l.03 .24h1.47l1.5 .03v.21l.03 .25h1.47l1.5 .03v.22l.03 .26h1.47l1.5 .03v.24l.03 .29h1.47h.3h-.3h.3h-.3h.3h-.3h.3h-.3h.3h-.3h.3h-.3h.3h-.3h.3h-.3h.3h-.3h.3h-.3h.3h-.3h.3h-.3h.3h-.3h.3h-.3h.3h-.3h.3h-.3h.3h-.3h.3h-.3h.3h-.3h.3h-.3h.3h-.3h.3h-.3h.3h-.3h.3h-.3h.3h-.3h.3h-.3h.3h-.3h.3h-.3h.3h-.3h.3h-.3h.3h-.3h.3h-.3h.3h-.3h.3h-.3h.3h-.3h.3h-.3h.3h-.3h.3h-.3h.3h-.3h.3h-.3h.3h-.3h.3h-.3h.3h-.3h.3h-.3h.3h-.3h.3h-.3h.3h-.3h.3h-.3h.3h-.3h.3h-.3h.3h-.3h.3h-.3h.3h-.3h.3h-.3h.3h-.3h.3h-.3h.3h-.3h.3h-.3h.3h-.3h.3h-.3h.3h-.3h.3h-.3h.3h-.3h.3h-.3h.3h-.3h.3h-.3h.3h-.3h.3h-.3h.3h-.3h.3h-.3h.3h-.3h.3h-.3h.3h-.3h.3h-.3h.3h-.3h.3h-.3h.3h-.3h.3h-.3h.3h-.3h.3h-.3h.3h-.3h.3h-.3h.3h-.3h.3h-.3h.3h-.3h.3h-.3h.3h-.3h.3h-.3h.3h-.3h.3h-.3h.3h-.3h.3h-.3h.3h-.3h.3h-.3h.3h-.3h.3h-.3h.3h-.3h.3h-.3h.3h-.3h.3h-.3l1.5 .03v.27l.03 .29h1.47l1.5 .03v.25l.03 .27h1.47l1.5 .02v.21l.03 .27h1.97l2.5 .03v.26l.03 .27h2.47l2.5 .03v.24l.03 .28h2.47l2 .02v.23l.02 .26h1.98l2 .02v.24l.02 .27h1.98l2 .02v.25l.02 .27h1.98l2 .02v.25l.02 .27h1.98l2 .02v.26l.02 .29h1.98l2 .02v.26l.02 .27h1.98l2 .02v.24l.02 .3h2.48l2.5 .02v.25l.02 .26h2.48l3 .02v.27l.02 .28h2.98l3 .02v.25l.02 .27h2.98l3 .01v.25l.01 .27h2.99l3 .01v.27l.01 .29h2.99l2.5 .01v.24l.01 .27h2.49l2.5 .01v.25l.01 .28h2.49l2.5 .01v.26l.01 .28h2.49l2.5 .01v.26l.01 .27h2.49l2.5 .01v.25l.01 .26h2.49l2.5 .01v.24l.01 .26h2.49l2.5 .01v.25l.01 .25h2.49l2.5 .01v.25l.01 .26h2.49l2.5 .01v.24l.01 .26h2.49l2.5 .01v.24l.01 .26h2.49l3 .01v.29l.01 .25h2.49l2.5 .01v.24l.01 .3h2.99l3 .01v.29l.01 .29h2.99l3 .01v.28l.01 .29h2.99l3 .01v.28l.01 .29h2.99l3 .01v.27l.01 .28h2.99l3 .01v.26l.01 .27h2.99l3 .01v.26l.01 .27h2.99l3.5 .01v.29l.01 .3h3.49l3.5 .01v.28l.01 .29h3.49l3.5 .01v.27l.01 .28h3.49h3.5v.28v.27h3.5h3.5v.27v.27h3.5h4v.3v.3h4h4v.29v.29h4h4v.29v.29h4h4v.28v.28h4h4v.28v.27h4h4v.28v.27h4h4v.27v.27h4h4v.27v.3h4.5h4.5v.3v.3h4.5h4.5v.3v.3h4.5h4.5v.3v.3h4.5h4.5v.3v.3h4.5h4v.27v.27h4h4v.27v.3h4.5h4v.27v.3h4.5h4.5v.3v.3h4.5h4.5v.29v.3h4.5h4.5v.29v.29h4.5h4.5v.28v.29h4.5h4.5v.28v.27h4.5h4.5v.27v.3h5h5v.28v.29h5h5.5v.3v.29h5.5h5.5v.28v.3h6h6v.29v.28h6h6.5v.3v.28h6.5h6.5v.29v.29h7h7v.29v.29h7h7v.28v.28h7h7v.28v.28h7h7v.28v.28h7h7v.29v.29h7h7v.29v.3h7h7v.29v.28h6.5h7v.29v.3h7h7v.29v.29h7h7v.29v.28h7h7v.28v.28h7h7v.27v.26h7h7v.26v.26h7h7v.25v.25h7h7v.25v.24h7h7v.24v.24h7h7v.24v.24h7h7v.23v.24h7h7v.24v.23h7h7v.24v.24h7h7v.24v.24h7h7v.24v.23h7h7v.24v.24h7h7v.23v.24h7h7v.23v.24h7h7v.24v.23h7h7v.24v.24h7h7v.24v.24h7h7v.24v.24h7h7v.24v.25h7h7v.24v.24h7h7v.25v.24h7h7v.25v.25h7h7v.24v.12h3.3"/>
<path stroke="#c0c000" stroke-dasharray="32.3 17.2" stroke-dashoffset="0" d="M187.8 1582.9l.5 2.32l.5 2.34l.5 2.37l.5 2.41l.5 2.42l.45 2.21l.45 2.23l.45 2.24l.45 2.26l.45 2.28l.45 2.29l.45 2.31l.45 2.32l.45 2.34l.45 2.39l.45 2.48l.45 2.52l.45 2.52l.45 2.48l.45 2.4l.45 2.26l.5 2.44l.5 2.39l.5 2.35l.5 2.31l.5 2.27l.5 2.23l.5 2.2l.5 2.17l.55 2.35l.55 2.32l.55 2.29l.55 2.25l.55 2.23l.55 2.21l.55 2.16l.6 2.29l.6 2.23l.6 2.2l.6 2.17l.6 2.16l.6 2.18l.6 2.2l.6 2.22l.6 2.24l.6 2.25l.6 2.25l.6 2.24l.6 2.24l.6 2.22l.6 2.18l.6 2.16l.6 2.12l.65 2.23l.65 2.18l.65 2.1l.7 2.21l.7 2.18l.7 2.14l.7 2.12l.7 2.09l.7 2.06l.75 2.17l.75 2.14l.75 2.12l.75 2.08l.75 2.05l.75 2.03l.8 2.13l.8 2.11l.8 2.08l.8 2.05l.8 2.02l.8 2l.8 1.99l.8 2l.8 1.99l.8 1.98l.85 2.09l.85 2.07l.1 .24l.25 .6l.24 .6h.01l.25 .51v.08l.23 .59h.02l.25 .44v.15l.22 .58h.03l.25 .39v.19l.21 .58h.04l.25 .34v.23l.2 .57h.05l.25 .3v.26l.19 .55h.06l.25 .27v.29l.18 .54h.07l.25 .24v.3l.16 .54h.09l.25 .22v.31l.16 .52h.09l.25 .21v.31l.15 .51h.1l.25 .2v.3l.15 .5h.1l.25 .19v.3l.15 .48h.1l.25 .18v.3l.14 .47h.11l.25 .17v.29l.14 .45h.11l.25 .16v.28l.13 .44h.12l.25 .16v.27l.13 .41h.12l.25 .15v.27l.13 .4h.12l.25 .14v.27l.12 .41h.13l.25 .14v.26l.12 .4h.13l.25 .13v.27l.12 .39h.13l.25 .13v.27l.11 .39h.14l.25 .12v.27l.11 .39h.14l.25 .12v.26l.11 .39h.14l.25 .11v.27l.1 .38h.15l.25 .11v.26l.1 .38h.15l.25 .11v.26l.1 .37h.15l.25 .11v.26l.1 .36h.15l.25 .1v.26l.1 .36h.15l.25 .1v.26l.09 .36h.16l.25 .1v.25l.09 .35h.16l.25 .1v.25l.09 .34h.16l.25 .1v.24l.09 .34h.16l.25 .09v.25l.09 .33h.16l.25 .09v.25l.08 .32h.17l.25 .09v.24l.08 .32h.17l.25 .09v.23l.08 .32h.17l.25 .09v.23l.08 .31h.17l.25 .08v.23l.08 .3h.17l.25 .08v.23l.08 .3h.17l.25 .08v.22l.08 .29h.17l.25 .08v.21l.07 .29h.18l.25 .07v.22l.07 .28h.18l.25 .07v.21l.07 .27h.18l.25 .07v.21l.07 .27h.18l.25 .07v.19l.07 .27h.18l.25 .07v.19l.07 .25h.18l.25 .07v.19l.08 .3h.22l.3 .07v.22l.07 .3h.23l.3 .07v.21l.07 .28h.23l.3 .07v.21l.07 .27h.23l.3 .07v.2l.08 .3h.27l.35 .07v.23l.07 .29h.28l.35 .07v.21l.07 .28h.28l.35 .07v.2l.07 .27h.28l.4 .08v.21l.08 .29h.32l.4 .07v.22l.08 .28h.32l.4 .07v.2l.07 .27h.33l.45 .08v.22l.08 .28h.37l.45 .08v.21l.08 .27h.37l.45 .07v.2l.08 .27h.37l.5 .08v.21l.08 .29h.42l.5 .07v.21l.09 .3h.46l.55 .08v.21l.09 .3h.46l.55 .08v.21l.08 .28h.47l.55 .08v.21l.08 .28h.47l.55 .07v.21l.08 .28h.47l.55 .07v.21l.08 .28h.47l.55 .07v.21l.08 .28h.47l.55 .07v.22l.08 .28h.47l.55 .08v.21l.08 .3h.47l.55 .08v.22l.07 .28h.43l.5 .07v.21l.08 .28h.42l.5 .07v.23l.08 .29h.42l.45 .07v.21l.07 .28h.38l.45 .07v.21l.07 .28h.38l.45 .07v.22l.07 .29h.38l.45 .07v.22l.07 .29h.38l.45 .07v.23l.07 .29h.38l.45 .07v.23l.07 .3h.38l.4 .06v.21l.07 .3h.38l.4 .06v.21l.06 .27h.34l.4 .06v.21l.06 .27h.34l.4 .06v.22l.06 .27h.34l.4 .06v.21l.06 .28h.34l.4 .06v.21l.06 .28h.34l.4 .06v.21l.06 .28h.34l.4 .06v.21l.06 .28h.34l.4 .06v.21l.06 .28h.34l.4 .06v.21l.06 .28h.34l.4 .06v.21l.06 .28h.34l.4 .06v.21l.06 .27h.34l.4 .06v.21l.06 .27h.34l.4 .06v.21l.06 .27h.34l.4 .06v.21l.06 .27h.34l.45 .06v.24l.07 .29h.38l.45 .06v.24l.07 .29h.38l.45 .06v.23l.07 .29h.38l.45 .06v.23l.06 .29h.39l.45 .06v.22l.06 .28h.39l.45 .06v.21l.06 .28h.39l.45 .06v.21l.07 .3h.43l.5 .06v.23l.07 .29h.43l.5 .06v.23l.07 .29h.43l.5 .06v.23l.06 .28h.44l.5 .06v.23l.06 .28h.44l.5 .06v.22l.06 .29h.44l.5 .06v.21l.06 .28h.44l.5 .06v.22l.06 .28h.44l.55 .06v.24l.07 .3h.48l.55 .06v.24l.06 .29h.49l.55 .06v.24l.06 .29h.49l.55 .06v.23l.06 .29h.49l.55 .06v.23l.06 .29h.49l.55 .06v.22l.06 .29h.49l.55 .06v.22l.06 .28h.49l.55 .06v.22l.07 .3h.53l.6 .06v.24l.06 .3h.54l.6 .06v.23l.06 .3h.54l.6 .06v.23l.06 .29h.54l.6 .06v.22l.06 .29h.54l.6 .06v.22l.06 .28h.54l.6 .06v.22l.06 .28h.54l.65 .06v.24l.06 .3h.59l.6 .05v.23l.06 .28h.54l.6 .05v.23l.06 .28h.54l.6 .05v.24l.06 .28h.54l.6 .05v.23l.06 .28h.54l.6 .05v.23l.06 .28h.54l.6 .05v.23l.06 .3h.59l.65 .05v.24l.06 .29h.59l.65 .05v.24l.06 .28h.59l.65 .05v.23l.06 .29h.64l.7 .05v.24l.06 .28h.64l.75 .05v.25l.03 .15h.37l.5 .03v.15l.04 .18h.46l.5 .03v.15l.03 .17h.47l.5 .03v.14l.03 .16h.47l.5 .03v.13l.06 .29h.94l1 .05v.22l.05 .25h.95l1 .04v.19l.04 .21h.96l1.5 .05v.24l.05 .26h1.45l1.5 .05v.2l.05 .24h1.45l1.5 .04v.2l.05 .24h1.45l1.5 .04v.21l.05 .27h1.45l1.5 .05v.25l.04 .2h.96l1 .03v.18l.04 .22h.96l1 .03v.19l.04 .21h.96l1 .04v.18l.04 .22h.96l1 .03v.18l.04 .21h.96l1 .03v.18l.05 .29h1.45l1.5 .04v.23l.04 .26h1.46l1.5 .04v.21l.04 .25h1.46l1.5 .04v.2l.04 .26h1.46l1.5 .04v.22l.04 .29h1.46l1 .03v.17l.03 .21h.97l1 .03v.19l.03 .22h.97l1 .03v.19l.03 .23h.97l1 .03v.19l.03 .22h.97l1 .03v.19l.03 .22h.97l1.5 .04v.26l.04 .29h1.46l1.5 .04v.25l.04 .29h1.46l1.5 .03v.24l.04 .28h1.46l1.5 .03v.24l.03 .27h1.47l1.5 .03v.23l.03 .26h1.47l1.5 .03v.22l.03 .24h1.47l1.5 .03v.22l.03 .24h1.47l1.5 .03v.21l.03 .25h1.47l1.5 .03v.22l.03 .26h1.47l1.5 .03v.24l.03 .29h1.47h.3h-.3h.3h-.3h.3h-.3h.3h-.3h.3h-.3h.3h-.3h.3h-.3h.3h-.3h.3h-.3h.3h-.3h.3h-.3h.3h-.3h.3h-.3h.3h-.3h.3h-.3h.3h-.3h.3h-.3h.3h-.3h.3h-.3h.3h-.3h.3h-.3h.3h-.3h.3h-.3h.3h-.3h.3h-.3h.3h-.3h.3h-.3h.3h-.3h.3h-.3h.3h-.3h.3h-.3h.3h-.3h.3h-.3h.3h-.3h.3h-.3h.3h-.3h.3h-.3h.3h-.3h.3h-.3h.3h-.3h.3h-.3h.3h-.3h.3h-.3h.3h-.3h.3h-.3h.3h-.3h.3h-.3h.3h-.3h.3h-.3h.3h-.3h.3h-.3h.3h-.3h.3h-.3h.3h-.3h.3h-.3h.3h-.3h.3h-.3h.3h-.3h.3h-.3h.3h-.3h.3h-.3h.3h-.3h.3h-.3h.3h-.3h.3h-.3h.3h-.3h.3h-.3h.3h-.3h.3h-.3h.3h-.3h.3h-.3h.3h-.3h.3h-.3h.3h-.3h.3h-.3h.3h-.3l1.5 .03v.27l.03 .29h1.47l1.5 .03v.25l.03 .27h1.47l1.5 .02v.21l.03 .27h1.97l2.5 .03v.26l.03 .27h2.47l2.5 .03v.24l.03 .28h2.47l2 .02v.23l.02 .26h1.98l2 .02v.24l.02 .27h1.98l2 .02v.25l.02 .27h1.98l2 .02v.25l.02 .27h1.98l2 .02v.26l.02 .29h1.98l2 .02v.26l.02 .27h1.98l2 .02v.24l.02 .3h2.48l2.5 .02v.25l.02 .26h2.48l3 .02v.27l.02 .28h2.98l3 .02v.25l.02 .27h2.98l3 .01v.25l.01 .27h2.99l3 .01v.27l.01 .29h2.99l2.5 .01v.24l.01 .27h2.49l2.5 .01v.25l.01 .28h2.49l2.5 .01v.26l.01 .28h2.49l2.5 .01v.26l.01 .27h2.49l2.5 .01v.25l.01 .26h2.49l2.5 .01v.24l.01 .26h2.49l2.5 .01v.25l.01 .25h2.49l2.5 .01v.25l.01 .26h2.49l2.5 .01v.24l.01 .26h2.49l2.5 .01v.24l.01 .26h2.49l3 .01v.29l.01 .25h2.49l2.5 .01v.24l.01 .3h2.99l3 .01v.29l.01 .29h2.99l3 .01v.28l.01 .29h2.99l3 .01v.28l.01 .29h2.99l3 .01v.27l.01 .28h2.99l3 .01v.26l.01 .27h2.99l3 .01v.26l.01 .27h2.99l3.5 .01v.29l.01 .3h3.49l3.5 .01v.28l.01 .29h3.49l3.5 .01v.27l.01 .28h3.49h3.5v.28v.27h3.5h3.5v.27v.27h3.5h4v.3v.3h4h4v.29v.29h4h4v.29v.29h4h4v.28v.28h4h4v.28v.27h4h4v.28v.27h4h4v.27v.27h4h4v.27v.3h4.5h4.5v.3v.3h4.5h4.5v.3v.3h4.5h4.5v.3v.3h4.5h4.5v.3v.3h4.5h4v.27v.27h4h4v.27v.3h4.5h4v.27v.3h4.5h4.5v.3v.3h4.5h4.5v.29v.3h4.5h4.5v.29v.29h4.5h4.5v.28v.29h4.5h4.5v.28v.27h4.5h4.5v.27v.3h5h5v.28v.29h5h5.5v.3v.29h5.5h5.5v.28v.3h6h6v.29v.28h6h6.5v.3v.28h6.5h6.5v.29v.29h7h7v.29v.29h7h7v.28v.28h7h7v.28v.28h7h7v.28v.28h7h7v.29v.29h7h7v.29v.3h7h7v.29v.28h6.5h7v.29v.3h7h7v.29v.29h7h7v.29v.28h7h7v.28v.28h7h7v.27v.26h7h7v.26v.26h7h7v.25v.25h7h7v.25v.24h7h7v.24v.24h7h7v.24v.24h7h7v.23v.24h7h7v.24v.23h7h7v.24v.24h7h7v.24v.24h7h7v.24v.23h7h7v.24v.24h7h7v.23v.24h7h7v.23v.24h7h7v.24v.23h7h7v.24v.24h7h7v.24v.24h7h7v.24v.24h7h7v.24v.25h7h7v.24v.24h7h7v.25v.24h7h7v.25v.25h7h7v.24v.12h3.3"/>
<path stroke="#008000" stroke-dasharray="21.8 13.2" stroke-dashoffset="0" d="M187.8 1549.6l.3 2.56l.3 2.48l.3 2.42l.35 2.72l.35 2.61l.35 2.49l.35 2.37l.4 2.54l.4 2.36l.45 2.41l.45 2.22l.5 2.35l.5 2.33l.5 2.43l.45 2.32l.45 2.37l.45 2.41l.45 2.43l.45 2.44l.45 2.45l.45 2.43l.45 2.41l.45 2.39l.45 2.34l.45 2.3l.45 2.29l.45 2.3l.45 2.32l.45 2.38l.45 2.44l.45 2.5l.4 2.26l.4 2.27l.4 2.28l.4 2.27l.45 2.52l.45 2.47l.45 2.4l.45 2.33l.45 2.29l.45 2.25l.45 2.21l.5 2.4l.5 2.34l.5 2.28l.5 2.21l.55 2.37l.55 2.33l.55 2.31l.55 2.31l.55 2.33l.55 2.36l.5 2.2l.5 2.27l.5 2.32l.5 2.35l.5 2.33l.5 2.27l.5 2.19l.55 2.33l.55 2.29l.55 2.25l.55 2.22l.55 2.18l.55 2.16l.55 2.14l.6 2.31l.6 2.3l.6 2.28l.6 2.25l.6 2.22l.6 2.19l.6 2.15l.6 2.13l.6 2.11l.6 2.1l.65 2.26l.65 2.24l.65 2.21l.65 2.18l.65 2.13l.65 2.09l.7 2.19l.7 2.11l.7 2.05l.75 2.13l.75 2.08l.75 2.04l.75 2.01l.8 2.14l.8 2.13l.8 2.1l.25 .66l.25 .65l.24 .65h.01l.25 .55v.1l.23 .64h.02l.25 .47v.18l.22 .64h.03l.25 .41v.22l.21 .63h.04l.25 .36v.27l.2 .63h.05l.25 .32v.3l.19 .62h.06l.25 .28v.33l.18 .61h.07l.25 .25v.35l.17 .6h.08l.25 .23v.37l.16 .59h.09l.25 .22v.36l.16 .58h.09l.25 .21v.37l.15 .58h.1l.25 .2v.38l.15 .58h.1l.25 .2v.37l.15 .58h.1l.25 .19v.38l.14 .57h.11l.25 .18v.38l.14 .56h.11l.25 .18v.37l.13 .54h.12l.25 .17v.37l.13 .52h.12l.25 .16v.35l.13 .5h.12l.25 .15v.34l.12 .47h.13l.25 .14v.32l.12 .45h.13l.25 .13v.29l.11 .43h.14l.25 .13v.28l.11 .42h.14l.25 .12v.29l.11 .42h.14l.25 .12v.29l.1 .4h.15l.25 .11v.3l.1 .4h.15l.25 .11v.28l.1 .4h.15l.25 .11v.28l.1 .38h.15l.25 .11v.28l.1 .38h.15l.25 .1v.27l.09 .37h.16l.25 .1v.27l.09 .36h.16l.25 .1v.26l.09 .35h.16l.25 .1v.25l.09 .34h.16l.25 .09v.25l.09 .33h.16l.25 .09v.24l.08 .32h.17l.25 .09v.22l.08 .31h.17l.25 .08v.22l.08 .3h.17l.25 .08v.21l.08 .29h.17l.25 .08v.19l.08 .27h.17l.25 .08v.19l.07 .25h.18l.25 .07v.18l.08 .29h.22l.3 .08v.2l.08 .27h.22l.35 .09v.21l.09 .28h.26l.35 .08v.19l.09 .29h.31l.4 .08v.2l.09 .27h.31l.45 .09v.2l.09 .27h.36l.5 .09v.2l.09 .28h.41l.55 .09v.21l.09 .28h.46l.55 .08v.2l.09 .28h.46l.6 .09v.21l.09 .3h.51l.55 .08v.2l.09 .29h.46l.55 .08v.22l.08 .28h.42l.5 .08v.21l.08 .29h.42l.5 .08v.21l.08 .28h.42l.5 .08v.21l.08 .28h.42l.5 .08v.2l.08 .29h.42l.5 .08v.2l.08 .29h.42l.5 .07v.21l.08 .29h.42l.5 .07v.21l.08 .29h.42l.5 .08v.21l.08 .29h.42l.5 .08v.22l.08 .29h.42l.5 .08v.22l.08 .3h.42l.45 .07v.2l.07 .28h.38l.45 .07v.21l.07 .28h.38l.45 .07v.21l.07 .29h.38l.45 .07v.22l.07 .29h.38l.4 .06v.21l.07 .27h.33l.4 .07v.21l.07 .29h.33l.4 .07v.22l.06 .27h.29l.4 .07v.23l.06 .27h.29l.35 .06v.2l.06 .27h.29l.35 .06v.22l.06 .27h.29l.35 .06v.21l.06 .26h.29l.35 .06v.21l.06 .26h.29l.35 .06v.2l.07 .3h.33l.4 .06v.22l.07 .28h.33l.4 .06v.21l.07 .3h.38l.45 .07v.21l.07 .28h.38l.45 .07v.21l.07 .27h.38l.45 .06v.21l.07 .3h.43l.5 .07v.22l.07 .29h.43l.5 .07v.21l.07 .28h.43l.5 .07v.21l.07 .27h.43l.5 .06v.21l.07 .27h.43l.55 .07v.23l.07 .29h.48l.55 .07v.22l.07 .29h.48l.55 .07v.22l.07 .29h.48l.55 .07v.22l.07 .29h.48l.55 .07v.22l.07 .29h.48l.55 .07v.22l.07 .29h.48l.55 .07v.23l.07 .29h.48l.55 .07v.23l.07 .29h.48l.55 .07v.23l.07 .29h.48l.55 .06v.23l.07 .29h.48l.55 .06v.23l.07 .29h.48l.55 .06v.23l.07 .29h.48l.55 .06v.23l.07 .28h.48l.55 .06v.23l.07 .29h.48l.55 .06v.23l.07 .29h.48l.55 .06v.23l.07 .29h.48l.55 .06v.23l.07 .29h.48l.55 .06v.24l.07 .29h.48l.5 .06v.21l.06 .28h.44l.55 .06v.24l.07 .3h.48l.55 .06v.24l.06 .27h.44l.5 .06v.22l.06 .27h.44l.5 .06v.22l.06 .27h.44l.5 .06v.22l.06 .3h.49l.55 .06v.24l.06 .3h.49l.55 .06v.24l.06 .29h.49l.55 .06v.24l.06 .29h.49l.55 .06v.23l.06 .29h.49l.55 .06v.22l.06 .28h.49l.55 .06v.22l.06 .28h.49l.6 .06v.24l.06 .29h.54l.6 .06v.23l.06 .28h.54l.6 .06v.22l.06 .28h.54l.6 .05v.23l.06 .28h.54l.6 .05v.23l.06 .28h.54l.6 .05v.23l.06 .28h.54l.6 .05v.23l.06 .3h.59l.65 .06v.23l.06 .28h.54l.65 .05v.24l.06 .29h.59l.65 .05v.24l.06 .28h.59l.65 .05v.24l.06 .3h.64l.7 .05v.24l.06 .29h.64l.7 .05v.24l.06 .3h.69l.75 .05v.24l.05 .25h.6l.5 .03v.16l.04 .18h.46l.5 .03v.15l.03 .18h.47l.5 .03v.14l.03 .17h.47l.5 .03v.14l.03 .16h.47l.5 .03v.13l.06 .3h.94l1 .05v.24l.06 .29h.94l1 .05v.24l.05 .28h.95l1 .05v.23l.05 .27h.95l1 .05v.22l.05 .26h.95l1 .04v.22l.05 .25h.95l1 .04v.2l.04 .24h.96l1 .04v.19l.04 .22h.96l1 .04v.18l.04 .2h.96l1.5 .05v.24l.05 .28h1.45l1.5 .04v.21l.05 .3h1.95l2 .04v.21l.05 .29h2.95l4 .05v.24l.05 .3h3.95l3 .05v.25l.04 .28h1.96l1.5 .04v.25l.03 .21h.97l1 .03v.2l.03 .24h.97l1 .03v.22l.03 .24h.97l1 .03v.21l.03 .24h.97l1 .03v.19l.04 .3h1.46l1.5 .04v.25l.04 .29h1.46l1.5 .04v.24l.04 .28h1.46l1.5 .03v.24l.04 .27h1.46l1.5 .03v.23l.03 .27h1.47l1.5 .03v.22l.03 .25h1.47l1.5 .03v.22l.03 .24h1.47l1.5 .03v.21l.03 .24h1.47l1.5 .03v.22l.03 .25h1.47l1.5 .03v.23l.03 .29h1.47l1.5 .03v.26h.3h-.3h.3h-.3h.3h-.3h.3h-.3h.3h-.3h.3h-.3h.3h-.3h.3h-.3h.3h-.3h.3h-.3h.3h-.3h.3h-.3h.3h-.3h.3h-.3h.3h-.3h.3h-.3h.3h-.3h.3h-.3h.3h-.3h.3h-.3h.3h-.3h.3h-.3h.3h-.3h.3h-.3h.3h-.3h.3h-.3h.3h-.3h.3h-.3h.3h-.3h.3h-.3h.3h-.3h.3h-.3h.3h-.3h.3h-.3h.3h-.3h.3h-.3h.3h-.3h.3h-.3h.3h-.3h.3h-.3h.3h-.3h.3h-.3h.3h-.3h.3h-.3h.3h-.3h.3h-.3h.3h-.3h.3h-.3h.3h-.3h.3h-.3h.3h-.3h.3h-.3l.03 .3h1.47l1.5 .03v.26l.03 .27h1.47l1.5 .03v.23l.03 .29h1.97l2 .03v.22l.03 .28h2.47l2.5 .03v.24l.03 .27h2.47l2.5 .03v.26l.02 .26h1.98l2 .02v.24l.02 .26h1.98l2 .02v.25l.02 .28h1.98l2 .02v.25l.02 .27h1.98l2 .02v.25l.02 .29h1.98l2 .02v.26l.02 .27h1.98l2 .02v.25l.02 .25h1.98l2.5 .02v.27l.02 .26h2.48l2.5 .02v.24l.02 .29h2.98l3 .02v.25l.02 .27h2.98l3 .01v.26l.01 .26h2.99l3 .01v.26l.01 .29h2.99l3 .01v.28l.01 .26h2.49l2.5 .01v.25l.01 .27h2.49l2.5 .01v.27l.01 .27h2.49l2.5 .01v.27l.01 .27h2.49l2.5 .01v.25l.01 .26h2.49l2.5 .01v.25l.01 .26h2.49l2.5 .01v.24l.01 .26h2.49l2.5 .01v.25l.01 .25h2.49l2.5 .01v.25l.01 .26h2.49l2.5 .01v.24l.01 .25h2.49l2.5 .01v.25l.01 .3h2.99l2.5 .01v.24l.01 .3h2.99l3 .01v.29l.01 .29h2.99l3 .01v.29l.01 .29h2.99l3 .01v.28l.01 .28h2.99l3 .01v.28l.01 .28h2.99l3 .01v.26l.01 .28h2.99l3 .01v.26l.01 .26h2.99l3 .01v.26l.01 .3h3.49l3.5 .01v.28l.01 .29h3.49l3.5 .01v.28l.01 .28h3.49l3.5 .01v.27v.27h3.5h3.5v.28v.27h3.5h4v.3v.3h4h4v.29v.3h4h4v.29v.28h4h4v.29v.28h4h4v.28v.28h4h4v.27v.27h4h4v.28v.3h4.5h4v.27v.3h4.5h4.5v.3v.3h4.5h4.5v.3v.3h4.5h4.5v.3v.3h4.5h4.5v.3v.3h4.5h4v.27v.27h4h4.5v.3v.27h4h4v.27v.3h4.5h4.5v.3v.3h4.5h4.5v.29v.3h4.5h4.5v.29v.29h4.5h4.5v.29v.28h4.5h4.5v.28v.28h4.5h4.5v.27v.3h5h5v.29v.28h5h5v.28v.29h5.5h5.5v.29v.28h5.5h6v.29v.28h6h6v.28v.29h6.5h6.5v.29v.3h7h7v.29v.29h7h7v.28v.28h7h7v.28v.28h7h7v.28v.28h7h7v.29v.29h7h7v.29v.29h7h7v.3v.29h7h7v.3v.29h7h7v.3v.29h7h7v.29v.28h7h7v.28v.28h7h7v.27v.27h7h7v.26v.26h7h7v.25v.25h7h7v.25v.24h7h7v.24v.24h7h7v.24v.24h7h7v.24v.23h7h7v.24v.24h7h7v.24v.23h7h7v.24v.24h7h7v.24v.24h7h7v.24v.23h7h7v.24v.23h7h7v.24v.24h7h7v.23v.24h7h7v.23v.24h7h7v.24v.24h7h7v.24v.24h7h7v.25v.24h7h7v.24v.25h7h7v.24v.25h7h7v.24v.25h7h7v.25v.2h5.8"/>
<path stroke="#008888" stroke-dasharray="0.01 13.8" stroke-dashoffset="0" d="M187.8 1448.7l.3 2.39l.3 2.39l.3 2.4l.3 2.4l.3 2.41l.3 2.41l.35 2.78l.35 2.77l.3 2.41l.3 2.47l.3 2.57l.3 2.77l.3 2.94l.3 2.97l.3 2.85l.3 2.61l.3 2.42l.35 2.68l.35 2.59l.35 2.56l.35 2.61l.35 2.65l.35 2.65l.35 2.64l.35 2.64l.35 2.64l.35 2.63l.35 2.6l.35 2.61l.35 2.64l.35 2.71l.3 2.4l.3 2.47l.3 2.52l.3 2.55l.3 2.55l.3 2.55l.3 2.64l.3 2.67l.3 2.65l.3 2.54l.35 2.72l.35 2.46l.4 2.61l.4 2.5l.4 2.49l.4 2.59l.35 2.43l.35 2.54l.35 2.58l.35 2.59l.35 2.51l.35 2.4l.4 2.62l.4 2.53l.4 2.49l.4 2.48l.4 2.51l.4 2.55l.4 2.55l.4 2.55l.4 2.55l.4 2.54l.4 2.52l.4 2.52l.4 2.52l.4 2.5l.4 2.47l.4 2.43l.4 2.39l.4 2.34l.4 2.32l.4 2.31l.4 2.3l.4 2.32l.4 2.34l.4 2.33l.4 2.34l.4 2.31l.4 2.28l.45 2.51l.45 2.45l.45 2.41l.45 2.39l.45 2.4l.45 2.42l.45 2.45l.45 2.49l.45 2.49l.45 2.49l.45 2.45l.45 2.4l.45 2.36l.45 2.33l.45 2.3l.45 2.28l.45 2.26l.45 2.23l.45 2.24l.45 2.22l.5 2.44l.4 1.92l.25 1.18l.25 1.15l.25 1.03v.11l.24 1.11h.01l.25 .91v.18l.24 1.08h.01l.25 .82v.24l.24 1.05h.01l.25 .75v.29l.23 1.03h.02l.25 .69v.33l.23 1.01h.02l.25 .64v.37l.23 1.01h.02l.25 .6v.4l.22 1.01h.03l.25 .57v.44l.22 1h.03l.25 .56v.45l.22 1h.03l.25 .54v.45l.22 1h.03l.25 .53v.45l.22 .98h.03l.25 .52v.45l.22 .97h.03l.25 .5v.45l.21 .95h.04l.25 .49v.44l.21 .93h.04l.25 .48v.43l.21 .91h.04l.25 .46v.44l.21 .89h.04l.25 .45v.43l.21 .87h.04l.25 .44v.43l.21 .87h.04l.25 .43v.43l.21 .85h.04l.25 .43v.42l.2 .85h.05l.25 .37v.47l.19 .84h.06l.25 .33v.51l.18 .84h.07l.25 .29v.55l.17 .84h.08l.25 .26v.57l.16 .83h.09l.25 .23v.59l.15 .82h.1l.25 .21v.6l.14 .81h.11l.25 .2v.6l.14 .79h.11l.25 .19v.59l.14 .78h.11l.25 .18v.58l.13 .75h.12l.25 .18v.57l.13 .74h.12l.25 .17v.58l.13 .74h.12l.25 .17v.56l.13 .73h.12l.25 .16v.56l.12 .71h.13l.25 .16v.54l.12 .69h.13l.25 .15v.54l.12 .67h.13l.25 .15v.5l.11 .65h.14l.25 .14v.49l.11 .61h.14l.25 .13v.47l.11 .58h.14l.25 .13v.45l.1 .57h.15l.25 .12v.44l.1 .56h.15l.25 .11v.43l.1 .54h.15l.25 .11v.42l.09 .52h.16l.25 .1v.41l.09 .51h.16l.25 .1v.4l.08 .49h.17l.25 .09v.4l.08 .48h.17l.25 .09v.38l.08 .47h.17l.25 .08v.39l.07 .45h.18l.25 .08v.38l.07 .46h.18l.25 .07v.38l.07 .46h.18l.25 .07v.38l.06 .45h.19l.25 .07v.38l.06 .44h.19l.25 .06v.37l.06 .43h.19l.25 .06v.36l.06 .42h.19l.25 .06v.34l.06 .4h.19l.25 .06v.32l.05 .38h.2l.25 .05v.31l.05 .35h.2l.25 .05v.28l.05 .32h.2l.25 .05v.25l.05 .29h.2l.25 .05v.24l.05 .28h.2l.25 .04v.23l.04 .27h.21l.25 .04v.22l.04 .26h.21l.25 .04v.22l.04 .25h.21l.3 .05v.25l.05 .29h.25l.3 .05v.23l.05 .28h.25l.3 .04v.23l.04 .27h.26l.35 .05v.25l.05 .29h.3l.35 .05v.24l.05 .28h.3l.35 .04v.23l.05 .3h.35l.4 .05v.24l.05 .28h.35l.4 .04v.23l.05 .3h.4l.45 .05v.23l.05 .3h.45l.5 .05v.23l.05 .28h.5l.6 .05v.24l.06 .29h.59l.7 .05v.24l.06 .3h.69l.8 .06v.24l.06 .3h.74l.75 .06v.23l.06 .28h.64l.65 .05v.23l.06 .3h.59l.6 .06v.24l.06 .3h.49l.5 .05v.24l.05 .29h.4l.4 .05v.23l.04 .26h.31l.35 .05v.23l.05 .28h.3l.35 .05v.25l.04 .26h.26l.3 .04v.23l.04 .27h.26l.3 .04v.24l.04 .28h.26l.3 .04v.25l.04 .28h.26l.3 .04v.25l.04 .29h.26l.3 .04v.25l.04 .28h.26l.3 .04v.25l.04 .28h.26l.3 .04v.24l.04 .27h.26l.3 .04v.23l.04 .27h.26l.35 .05v.24l.04 .26h.26l.35 .05v.25l.05 .29h.3l.35 .05v.25l.05 .29h.3l.35 .05v.25l.05 .29h.3l.35 .05v.25l.05 .29h.3l.35 .05v.24l.05 .3h.3l.35 .05v.24l.05 .29h.3l.35 .05v.24l.05 .29h.3l.35 .05v.23l.05 .29h.3l.35 .05v.23l.05 .29h.3l.35 .05v.23l.05 .28h.3l.35 .05v.23l.05 .28h.3l.35 .05v.22l.05 .28h.3l.35 .05v.22l.05 .27h.3l.35 .05v.22l.05 .26h.3l.35 .05v.22l.05 .26h.3l.35 .05v.22l.05 .29h.35l.35 .05v.21l.05 .26h.3l.4 .05v.25l.05 .29h.35l.4 .05v.25l.05 .29h.35l.4 .05v.24l.05 .3h.35l.4 .05v.24l.05 .29h.35l.4 .05v.24l.05 .3h.35l.4 .05v.24l.05 .29h.35l.4 .05v.25l.05 .29h.35l.4 .05v.25l.05 .29h.35l.4 .05v.25l.05 .29h.35l.4 .05v.25l.05 .29h.35l.4 .05v.25l.05 .29h.35l.4 .05v.24l.05 .3h.35l.4 .05v.24l.05 .29h.35l.4 .05v.24l.05 .29h.35l.4 .05v.24l.05 .29h.35l.4 .05v.23l.05 .29h.35l.4 .05v.23l.05 .29h.35l.4 .05v.23l.05 .29h.35l.4 .05v.23l.05 .29h.35l.4 .05v.24l.05 .28h.35l.4 .05v.24l.05 .29h.35l.4 .05v.23l.05 .28h.35l.4 .05v.24l.05 .28h.35l.4 .05v.22l.05 .28h.35l.4 .05v.22l.05 .27h.35l.4 .05v.22l.06 .29h.39l.45 .05v.24l.06 .29h.39l.45 .05v.23l.05 .27h.4l.45 .05v.23l.06 .3h.44l.5 .06v.23l.05 .27h.4l.5 .06v.24l.06 .29h.44l.5 .06v.23l.06 .28h.44l.5 .06v.23l.06 .28h.44l.5 .05v.23l.06 .28h.44l.55 .06v.24l.06 .3h.49l.55 .06v.23l.06 .29h.49l.55 .06v.23l.06 .28h.49l.55 .06v.22l.06 .28h.49l.6 .06v.24l.06 .29h.54l.6 .06v.23l.06 .28h.54l.6 .06v.22l.06 .3h.59l.65 .06v.24l.06 .29h.59l.65 .06v.24l.06 .29h.59l.65 .06v.23l.06 .29h.59l.65 .06v.23l.06 .29h.59l.65 .05v.23l.06 .28h.59l.7 .06v.24l.06 .3h.64l.7 .05v.24l.06 .28h.64l.7 .05v.24l.06 .29h.69l.75 .06v.24l.06 .28h.69l.8 .06v.24l.06 .29h.74l.8 .05v.23l.03 .17h.47l.5 .03v.14l.03 .16h.47l.5 .03v.13l.03 .16h.47l.5 .03v.12l.06 .29h.94l1 .05v.23l.05 .26h.95l1 .05v.19l.05 .24h.95l1 .04v.18l.04 .21h.96l1 .04v.17l.06 .29h1.44l1.5 .05v.24l.05 .28h1.45l1.5 .05v.23l.05 .28h1.45l1.5 .05v.25l.04 .2h.96l1 .03v.18l.04 .21h.96l1 .04v.18l.04 .21h.96l1 .04v.18l.04 .22h.96l1 .03v.18l.04 .21h.96l1 .03v.18l.03 .21h.97l1.5 .05v.25l.05 .28h1.45l1.5 .04v.23l.04 .25h1.46l1.5 .04v.21l.04 .25h1.46l1.5 .04v.21l.04 .25h1.46l1.5 .04v.24l.04 .29h1.46l1 .03v.17l.03 .22h.97l1 .03v.19l.03 .22h.97l1 .03v.19l.03 .23h.97l1 .03v.19l.03 .22h.97l1 .03v.19l.03 .21h.97l1.5 .04v.26l.04 .29h1.46l1.5 .04v.25l.04 .28h1.46l1.5 .03v.25l.04 .27h1.46l1.5 .03v.24l.03 .26h1.47l1.5 .03v.24l.03 .25h1.47l1.5 .03v.22l.03 .25h1.47l1.5 .03v.21l.03 .24h1.47l1.5 .03v.21l.03 .25h1.47l1.5 .03v.22l.03 .26h1.47l1.5 .03v.26l.03 .29h1.47h.3h-.3h.3h-.3h.3h-.3h.3h-.3h.3h-.3h.3h-.3h.3h-.3h.3h-.3l1.5 .03v.27l.03 .29h1.47l1.5 .03v.24l.03 .26h1.47l2 .03v.26l.03 .25h1.97l2.5 .03v.25l.03 .27h2.47l2.5 .03v.24l.03 .29h2.47l2 .02v.24l.02 .26h1.98l2 .02v.24l.02 .27h1.98l2 .02v.26l.02 .27h1.98l2 .02v.25l.02 .27h1.98l2 .02v.27l.02 .28h1.98l2 .02v.25l.02 .27h1.98l2 .02v.23l.02 .29h2.48l2.5 .02v.24l.02 .26h2.48l3 .02v.27l.02 .27h2.98l3 .02v.25l.01 .27h2.99l3 .01v.25l.01 .27h2.99l3 .01v.28l.01 .29h2.99l2.5 .01v.25l.01 .26h2.49l2.5 .01v.26l.01 .28h2.49l2.5 .01v.26l.01 .28h2.49l2.5 .01v.26l.01 .26h2.49l2.5 .01v.25l.01 .26h2.49l2.5 .01v.25l.01 .25h2.49l2.5 .01v.25l.01 .26h2.49l2.5 .01v.24l.01 .26h2.49l2.5 .01v.25l.01 .25h2.49l2.5 .01v.24l.01 .26h2.49l3 .01v.29l.01 .25h2.49l3 .01v.29l.01 .3h2.99l3 .01v.28l.01 .3h2.99l3 .01v.28l.01 .29h2.99l3 .01v.27l.01 .29h2.99l3 .01v.27l.01 .27h2.99l3 .01v.27l.01 .27h2.99l3 .01v.25l.01 .27h2.99l3.5 .01v.29l.01 .29h3.49l3.5 .01v.28l.01 .29h3.49l3.5 .01v.27l.01 .28h3.49h3.5v.27v.28h3.5h3.5v.27v.3h4h4v.3v.29h4h4v.3v.29h4h4v.28v.29h4h4v.28v.28h4h4v.28v.27h4h4v.27v.28h4h4.5v.3v.27h4h4.5v.3v.3h4.5h4.5v.3v.3h4.5h4.5v.3v.3h4.5h4.5v.3v.3h4.5h4.5v.3v.27h4h4v.27v.3h4.5h4v.27v.27h4h4.5v.3v.3h4.5h4.5v.3v.29h4.5h4.5v.3v.29h4.5h4.5v.29v.29h4.5h4.5v.28v.28h4.5h4.5v.28v.27h4.5h5v.3v.29h5h5v.28v.28h5h5.5v.29v.29h5.5h5.5v.28v.29h6h6v.28v.28h6h6.5v.29v.29h6.5h7v.3v.29h7h7v.29v.28h7h7v.28v.28h7h7v.28v.28h7h7v.28v.29h7h7v.29v.29h7h7v.29v.3h7h7v.29v.3h7h7v.29v.3h7h7v.29v.29h7h7v.28v.28h7h7v.28v.27h7h7v.27v.26h7h7v.26v.25h7h7v.25v.25h7h7v.24v.24h7h7v.24v.24h7h7v.24v.24h7h7v.23v.24h7h7v.24v.24h7h7v.23v.24h7h7v.24v.24h7h7v.24v.24h7h7v.23v.24h7h7v.23v.24h7h7v.24v.23h7h7v.24v.23h7h7v.24v.24h7h7v.24v.24h7h7v.24v.25h7h7v.24v.24h7h7v.25v.24h7h7v.25v.24h7h7v.25v.25h7h5.8v.2"/>
<path stroke="#003f80" stroke-dasharray="28.7 13.7 0.01 13.7" stroke-dashoffset="1.8" d="M187.8 1218.5l.2 3.01l.2 3l.2 2.99l.2 2.98l.2 2.96l.2 2.94l.2 2.93l.2 2.91l.2 2.89l.2 2.88l.2 2.86l.2 2.84l.2 2.82l.2 2.8l.2 2.78l.2 2.75l.2 2.74l.2 2.71l.2 2.7l.2 2.68l.2 2.66l.25 3.31l.25 3.3l.25 3.27l.25 3.27l.25 3.26l.25 3.25l.25 3.24l.25 3.25l.25 3.24l.25 3.26l.25 3.26l.25 3.27l.25 3.28l.25 3.28l.25 3.29l.25 3.29l.25 3.29l.25 3.28l.25 3.29l.25 3.27l.25 3.26l.25 3.26l.25 3.24l.25 3.23l.25 3.21l.25 3.19l.25 3.18l.25 3.15l.25 3.12l.25 3.11l.25 3.08l.25 3.06l.25 3.04l.25 3.02l.25 3.02l.25 2.99l.25 2.99l.25 2.98l.25 2.97l.25 2.97l.25 2.96l.25 2.96l.25 2.96l.25 2.96l.25 2.96l.25 2.98l.25 2.97l.25 2.99l.25 3.01l.25 3.02l.25 3.03l.25 3.04l.25 3.04l.25 3.04l.25 3.03l.25 3.03l.25 3.02l.25 3.01l.25 2.99l.25 2.96l.25 2.95l.25 2.91l.25 2.89l.25 2.85l.25 2.82l.25 2.77l.25 2.74l.25 2.72l.25 2.7l.25 2.68l.25 2.66l.25 2.63l.25 2.61l.25 2.59l.25 2.57l.25 2.55l.25 2.52l.25 2.5l.3 2.97l.3 2.94l.3 2.9l.3 2.87l.3 2.79l.3 2.73l.3 2.68l.3 2.67l.3 2.67l.3 2.66l.3 2.63l.3 2.61l.3 2.6l.3 2.58l.3 2.58l.3 2.58l.3 2.57l.3 2.58l.3 2.59l.3 2.6l.3 2.62l.3 2.64l.3 2.66l.3 2.7l.3 2.72l.3 2.78l.3 2.83l.3 2.86l.3 2.88l.3 2.89l.3 2.88l.3 2.86l.3 2.82l.3 2.78l.3 2.73l.3 2.75l.3 2.75l.3 2.75l.3 2.73l.3 2.7l.3 2.65l.3 2.59l.3 2.53l.3 2.43l.35 2.72l.35 2.59l.35 2.47l.35 2.38l.4 2.63l.4 2.55l.4 2.5l.4 2.48l.4 2.48l.4 2.5l.4 2.54l.4 2.62l.35 2.35l.35 2.38l.35 2.41l.35 2.42l.35 2.42l.35 2.41l.35 2.39l.35 2.36l.35 2.32l.4 2.58l.4 2.49l.4 2.39l.4 2.32l.45 2.52l.45 2.45l.45 2.41l.45 2.36l.45 2.33l.45 2.27l.45 2.24l.5 2.44l.5 2.41l.5 2.39l.5 2.39l.5 2.42l.5 2.42l.5 2.42l.5 2.41l.5 2.38l.3 1.42l.25 1.16l.25 1.15l.25 .9v.24l.24 1.12h.01l.25 .72v.38l.23 1.08h.02l.25 .6v.47l.22 1.04h.03l.25 .51v.5l.21 1h.04l.25 .44v.52l.2 .94h.05l.25 .38v.53l.19 .9h.06l.25 .34v.54l.18 .85h.07l.25 .3v.54l.17 .83h.08l.25 .27v.54l.17 .8h.08l.25 .25v.54l.16 .78h.09l.25 .22v.56l.15 .76h.1l.25 .2v.56l.14 .76h.11l.25 .19v.57l.13 .77h.12l.25 .17v.6l.13 .77h.12l.25 .16v.61l.12 .77h.13l.25 .14v.61l.11 .75h.14l.25 .14v.59l.11 .71h.14l.25 .14v.56l.11 .66h.14l.25 .13v.52l.11 .61h.14l.25 .13v.45l.11 .54h.14l.25 .12v.39l.1 .49h.15l.25 .12v.35l.1 .47h.15l.25 .12v.34l.1 .45h.15l.25 .11v.33l.1 .43h.15l.25 .11v.3l.1 .41h.15l.25 .11v.28l.1 .38h.15l.25 .1v.26l.09 .36h.16l.25 .1v.24l.09 .32h.16l.25 .09v.22l.09 .29h.16l.25 .09v.19l.08 .26h.17l.3 .1v.19l.09 .27h.21l.3 .09v.18l.09 .28h.21l.3 .09v.18l.09 .26h.21l.3 .09v.18l.1 .3h.25l.35 .1v.18l.1 .28h.25l.4 .1v.19l.1 .27h.3l.5 .11v.18l.12 .28h.48l3.6-.13v-.16l.13-.28h.57l.75-.11v-.18l.12-.29h.53l.55-.1v-.2l.12-.29h.48l2.05 .1v.16l.07 .28h.18l.25 .08v.24l.08 .35h.17l.25 .08v.28l.08 .38h.17l.25 .08v.29l.08 .36h.17l.25 .08v.27l.08 .4h.17l.25 .09v.34l.08 .46h.17l.25 .09v.39l.08 .5h.17l.25 .09v.43l.08 .51h.17l.25 .09v.41l.08 .5h.17l.25 .09v.38l.08 .44h.17l.25 .09v.32l.08 .37h.17l.25 .08v.26l.07 .32h.18l.25 .08v.24l.07 .31h.18l.25 .07v.23l.07 .29h.18l.25 .07v.21l.07 .27h.18l.25 .07v.2l.07 .26h.18l.25 .06v.2l.08 .3h.22l.3 .07v.22l.08 .29h.22l.3 .07v.21l.07 .29h.23l.3 .07v.21l.07 .27h.23l.3 .07v.21l.07 .28h.23l.3 .07v.21l.07 .29h.23l.3 .07v.21l.07 .3h.23l.3 .07v.22l.06 .26h.19l.25 .06v.2l.06 .26h.19l.25 .06v.21l.06 .27h.19l.25 .06v.21l.06 .28h.19l.25 .06v.22l.06 .28h.19l.25 .06v.22l.06 .28h.19l.25 .06v.23l.06 .28h.19l.25 .06v.23l.06 .29h.19l.25 .06v.23l.06 .29h.19l.25 .06v.23l.06 .3h.19l.25 .06v.23l.06 .29h.19l.25 .06v.24l.06 .29h.19l.25 .06v.24l.06 .3h.19l.25 .06v.23l.06 .3h.19l.25 .06v.24l.06 .29h.19l.25 .06v.24l.06 .29h.19l.25 .06v.24l.06 .29h.19l.25 .06v.24l.06 .29h.19l.25 .06v.23l.06 .29h.19l.25 .06v.23l.06 .29h.19l.25 .06v.23l.06 .28h.19l.25 .06v.23l.06 .28h.19l.25 .06v.22l.06 .28h.19l.25 .06v.22l.06 .27h.19l.25 .06v.22l.05 .27h.2l.25 .05v.21l.05 .27h.2l.25 .05v.21l.05 .26h.2l.25 .05v.21l.05 .26h.2l.3 .06v.24l.06 .3h.24l.3 .06v.23l.06 .29h.24l.3 .06v.22l.06 .28h.24l.3 .06v.21l.06 .27h.24l.3 .06v.2l.07 .3h.28l.35 .06v.23l.06 .29h.29l.35 .06v.22l.06 .27h.29l.35 .06v.22l.06 .27h.29l.35 .06v.2l.06 .27h.29l.4 .07v.23l.07 .29h.33l.4 .07v.23l.07 .3h.33l.4 .06v.23l.06 .27h.29l.4 .06v.24l.06 .26h.29l.35 .06v.21l.06 .27h.29l.35 .06v.22l.06 .28h.29l.35 .06v.23l.06 .28h.29l.35 .06v.23l.06 .3h.29l.35 .06v.23l.06 .3h.29l.35 .06v.24l.06 .3h.29l.35 .06v.24l.06 .3h.29l.35 .06v.24l.06 .3h.29l.35 .06v.24l.06 .29h.29l.3 .05v.21l.06 .29h.29l.35 .06v.24l.06 .29h.29l.35 .06v.23l.06 .28h.29l.35 .06v.23l.06 .27h.29l.35 .05v.23l.05 .27h.3l.35 .05v.22l.06 .3h.34l.4 .06v.24l.06 .3h.34l.4 .06v.23l.06 .29h.34l.4 .06v.23l.06 .29h.34l.4 .05v.23l.06 .29h.34l.4 .05v.23l.06 .28h.34l.4 .05v.23l.05 .27h.35l.4 .05v.23l.05 .28h.35l.4 .05v.22l.05 .27h.35l.4 .05v.22l.05 .28h.35l.4 .05v.22l.05 .27h.35l.4 .05v.22l.05 .27h.35l.4 .05v.22l.05 .27h.35l.4 .05v.22l.05 .27h.35l.4 .05v.22l.06 .3h.39l.45 .05v.25l.06 .3h.39l.45 .05v.24l.06 .3h.39l.45 .05v.24l.05 .29h.4l.45 .05v.24l.05 .28h.4l.45 .05v.23l.05 .28h.4l.45 .05v.23l.05 .27h.4l.45 .05v.22l.06 .3h.44l.5 .05v.24l.06 .3h.44l.5 .05v.24l.05 .29h.45l.5 .05v.24l.05 .29h.45l.5 .05v.24l.05 .28h.45l.5 .05v.23l.05 .27h.45l.5 .05v.22l.05 .3h.5l.55 .05v.23l.05 .28h.5l.6 .05v.25l.05 .28h.55l.65 .05v.25l.05 .28h.6l.65 .05v.23l.02 .11h.23l.5 .04v.17l.04 .2h.46l.5 .04v.16l.04 .2h.46l.5 .03v.16l.04 .19h.46l.5 .03v.16l.03 .18h.47l.5 .03v.15l.03 .18h.47l.5 .03v.14l.03 .17h.47l.5 .03v.14l.03 .17h.47l.5 .03v.13l.03 .16h.47l.5 .03v.13l.03 .16h.47l.5 .03v.12l.03 .16h.47l1 .05v.24l.05 .29h.95l1 .05v.23l.05 .28h.95l1 .05v.21l.05 .26h.95l1 .04v.22l.05 .25h.95l1 .04v.2l.04 .24h.96l1 .04v.2l.04 .23h.96l1 .04v.19l.04 .22h.96l1 .04v.18l.04 .22h.96l1 .03v.18l.04 .21h.96l1 .03v.17l.03 .2h.97l1.5 .05v.25l.05 .28h1.45l1.5 .04v.24l.04 .27h1.46l1.5 .04v.21l.04 .24h1.46l1.5 .04v.21l.04 .25h1.46l1.5 .04v.22l.04 .28h1.46l1.5 .04v.26l.03 .21h.97l1 .03v.19l.03 .22h.97l1 .03v.19l.03 .23h.97l1 .03v.19l.03 .22h.97l1 .03v.19l.03 .22h.97l1.5 .04v.26l.04 .29h1.46l1.5 .04v.25l.04 .29h1.46l1.5 .03v.24l.04 .28h1.46l1.5 .03v.24l.03 .27h1.47l1.5 .03v.23l.03 .26h1.47l1.5 .03v.22l.03 .24h1.47l1.5 .03v.22l.03 .24h1.47l1.5 .03v.21l.03 .25h1.47l1.5 .03v.22l.03 .26h1.47l1.5 .03v.24l.03 .29h1.47l1.5 .03v.27l.03 .29h1.47l1.5 .03v.25l.03 .27h1.47l1.5 .02v.21l.03 .27h1.97l2.5 .03v.26l.03 .27h2.47l2.5 .03v.24l.03 .28h2.47l2 .02v.23l.02 .26h1.98l2 .02v.24l.02 .27h1.98l2 .02v.25l.02 .27h1.98l2 .02v.25l.02 .27h1.98l2 .02v.26l.02 .29h1.98l2 .02v.26l.02 .27h1.98l2 .02v.24l.02 .3h2.48l2.5 .02v.25l.02 .26h2.48l3 .02v.27l.02 .28h2.98l3 .02v.25l.02 .27h2.98l3 .01v.25l.01 .27h2.99l3 .01v.27l.01 .29h2.99l2.5 .01v.24l.01 .27h2.49l2.5 .01v.25l.01 .28h2.49l2.5 .01v.26l.01 .28h2.49l2.5 .01v.26l.01 .27h2.49l2.5 .01v.25l.01 .26h2.49l2.5 .01v.24l.01 .26h2.49l2.5 .01v.25l.01 .25h2.49l2.5 .01v.25l.01 .26h2.49l2.5 .01v.24l.01 .26h2.49l2.5 .01v.24l.01 .26h2.49l3 .01v.29l.01 .25h2.49l2.5 .01v.24l.01 .3h2.99l3 .01v.29l.01 .29h2.99l3 .01v.28l.01 .29h2.99l3 .01v.28l.01 .29h2.99l3 .01v.27l.01 .28h2.99l3 .01v.26l.01 .27h2.99l3 .01v.26l.01 .27h2.99l3.5 .01v.29l.01 .3h3.49l3.5 .01v.28l.01 .29h3.49l3.5 .01v.27l.01 .28h3.49h3.5v.28v.27h3.5h3.5v.27v.27h3.5h4v.3v.3h4h4v.29v.29h4h4v.29v.29h4h4v.28v.28h4h4v.28v.27h4h4v.28v.27h4h4v.27v.27h4h4v.27v.3h4.5h4.5v.3v.3h4.5h4.5v.3v.3h4.5h4.5v.3v.3h4.5h4.5v.3v.3h4.5h4v.27v.27h4h4v.27v.3h4.5h4v.27v.3h4.5h4.5v.3v.3h4.5h4.5v.29v.3h4.5h4.5v.29v.29h4.5h4.5v.28v.29h4.5h4.5v.28v.27h4.5h4.5v.27v.3h5h5v.28v.29h5h5.5v.3v.29h5.5h5.5v.28v.3h6h6v.29v.28h6h6.5v.3v.28h6.5h6.5v.29v.29h7h7v.29v.29h7h7v.28v.28h7h7v.28v.28h7h7v.28v.28h7h7v.29v.29h7h7v.29v.3h7h7v.29v.28h6.5h7v.29v.3h7h7v.29v.29h7h7v.29v.28h7h7v.28v.28h7h7v.27v.26h7h7v.26v.26h7h7v.25v.25h7h7v.25v.24h7h7v.24v.24h7h7v.24v.24h7h7v.23v.24h7h7v.24v.23h7h7v.24v.24h7h7v.24v.24h7h7v.24v.23h7h7v.24v.24h7h7v.23v.24h7h7v.23v.24h7h7v.24v.23h7h7v.24v.24h7h7v.24v.24h7h7v.24v.24h7h7v.24v.25h7h7v.24v.24h7h7v.25v.24h7h7v.25v.25h7h7v.24v.12h3.3"/>
</g>
<g font-family="'Liberation Serif', 'Times New Roman', serif" font-size="47" fill="#000" stroke="#000" stroke-width="0.35">
<text x="152.6" y="35.4" text-anchor="end">900</text>
<text x="152.6" y="176.4" text-anchor="end">800</text>
<text x="152.6" y="317.4" text-anchor="end">700</text>
<text x="152.6" y="458.4" text-anchor="end">600</text>
<text x="152.6" y="599.3" text-anchor="end">500</text>
<text x="152.6" y="740.3" text-anchor="end">400</text>
<text x="152.6" y="881.3" text-anchor="end">300</text>
<text x="152.6" y="1152.2" text-anchor="end">900</text>
<text x="152.6" y="1293.3" text-anchor="end">800</text>
<text x="152.6" y="1434.3" text-anchor="end">700</text>
<text x="152.6" y="1575.4" text-anchor="end">600</text>
<text x="152.6" y="1716.5" text-anchor="end">500</text>
<text x="152.6" y="1857.5" text-anchor="end">400</text>
<text x="152.6" y="1998.6" text-anchor="end">300</text>
<text x="774.9" y="942.5" text-anchor="middle">0</text>
<text x="989.2" y="942.5" text-anchor="middle">50</text>
<text x="1203.5" y="942.5" text-anchor="middle">100</text>
<text transform="translate(296.2 942.1) scale(0.872 1)" stroke-width="1">–</text>
<text x="317.1" y="942.5">100</text>
<text transform="translate(522.5 942.1) scale(0.872 1)" stroke-width="1">–</text>
<text x="545" y="942.5">50</text>
<text x="187.6" y="2058.6" text-anchor="middle">0</text>
<text x="355.5" y="2058.6" text-anchor="middle">20</text>
<text x="523.3" y="2058.6" text-anchor="middle">40</text>
<text x="691.2" y="2058.6" text-anchor="middle">60</text>
<text x="859" y="2058.6" text-anchor="middle">80</text>
<text x="1026.9" y="2058.6" text-anchor="middle">100</text>
<text x="1194.7" y="2058.6" text-anchor="middle">120</text>
<text x="1362.6" y="2058.6" text-anchor="middle">140</text>
</g>
<g font-family="'Liberation Serif', 'Times New Roman', serif" font-size="54" fill="#000" stroke="#000" stroke-width="0.35">
<text x="705.5" y="1029.8"><tspan font-style="italic">z</tspan> (nm)</text>
<text x="704.5" y="2147"><tspan font-style="italic">x</tspan> (nm)</text>
<text font-size="53" letter-spacing="0.7" transform="translate(41.4 442.4) rotate(-90)" text-anchor="middle"><tspan font-style="italic">T</tspan> (K)</text>
<text font-size="53" letter-spacing="0.7" transform="translate(41.4 1555.2) rotate(-90)" text-anchor="middle"><tspan font-style="italic">T</tspan> (K)</text>
</g>
<g font-family="'Liberation Sans', Arial, sans-serif" font-size="50" font-weight="bold" letter-spacing="0.3" fill="#000">
<text x="6.6" y="1055">(a)</text>
<text x="5.3" y="2138.5">(b)</text>
</g>
<g fill="none" stroke-width="6.4" stroke-linecap="round">
<path stroke="#800000" d="M634 1264.4 H819"/>
<path stroke="#ff8000" stroke-dasharray="43 20.6" d="M634 1336.1 H819"/>
<path stroke="#c0c000" stroke-dasharray="32.3 17.2" d="M634 1407.7 H819"/>
<path stroke="#008000" stroke-dasharray="21.8 13.2" d="M634 1479.4 H819"/>
<path stroke="#008888" stroke-dasharray="0.01 13.6" d="M634 1551 H819"/>
<path stroke="#003f80" stroke-dasharray="28.7 13.7 0.01 13.7" d="M634 1622.7 H819"/>
</g>
<g font-family="'Liberation Serif', 'Times New Roman', serif" font-size="45" fill="#000" stroke="#000" stroke-width="0.35">
<text transform="translate(861.8 1271.8) scale(1.19 1)" font-style="italic">k</text><text x="888.4" y="1285.8" font-size="29.3">cp</text><text transform="translate(915.4 1271.8) scale(1.13 1)">=</text><text transform="translate(942.5 1271.8) scale(1.01 1)">0.1</text><text transform="translate(998 1271.8) scale(1.19 1)" font-style="italic">k</text><text x="1023.9" y="1285.8" font-size="29.3">bulk</text><text transform="translate(1090.3 1271.8) scale(1.13 1)">;</text><text transform="translate(1109.4 1271.8) scale(1.19 1)" font-style="italic">k</text><text x="1136" y="1285.8" font-size="29.3">ip</text><text transform="translate(1158.1 1271.8) scale(1.13 1)">=</text><text transform="translate(1183 1271.8) scale(1.01 1)">2.5</text><text transform="translate(1239.2 1271.8) scale(1.19 1)" font-style="italic">k</text><text x="1264.8" y="1285.8" font-size="29.3">cp</text>
<text transform="translate(861.8 1343.5) scale(1.19 1)" font-style="italic">k</text><text x="888.4" y="1357.5" font-size="29.3">cp</text><text transform="translate(915.4 1343.5) scale(1.13 1)">=</text><text transform="translate(942.5 1343.5) scale(1.01 1)">0.1</text><text transform="translate(998 1343.5) scale(1.19 1)" font-style="italic">k</text><text x="1023.9" y="1357.5" font-size="29.3">bulk</text><text transform="translate(1090.3 1343.5) scale(1.13 1)">;</text><text transform="translate(1109.4 1343.5) scale(1.19 1)" font-style="italic">k</text><text x="1136" y="1357.5" font-size="29.3">ip</text><text transform="translate(1158.1 1343.5) scale(1.13 1)">=</text><text transform="translate(1183 1343.5) scale(1.01 1)">1.67</text><text transform="translate(1262.4 1343.5) scale(1.19 1)" font-style="italic">k</text><text x="1288" y="1357.5" font-size="29.3">cp</text>
<text transform="translate(861.8 1415.1) scale(1.19 1)" font-style="italic">k</text><text x="888.4" y="1429.1" font-size="29.3">cp</text><text transform="translate(915.4 1415.1) scale(1.13 1)">=</text><text transform="translate(942.5 1415.1) scale(1.01 1)">0.1</text><text transform="translate(998 1415.1) scale(1.19 1)" font-style="italic">k</text><text x="1023.9" y="1429.1" font-size="29.3">bulk</text><text transform="translate(1090.3 1415.1) scale(1.13 1)">;</text><text transform="translate(1109.4 1415.1) scale(1.19 1)" font-style="italic">k</text><text x="1136" y="1429.1" font-size="29.3">ip</text><text transform="translate(1158.1 1415.1) scale(1.13 1)">=</text><text transform="translate(1183 1415.1) scale(1.01 1)">1.25</text><text transform="translate(1262.4 1415.1) scale(1.19 1)" font-style="italic">k</text><text x="1288" y="1429.1" font-size="29.3">cp</text>
<text transform="translate(861.8 1486.8) scale(1.19 1)" font-style="italic">k</text><text x="888" y="1500.8" font-size="29.3">cp,ip</text><text transform="translate(945.6 1486.8) scale(1.13 1)">=</text><text transform="translate(973.2 1486.8) scale(1.01 1)">0.1</text><text transform="translate(1028.2 1486.8) scale(1.19 1)" font-style="italic">k</text><text x="1055.6" y="1500.8" font-size="29.3">bulk</text>
<text transform="translate(861.8 1558.4) scale(1.19 1)" font-style="italic">k</text><text x="888" y="1572.4" font-size="29.3">cp,ip</text><text transform="translate(945.6 1558.4) scale(1.13 1)">=</text><text transform="translate(973.2 1558.4) scale(1.01 1)">0.075</text><text transform="translate(1074.1 1558.4) scale(1.19 1)" font-style="italic">k</text><text x="1101.3" y="1572.4" font-size="29.3">bulk</text>
<text transform="translate(861.8 1630.1) scale(1.19 1)" font-style="italic">k</text><text x="888" y="1644.1" font-size="29.3">cp,ip</text><text transform="translate(945.6 1630.1) scale(1.13 1)">=</text><text transform="translate(973.2 1630.1) scale(1.01 1)">0.05</text><text transform="translate(1051.8 1630.1) scale(1.19 1)" font-style="italic">k</text><text x="1078.5" y="1644.1" font-size="29.3">bulk</text>
</g>
</svg>
</body>
</html>
